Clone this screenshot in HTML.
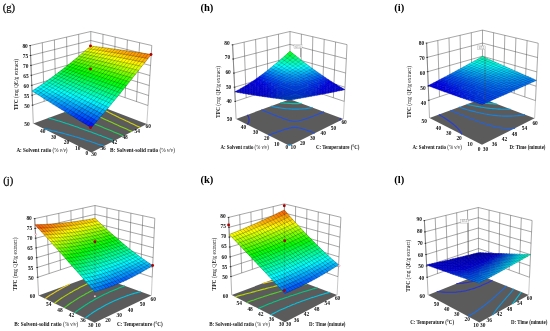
<!DOCTYPE html>
<html><head><meta charset="utf-8"><title>Response surface plots</title>
<style>html,body{margin:0;padding:0;background:#fff}svg{display:block;font-family:"Liberation Serif",serif;filter:blur(.35px)}</style>
</head><body>
<svg width="550" height="331" viewBox="0 0 550 331">
<rect width="550" height="331" fill="#fff"/>
<g><path d="M33.3 123.6 L91.4 152.4 L146.8 124 L90.7 102.5 Z" fill="#5b5b5b"/>
<path d="M103.7 146.1 L101.5 145.3 L100.4 144.9 L98.2 144.2 L96 143.4 L94.3 142.8 L92.6 142.3 L90.4 141.5 L88.1 140.8 L87 140.4 L84.7 139.7 L82.3 138.9 L81.2 138.6 L78.8 137.8 L77.1 137.3 L75.3 136.8 L72.9 136 L71.7 135.7 L69.2 135 L67.9 134.6 L65.5 134 L63.8 133.5 L61.7 132.9 L60 132.5 L57.8 132 L56.4 131.6 L53.8 131 L52.4 130.7 L49.9 130.1 L48.2 129.8 L46.8 129.5 L44.1 129 L44.1 129" fill="none" stroke="#0f98e1" stroke-width="1.1"/>
<path d="M114.1 140.8 L112 140 L110 139.2 L107.9 138.4 L106.4 137.8 L104.8 137.2 L102.8 136.4 L100.7 135.6 L98.6 134.9 L96.5 134.1 L94.9 133.5 L93.4 132.9 L91.3 132.1 L89.2 131.4 L87 130.6 L85.2 129.9 L83.8 129.4 L81.7 128.7 L79.5 127.9 L77.4 127.1 L76.3 126.7 L74.1 126 L71.9 125.2 L69.7 124.5 L68.5 124.1 L66.3 123.4 L64 122.6 L62.9 122.3 L60.6 121.5 L58.2 120.8 L57.1 120.4 L54.7 119.7 L53 119.2 L51.1 118.7 L48.6 118 L48.6 118" fill="none" stroke="#00c6b4" stroke-width="1.1"/>
<path d="M123.5 136 L121.6 135.2 L119.6 134.3 L117.7 133.5 L115.8 132.7 L113.8 131.9 L111.9 131.1 L110 130.3 L108 129.5 L106.1 128.7 L104.1 127.9 L102.2 127.1 L100.3 126.3 L98.3 125.5 L96.4 124.7 L94.5 123.9 L92.5 123.1 L90.6 122.3 L88.6 121.5 L87.7 121.1 L85.7 120.3 L83.8 119.5 L81.8 118.7 L79.9 117.9 L77.9 117.1 L76 116.3 L74 115.5 L72.1 114.7 L70.1 113.9 L68.1 113.1 L66.2 112.3 L65.2 111.9" fill="none" stroke="#28cd58" stroke-width="1.1"/>
<path d="M132.1 131.5 L130.3 130.7 L128.4 129.9 L126.6 129.1 L124.8 128.3 L123 127.5 L121.1 126.7 L119.3 125.9 L117.5 125.1 L115.7 124.2 L113.9 123.4 L112.1 122.6 L110.3 121.8 L109.1 121.3 L107.6 120.6 L105.8 119.8 L104 118.9 L102.2 118.1 L100.4 117.3 L98.7 116.5 L96.9 115.6 L95.1 114.8 L94 114.3 L92.5 113.6 L90.8 112.7 L89 111.9 L87.3 111.1 L85.6 110.2 L83.9 109.4 L83.1 109 L81.4 108.1 L79.7 107.3 L78.9 106.9" fill="none" stroke="#84d414" stroke-width="1.1"/>
<path d="M140.2 127.4 L138.4 126.6 L137.5 126.2 L135.8 125.4 L134 124.6 L132.3 123.8 L130.5 123 L128.8 122.1 L127.1 121.3 L125.9 120.8 L124.5 120.1 L122.8 119.3 L121.1 118.5 L119.4 117.7 L117.7 116.8 L116.9 116.4 L115.2 115.6 L113.5 114.8 L111.9 113.9 L110.2 113.1 L109.4 112.7 L107.8 111.8 L106.2 111 L104.6 110.2 L103.8 109.7 L102.2 108.9 L100.6 108.1 L99 107.2 L98.3 106.8 L96.7 105.9 L95.2 105.1 L94.4 104.6 L93 103.8 L91.5 102.9 L90.9 102.6" fill="none" stroke="#d2d20f" stroke-width="1.1"/>
<path d="M32.6 105.2 L30.2 45.5 M44.2 101.3 L42.3 42.7 M102.2 89.7 L103 34.3 M55.8 97.4 L54.4 39.9 M113.6 93.7 L115.2 37.1 M67.5 93.5 L66.6 37.1 M125.1 97.6 L127.4 39.9 M79.1 89.7 L78.7 34.3 M136.5 101.6 L139.6 42.7 M90.7 85.8 L90.8 31.5 M148 105.5 L151.8 45.5 M30.2 45.5 L90.8 31.5 L151.8 45.5 M30.6 55.5 L90.8 40.5 L151.2 55.5 M31 65.4 L90.8 49.6 L150.5 65.5 M31.4 75.3 L90.8 58.6 L149.9 75.5 M31.8 85.3 L90.7 67.7 L149.3 85.5 M32.2 95.2 L90.7 76.7 L148.6 95.5 M32.6 105.2 L90.7 85.8 L148 105.5" fill="none" stroke="#505050" stroke-width=".5"/>
<path d="M33.3 123.6 L30.2 45.5" stroke="#666" stroke-width=".5"/>
<path d="M146.8 124 L148 105.5" stroke="#777" stroke-width=".4"/>
<path d="M29.3 45.5 h1.6 M29.7 55.5 h1.6 M30.1 65.4 h1.6 M30.5 75.3 h1.6 M30.9 85.3 h1.6 M31.3 95.2 h1.6 M31.7 105.2 h1.6" stroke="#111" stroke-width=".8"/>
<g stroke-width=".35" stroke-linejoin="round">
<path d="M87.8 48.6l3 .5l3-2.7l-3-.4zM90.8 49.1l3 .4l3-2.7l-3-.4zM102.8 54.4l3 .5l3-3l-3-.5zM105.8 54.9l3 .6l3-3.2l-3-.4zM129.7 63.7l3 .7l3.1-3.7l-3-.6zM132.7 64.4l3 .7l3.1-3.8l-3-.6zM135.7 65.1l3 .6l3.2-3.8l-3.1-.6zM138.7 65.7l3 .7l3.2-3.9l-3-.6z" fill="#ffef00" stroke="#ffef00"/>
<path d="M84.8 51.2l3 .5l3-2.6l-3-.5zM87.8 51.7l3 .5l3-2.7l-3-.4zM102.7 58l3 .6l3.1-3.1l-3-.6zM105.7 58.6l3 .6l3.1-3.1l-3-.6zM108.7 59.2l3 .7l3.1-3.3l-3-.5z" fill="#ebff00" stroke="#ebff00"/>
<path d="M81.8 53.7l3 .6l3-2.6l-3-.5zM84.8 54.3l3 .6l3-2.7l-3-.5zM102.7 61.7l3 .7l3-3.2l-3-.6zM105.7 62.4l3 .7l3-3.2l-3-.7zM108.7 63.1l3 .7l3-3.3l-3-.6zM111.7 63.8l3 .7l3-3.4l-3-.6z" fill="#c5ff00" stroke="#c5ff00"/>
<path d="M93.8 49.5l3 .5l3-2.8l-3-.4zM108.8 55.5l3 .6l3-3.3l-3-.5zM111.8 56.1l3 .5l3-3.3l-3-.5zM114.8 56.6l3 .6l3-3.4l-3-.5z" fill="#ffe300" stroke="#ffe300"/>
<path d="M78.8 56.2l3 .7l3-2.6l-3-.6zM81.8 56.9l3 .7l3-2.7l-3-.6zM105.7 66.3l3 .8l3-3.3l-3-.7zM108.7 67.1l2.9 .7l3.1-3.3l-3-.7zM111.6 67.8l3 .8l3.1-3.4l-3-.7zM114.6 68.6l3 .8l3.1-3.5l-3-.7zM117.6 69.4l3 .8l3-3.5l-2.9-.8z" fill="#9fff00" stroke="#9fff00"/>
<path d="M90.8 52.2l3 .6l3-2.8l-3-.5zM93.8 52.8l3 .5l3-2.9l-3-.4zM111.7 59.9l3 .6l3.1-3.3l-3-.6zM114.7 60.5l3 .6l3.1-3.4l-3-.5zM117.7 61.1l3 .7l3.1-3.5l-3-.6z" fill="#f7ff00" stroke="#f7ff00"/>
<path d="M96.8 50l3 .4l3-2.9l-3-.3zM99.8 50.4l3 .5l3-3l-3-.4zM117.8 57.2l3 .5l3.1-3.4l-3.1-.5zM120.8 57.7l3 .6l3.1-3.5l-3-.5z" fill="#ffd800" stroke="#ffd800"/>
<path d="M75.9 58.7l3 .8l2.9-2.6l-3-.7zM78.9 59.5l2.9 .7l3-2.6l-3-.7zM111.6 72l3 .8l3-3.4l-3-.8zM114.6 72.8l3 .9l3-3.5l-3-.8zM117.6 73.7l2.9 .9l3.1-3.6l-3-.8zM120.5 74.6l3 .8l3.1-3.6l-3-.8zM123.5 75.4l3 .9l3-3.7l-2.9-.8zM126.5 76.3l3 .8l3-3.7l-3-.8zM129.5 77.1l2.9 .9l3.1-3.8l-3-.8z" fill="#79ff00" stroke="#79ff00"/>
<path d="M87.8 54.9l3 .6l3-2.7l-3-.6zM90.8 55.5l3 .6l3-2.8l-3-.5zM93.8 56.1l3 .7l3-2.9l-3-.6zM114.7 64.5l3 .7l3-3.4l-3-.7zM117.7 65.2l3 .7l3-3.5l-3-.6zM120.7 65.9l2.9 .8l3.1-3.6l-3-.7zM123.6 66.7l3 .7l3.1-3.7l-3-.6z" fill="#d1ff00" stroke="#d1ff00"/>
<path d="M72.9 61.1l3 .9l3-2.5l-3-.8z" fill="#52ff00" stroke="#52ff00"/>
<path d="M84.8 57.6l3 .7l3-2.8l-3-.6zM87.8 58.3l3 .6l3-2.8l-3-.6zM90.8 58.9l3 .7l3-2.8l-3-.7zM120.6 70.2l3 .8l3-3.6l-3-.7zM123.6 71l3 .8l3-3.7l-3-.7zM126.6 71.8l2.9 .8l3.1-3.8l-3-.7zM129.5 72.6l3 .8l3.1-3.8l-3-.8zM132.5 73.4l3 .8l3.1-3.9l-3-.7z" fill="#abff00" stroke="#abff00"/>
<path d="M96.8 53.3l3 .6l3-3l-3-.5zM99.8 53.9l3 .5l3-3l-3-.5zM120.7 61.8l3 .6l3.1-3.5l-3-.6zM123.7 62.4l3 .7l3.1-3.6l-3-.6zM126.7 63.1l3 .6l3.1-3.6l-3-.6z" fill="#fffa00" stroke="#fffa00"/>
<path d="M102.8 50.9l3 .5l3-3.1l-3-.4zM105.8 51.4l3 .5l3-3.1l-3-.5zM123.8 58.3l3 .6l3.1-3.6l-3-.5zM126.8 58.9l3 .6l3.1-3.7l-3-.5zM129.8 59.5l3 .6l3.1-3.7l-3-.6z" fill="#ffcc00" stroke="#ffcc00"/>
<path d="M70 63.5l2.9 .9l3-2.4l-3-.9zM72.9 64.4l3 .9l3-2.5l-3-.8zM75.9 65.3l3 .9l2.9-2.6l-2.9-.8zM78.9 66.2l2.9 .9l3-2.7l-3-.8zM81.8 67.1l3 .9l3-2.7l-3-.9zM84.8 68l3 .9l3-2.8l-3-.8zM87.8 68.9l3 .9l2.9-2.9l-2.9-.8z" fill="#39ff00" stroke="#39ff00"/>
<path d="M75.9 62l3 .8l2.9-2.6l-2.9-.7zM78.9 62.8l2.9 .8l3-2.6l-3-.8zM81.8 63.6l3 .8l3-2.7l-3-.7zM84.8 64.4l3 .9l3-2.8l-3-.8zM87.8 65.3l3 .8l2.9-2.9l-2.9-.7z" fill="#5fff00" stroke="#5fff00"/>
<path d="M81.8 60.2l3 .8l3-2.7l-3-.7zM84.8 61l3 .7l3-2.8l-3-.6zM87.8 61.7l3 .8l3-2.9l-3-.7zM90.8 62.5l2.9 .7l3-2.9l-2.9-.7z" fill="#85ff00" stroke="#85ff00"/>
<path d="M67 65.9l3 1l2.9-2.5l-2.9-.9zM70 66.9l3 .9l2.9-2.5l-3-.9zM73 67.8l2.9 1l3-2.6l-3-.9zM75.9 68.8l3 1l2.9-2.7l-2.9-.9zM78.9 69.8l3 1l2.9-2.8l-3-.9zM81.9 70.8l2.9 .9l3-2.8l-3-.9zM84.8 71.7l3 1l3-2.9l-3-.9zM87.8 72.7l3 1l2.9-2.9l-2.9-1zM90.8 73.7l2.9 1l3-3l-3-.9zM114.5 81.6l3 1l3-3.6l-3-.9zM117.5 82.6l2.9 1l3-3.7l-2.9-.9zM120.4 83.6l3 1l3-3.7l-3-1zM123.4 84.6l3 1l3-3.8l-3-.9z" fill="#13ff00" stroke="#13ff00"/>
<path d="M96.8 56.8l2.9 .6l3.1-3l-3-.5zM99.7 57.4l3 .6l3.1-3.1l-3-.5zM126.6 67.4l3 .7l3.1-3.7l-3-.7zM129.6 68.1l3 .7l3.1-3.7l-3-.7zM132.6 68.8l3 .8l3.1-3.9l-3-.6zM135.6 69.6l3 .7l3.1-3.9l-3-.7z" fill="#deff00" stroke="#deff00"/>
<path d="M108.8 51.9l3 .4l3.1-3.1l-3.1-.4zM111.8 52.3l3 .5l3.1-3.2l-3-.4zM132.8 60.1l3 .6l3.2-3.8l-3.1-.5zM135.8 60.7l3 .6l3.2-3.9l-3-.5zM138.8 61.3l3.1 .6l3.1-3.9l-3-.6z" fill="#ffc100" stroke="#ffc100"/>
<path d="M64.1 68.2l2.9 1.1l3-2.4l-3-1zM67 69.3l3 1l3-2.5l-3-.9zM70 70.3l3 1.1l2.9-2.6l-2.9-1zM73 71.4l2.9 1l3-2.6l-3-1zM75.9 72.4l3 1.1l3-2.7l-3-1zM78.9 73.5l3 1l2.9-2.8l-2.9-.9zM81.9 74.5l2.9 1.1l3-2.9l-3-1zM84.8 75.6l3 1l3-2.9l-3-1z" fill="#00ff07" stroke="#00ff07"/>
<path d="M93.8 59.6l2.9 .7l3-2.9l-2.9-.6zM96.7 60.3l3 .7l3-3l-3-.6zM99.7 61l3 .7l3-3.1l-3-.6z" fill="#b8ff00" stroke="#b8ff00"/>
<path d="M61.1 70.5l3 1.1l2.9-2.3l-2.9-1.1z" fill="#00ff21" stroke="#00ff21"/>
<path d="M114.8 52.8l3 .5l3.1-3.3l-3-.4zM117.8 53.3l3 .5l3.1-3.4l-3-.4zM141.9 61.9l3 .6l3.1-4l-3-.5z" fill="#ffb500" stroke="#ffb500"/>
<path d="M58.2 72.7l3 1.2l2.9-2.3l-3-1.1zM61.2 73.9l2.9 1.2l3-2.4l-3-1.1zM64.1 75.1l3 1.2l2.9-2.4l-2.9-1.2zM67.1 76.3l3 1.2l2.9-2.5l-3-1.1zM108.5 88.5l3 1.1l3-3.5l-3-1zM111.5 89.6l2.9 1.1l3-3.5l-2.9-1.1zM114.4 90.7l3 1.2l3-3.7l-3-1zM117.4 91.9l3 1.1l2.9-3.7l-2.9-1.1z" fill="#00ff48" stroke="#00ff48"/>
<path d="M64.1 71.6l3 1.1l2.9-2.4l-3-1zM67.1 72.7l2.9 1.2l3-2.5l-3-1.1zM70 73.9l3 1.1l2.9-2.6l-2.9-1zM73 75l3 1.1l2.9-2.6l-3-1.1zM76 76.1l2.9 1.1l3-2.7l-3-1zM78.9 77.2l3 1.1l2.9-2.7l-2.9-1.1zM81.9 78.3l3 1.2l2.9-2.9l-3-1zM84.9 79.5l2.9 1.1l3-2.9l-3-1.1z" fill="#00ff2e" stroke="#00ff2e"/>
<path d="M93.7 63.2l3 .8l3-3l-3-.7zM96.7 64l3 .8l3-3.1l-3-.7zM99.7 64.8l3 .7l3-3.1l-3-.7zM102.7 65.5l3 .8l3-3.2l-3-.7z" fill="#92ff00" stroke="#92ff00"/>
<path d="M55.3 74.9l3 1.3l2.9-2.3l-3-1.2zM58.3 76.2l2.9 1.3l2.9-2.4l-2.9-1.2zM61.2 77.5l3 1.2l2.9-2.4l-3-1.2zM84.9 83.5l2.9 1.2l3-3l-3-1.1zM87.8 84.7l3 1.2l2.9-3.1l-2.9-1.1zM90.8 85.9l2.9 1.2l3-3.1l-3-1.2zM93.7 87.1l3 1.2l3-3.2l-3-1.1zM96.7 88.3l3 1.2l2.9-3.3l-2.9-1.1zM99.7 89.5l2.9 1.2l3-3.3l-3-1.2z" fill="#00ff62" stroke="#00ff62"/>
<path d="M90.8 66.1l2.9 .8l3-2.9l-3-.8zM93.7 66.9l3 .9l3-3l-3-.8zM96.7 67.8l3 .8l3-3.1l-3-.7zM99.7 68.6l3 .9l3-3.2l-3-.8zM102.7 69.5l2.9 .8l3.1-3.2l-3-.8zM105.6 70.3l3 .8l3-3.3l-2.9-.7zM108.6 71.1l3 .9l3-3.4l-3-.8z" fill="#6cff00" stroke="#6cff00"/>
<path d="M120.8 53.8l3.1 .5l3.1-3.4l-3.1-.5zM123.9 54.3l3 .5l3.1-3.5l-3-.4z" fill="#ffaa00" stroke="#ffaa00"/>
<path d="M52.4 77.1l2.9 1.3l3-2.2l-3-1.3zM55.3 78.4l3 1.4l2.9-2.3l-2.9-1.3zM73.1 82.6l2.9 1.2l3-2.7l-3-1.2zM76 83.8l3 1.3l2.9-2.8l-2.9-1.2zM79 85.1l2.9 1.3l3-2.9l-3-1.2zM81.9 86.4l3 1.2l2.9-2.9l-2.9-1.2z" fill="#00ff7c" stroke="#00ff7c"/>
<path d="M49.4 79.2l3 1.4l2.9-2.2l-2.9-1.3zM52.4 80.6l3 1.5l2.9-2.3l-3-1.4zM67.2 83.8l2.9 1.4l3-2.6l-3-1.3zM70.1 85.2l3 1.3l2.9-2.7l-2.9-1.2zM73.1 86.5l3 1.3l2.9-2.7l-3-1.3zM96.7 92.7l3 1.3l2.9-3.3l-2.9-1.2zM99.7 94l2.9 1.2l3-3.3l-3-1.2zM102.6 95.2l3 1.3l2.9-3.4l-2.9-1.2zM105.6 96.5l2.9 1.2l3-3.4l-3-1.2z" fill="#00ff96" stroke="#00ff96"/>
<path d="M90.8 69.8l2.9 1l3-3l-3-.9zM93.7 70.8l3 .9l3-3.1l-3-.8zM96.7 71.7l3 .9l3-3.1l-3-.9zM99.7 72.6l2.9 .9l3-3.2l-2.9-.8zM102.6 73.5l3 .9l3-3.3l-3-.8zM105.6 74.4l3 .9l3-3.3l-3-.9zM108.6 75.3l3 .9l3-3.4l-3-.8zM111.6 76.2l2.9 1l3.1-3.5l-3-.9zM114.5 77.2l3 .9l3-3.5l-2.9-.9zM117.5 78.1l3 .9l3-3.6l-3-.8zM120.5 79l2.9 .9l3.1-3.6l-3-.9zM123.4 79.9l3 1l3.1-3.8l-3-.8zM126.4 80.9l3 .9l3-3.8l-2.9-.9z" fill="#46ff00" stroke="#46ff00"/>
<path d="M126.9 54.8l3 .5l3.1-3.6l-3-.4zM129.9 55.3l3 .5l3.1-3.6l-3-.5zM132.9 55.8l3 .6l3.2-3.8l-3.1-.4z" fill="#ff9f00" stroke="#ff9f00"/>
<path d="M46.5 81.3l3 1.5l2.9-2.2l-3-1.4zM49.5 82.8l3 1.5l2.9-2.2l-3-1.5zM61.3 84.9l3 1.4l2.9-2.5l-3-1.3zM64.3 86.3l2.9 1.4l2.9-2.5l-2.9-1.4zM84.9 91.8l3 1.4l2.9-3l-2.9-1.3zM87.9 93.2l2.9 1.3l3-3.1l-3-1.2zM90.8 94.5l3 1.4l2.9-3.2l-2.9-1.3z" fill="#00ffb1" stroke="#00ffb1"/>
<path d="M58.3 79.8l3 1.3l2.9-2.4l-3-1.2zM61.3 81.1l2.9 1.4l2.9-2.5l-2.9-1.3zM64.2 82.5l3 1.3l2.9-2.5l-3-1.3zM84.9 87.6l3 1.3l2.9-3l-3-1.2zM87.9 88.9l2.9 1.3l2.9-3.1l-2.9-1.2zM90.8 90.2l3 1.2l2.9-3.1l-3-1.2zM93.8 91.4l2.9 1.3l3-3.2l-3-1.2z" fill="#00ff89" stroke="#00ff89"/>
<path d="M64.2 78.7l2.9 1.3l3-2.5l-3-1.2zM67.1 80l3 1.3l2.9-2.6l-2.9-1.2zM70.1 81.3l3 1.3l2.9-2.7l-3-1.2zM102.6 90.7l3 1.2l2.9-3.4l-2.9-1.1zM105.6 91.9l2.9 1.2l3-3.5l-3-1.1zM108.5 93.1l3 1.2l2.9-3.6l-2.9-1.1zM111.5 94.3l2.9 1.2l3-3.6l-3-1.2zM114.4 95.5l3 1.2l3-3.7l-3-1.1z" fill="#00ff6f" stroke="#00ff6f"/>
<path d="M70.1 77.5l2.9 1.2l3-2.6l-3-1.1zM73 78.7l3 1.2l2.9-2.7l-2.9-1.1zM76 79.9l3 1.2l2.9-2.8l-3-1.1zM79 81.1l2.9 1.2l3-2.8l-3-1.2zM81.9 82.3l3 1.2l2.9-2.9l-2.9-1.1z" fill="#00ff55" stroke="#00ff55"/>
<path d="M43.6 83.3l3 1.6l2.9-2.1l-3-1.5zM46.6 84.9l3 1.6l2.9-2.2l-3-1.5zM58.4 87.3l3 1.4l2.9-2.4l-3-1.4zM61.4 88.7l2.9 1.5l2.9-2.5l-2.9-1.4zM76.1 91.9l3 1.5l2.9-2.9l-3-1.3zM79.1 93.4l2.9 1.4l2.9-3l-2.9-1.3zM102.6 99.9l3 1.3l2.9-3.5l-2.9-1.2zM105.6 101.2l2.9 1.3l3-3.5l-3-1.3zM108.5 102.5l3 1.3l2.9-3.5l-2.9-1.3z" fill="#00ffcb" stroke="#00ffcb"/>
<path d="M55.4 82.1l2.9 1.4l3-2.4l-3-1.3zM58.3 83.5l3 1.4l2.9-2.4l-2.9-1.4zM76.1 87.8l2.9 1.4l2.9-2.8l-2.9-1.3zM79 89.2l3 1.3l2.9-2.9l-3-1.2zM82 90.5l2.9 1.3l3-2.9l-3-1.3zM108.5 97.7l3 1.3l2.9-3.5l-2.9-1.2zM111.5 99l2.9 1.3l3-3.6l-3-1.2z" fill="#00ffa3" stroke="#00ffa3"/>
<path d="M40.7 85.3l3 1.7l2.9-2.1l-3-1.6zM43.7 87l3 1.6l2.9-2.1l-3-1.6zM52.5 88l3 1.6l2.9-2.3l-3-1.5zM55.5 89.6l3 1.5l2.9-2.4l-3-1.4zM70.2 93.2l3 1.5l2.9-2.8l-3-1.4zM73.2 94.7l3 1.5l2.9-2.8l-3-1.5zM90.9 99l2.9 1.4l2.9-3.2l-2.9-1.3zM93.8 100.4l3 1.4l2.9-3.3l-3-1.3zM96.8 101.8l2.9 1.4l2.9-3.3l-2.9-1.4z" fill="#00ffe5" stroke="#00ffe5"/>
<path d="M52.5 84.3l2.9 1.5l2.9-2.3l-2.9-1.4zM55.4 85.8l3 1.5l2.9-2.4l-3-1.4zM67.2 87.7l3 1.4l2.9-2.6l-3-1.3zM70.2 89.1l2.9 1.4l3-2.7l-3-1.3zM73.1 90.5l3 1.4l2.9-2.7l-2.9-1.4zM93.8 95.9l2.9 1.3l3-3.2l-3-1.3zM96.7 97.2l3 1.3l2.9-3.3l-2.9-1.2zM99.7 98.5l2.9 1.4l3-3.4l-3-1.3z" fill="#00ffbe" stroke="#00ffbe"/>
<path d="M87.8 76.6l3 1.1l2.9-3l-2.9-1zM90.8 77.7l2.9 1l3-3l-3-1zM93.7 78.7l3 1.1l3-3.2l-3-.9zM96.7 79.8l3 1l2.9-3.2l-2.9-1zM99.7 80.8l2.9 1.1l3-3.3l-3-1zM102.6 81.9l3 1l3-3.3l-3-1zM105.6 82.9l2.9 1.1l3-3.4l-2.9-1zM108.5 84l3 1.1l3-3.5l-3-1zM111.5 85.1l3 1l3-3.5l-3-1zM114.5 86.1l2.9 1.1l3-3.6l-2.9-1zM117.4 87.2l3 1l3-3.6l-3-1zM120.4 88.2l2.9 1.1l3.1-3.7l-3-1z" fill="#00ff14" stroke="#00ff14"/>
<path d="M93.7 74.7l3 1l3-3.1l-3-.9zM96.7 75.7l3 .9l2.9-3.1l-2.9-.9zM99.7 76.6l2.9 1l3-3.2l-3-.9zM102.6 77.6l3 1l3-3.3l-3-.9zM105.6 78.6l3 1l3-3.4l-3-.9zM108.6 79.6l2.9 1l3-3.4l-2.9-1zM111.5 80.6l3 1l3-3.5l-3-.9z" fill="#20ff00" stroke="#20ff00"/>
<path d="M135.9 56.4l3.1 .5l3.1-3.8l-3-.5zM139 56.9l3 .5l3.2-3.8l-3.1-.5z" fill="#ff9300" stroke="#ff9300"/>
<path d="M37.8 87.3l3 1.7l2.9-2l-3-1.7zM46.7 88.6l2.9 1.6l2.9-2.2l-2.9-1.5zM58.5 91.1l2.9 1.6l2.9-2.5l-2.9-1.5zM61.4 92.7l3 1.6l2.9-2.6l-3-1.5zM76.2 96.2l2.9 1.4l2.9-2.8l-2.9-1.4zM79.1 97.6l3 1.5l2.9-2.9l-3-1.4zM99.7 103.2l3 1.4l2.9-3.4l-3-1.3zM102.7 104.6l2.9 1.4l2.9-3.5l-2.9-1.3zM105.6 106l2.9 1.4l3-3.6l-3-1.3z" fill="#00fff2" stroke="#00fff2"/>
<path d="M49.6 86.5l2.9 1.5l2.9-2.2l-2.9-1.5zM64.3 90.2l3 1.5l2.9-2.6l-3-1.4zM67.3 91.7l2.9 1.5l2.9-2.7l-2.9-1.4zM82 94.8l3 1.4l2.9-3l-3-1.4zM85 96.2l2.9 1.4l2.9-3.1l-2.9-1.3zM87.9 97.6l3 1.4l2.9-3.1l-3-1.4z" fill="#00ffd8" stroke="#00ffd8"/>
<path d="M34.9 89.2l3 1.7l2.9-1.9l-3-1.7zM43.8 90.7l2.9 1.7l2.9-2.2l-2.9-1.6zM46.7 92.4l3 1.7l2.9-2.2l-3-1.7zM55.6 93.5l2.9 1.6l2.9-2.4l-2.9-1.6zM58.5 95.1l3 1.7l2.9-2.5l-3-1.6zM70.3 97.4l3 1.5l2.9-2.7l-3-1.5zM73.3 98.9l2.9 1.6l2.9-2.9l-2.9-1.4zM88 102.1l2.9 1.4l2.9-3.1l-2.9-1.4zM90.9 103.5l3 1.5l2.9-3.2l-3-1.4zM93.9 105l2.9 1.5l2.9-3.3l-2.9-1.4z" fill="#00f1ff" stroke="#00f1ff"/>
<path d="M40.8 89l3 1.7l2.9-2.1l-3-1.6zM49.6 90.2l3 1.7l2.9-2.3l-3-1.6zM52.6 91.9l3 1.6l2.9-2.4l-3-1.5zM64.4 94.3l2.9 1.5l2.9-2.6l-2.9-1.5zM67.3 95.8l3 1.6l2.9-2.7l-3-1.5zM82.1 99.1l2.9 1.5l2.9-3l-2.9-1.4zM85 100.6l3 1.5l2.9-3.1l-3-1.4z" fill="#00ffff" stroke="#00ffff"/>
<path d="M87.8 80.6l3 1.1l2.9-3l-2.9-1zM90.8 81.7l2.9 1.1l3-3l-3-1.1zM93.7 82.8l3 1.2l3-3.2l-3-1zM96.7 84l3 1.1l2.9-3.2l-2.9-1.1zM99.7 85.1l2.9 1.1l3-3.3l-3-1zM102.6 86.2l3 1.2l2.9-3.4l-2.9-1.1zM105.6 87.4l2.9 1.1l3-3.4l-3-1.1z" fill="#00ff3b" stroke="#00ff3b"/>
<path d="M142 57.4l3 .6l3.2-4l-3-.4zM145 58l3 .5l3.2-4l-3-.5z" fill="#ff8800" stroke="#ff8800"/>
<path d="M32 91l3 1.9l2.9-2l-3-1.7zM37.9 90.9l3 1.8l2.9-2l-3-1.7zM40.9 92.7l2.9 1.8l2.9-2.1l-2.9-1.7zM49.7 94.1l3 1.7l2.9-2.3l-3-1.6zM61.5 96.8l3 1.6l2.8-2.6l-2.9-1.5zM76.2 100.5l3 1.5l2.9-2.9l-3-1.5zM79.2 102l2.9 1.6l2.9-3l-2.9-1.5zM96.8 106.5l2.9 1.4l3-3.3l-3-1.4zM99.7 107.9l3 1.5l2.9-3.4l-2.9-1.4z" fill="#00e4ff" stroke="#00e4ff"/>
<path d="M35 92.9l3 1.8l2.9-2l-3-1.8zM43.8 94.5l3 1.8l2.9-2.2l-3-1.7zM52.7 95.8l2.9 1.7l2.9-2.4l-2.9-1.6zM64.5 98.4l2.9 1.6l2.9-2.6l-3-1.6zM67.4 100l3 1.6l2.9-2.7l-3-1.5zM82.1 103.6l3 1.5l2.9-3l-3-1.5zM85.1 105.1l2.9 1.5l2.9-3.1l-2.9-1.4zM102.7 109.4l2.9 1.5l2.9-3.5l-2.9-1.4z" fill="#00d6ff" stroke="#00d6ff"/>
<path d="M38 94.7l3 1.9l2.8-2.1l-2.9-1.8zM46.8 96.3l3 1.8l2.9-2.3l-3-1.7zM55.6 97.5l3 1.7l2.9-2.4l-3-1.7zM58.6 99.2l3 1.7l2.9-2.5l-3-1.6zM70.4 101.6l2.9 1.7l2.9-2.8l-2.9-1.6zM73.3 103.3l3 1.6l2.9-2.9l-3-1.5zM88 106.6l3 1.6l2.9-3.2l-3-1.5zM91 108.2l2.9 1.5l2.9-3.2l-2.9-1.5z" fill="#00c8ff" stroke="#00c8ff"/>
<path d="M41 96.6l2.9 1.8l2.9-2.1l-3-1.8zM49.8 98.1l3 1.7l2.8-2.3l-2.9-1.7zM61.6 100.9l2.9 1.7l2.9-2.6l-2.9-1.6zM76.3 104.9l2.9 1.6l2.9-2.9l-2.9-1.6zM79.2 106.5l3 1.6l2.9-3l-3-1.5zM93.9 109.7l3 1.5l2.8-3.3l-2.9-1.4zM96.9 111.2l2.9 1.6l2.9-3.4l-3-1.5z" fill="#00baff" stroke="#00baff"/>
<path d="M43.9 98.4l3 1.9l2.9-2.2l-3-1.8zM52.8 99.8l2.9 1.8l2.9-2.4l-3-1.7zM55.7 101.6l3 1.8l2.9-2.5l-3-1.7zM64.5 102.6l3 1.7l2.9-2.7l-3-1.6zM67.5 104.3l2.9 1.7l2.9-2.7l-2.9-1.7zM82.2 108.1l2.9 1.6l2.9-3.1l-2.9-1.5zM99.8 112.8l2.9 1.5l2.9-3.4l-2.9-1.5z" fill="#00adff" stroke="#00adff"/>
<path d="M46.9 100.3l3 1.8l2.9-2.3l-3-1.7zM49.9 102.1l2.9 1.9l2.9-2.4l-2.9-1.8zM58.7 103.4l3 1.8l2.8-2.6l-2.9-1.7zM70.4 106l3 1.7l2.9-2.8l-3-1.6zM73.4 107.7l3 1.7l2.8-2.9l-2.9-1.6zM85.1 109.7l3 1.6l2.9-3.1l-3-1.6zM88.1 111.3l2.9 1.6l2.9-3.2l-2.9-1.5z" fill="#009fff" stroke="#009fff"/>
<path d="M52.8 104l3 1.8l2.9-2.4l-3-1.8zM61.7 105.2l2.9 1.7l2.9-2.6l-3-1.7zM64.6 106.9l3 1.8l2.8-2.7l-2.9-1.7zM76.4 109.4l2.9 1.6l2.9-2.9l-3-1.6zM91 112.9l3 1.6l2.9-3.3l-3-1.5zM94 114.5l2.9 1.6l2.9-3.3l-2.9-1.6z" fill="#0091ff" stroke="#0091ff"/>
<path d="M55.8 105.8l3 1.9l2.9-2.5l-3-1.8zM67.6 108.7l2.9 1.7l2.9-2.7l-3-1.7zM79.3 111l3 1.7l2.8-3l-2.9-1.6zM82.3 112.7l2.9 1.7l2.9-3.1l-3-1.6zM96.9 116.1l3 1.6l2.8-3.4l-2.9-1.5z" fill="#0084ff" stroke="#0084ff"/>
<path d="M58.8 107.7l2.9 1.8l2.9-2.6l-2.9-1.7zM70.5 110.4l3 1.8l2.9-2.8l-3-1.7zM73.5 112.2l2.9 1.7l2.9-2.9l-2.9-1.6zM85.2 114.4l3 1.7l2.8-3.2l-2.9-1.6zM88.2 116.1l2.9 1.6l2.9-3.2l-3-1.6z" fill="#0076ff" stroke="#0076ff"/>
<path d="M61.7 109.5l3 1.8l2.9-2.6l-3-1.8zM64.7 111.3l3 1.9l2.8-2.8l-2.9-1.7zM76.4 113.9l3 1.8l2.9-3l-3-1.7zM91.1 117.7l2.9 1.7l2.9-3.3l-2.9-1.6zM94 119.4l3 1.6l2.9-3.3l-3-1.6z" fill="#0068ff" stroke="#0068ff"/>
<path d="M67.7 113.2l2.9 1.8l2.9-2.8l-3-1.8zM79.4 115.7l2.9 1.7l2.9-3l-2.9-1.7zM82.3 117.4l3 1.8l2.9-3.1l-3-1.7z" fill="#005aff" stroke="#005aff"/>
<path d="M70.6 115l3 1.8l2.8-2.9l-2.9-1.7zM85.3 119.2l2.9 1.7l2.9-3.2l-2.9-1.6z" fill="#004dff" stroke="#004dff"/>
<path d="M73.6 116.8l2.9 1.8l2.9-2.9l-3-1.8zM76.5 118.6l3 1.8l2.8-3l-2.9-1.7zM88.2 120.9l3 1.7l2.8-3.2l-2.9-1.7zM91.2 122.6l2.9 1.7l2.9-3.3l-3-1.6z" fill="#003fff" stroke="#003fff"/>
<path d="M79.5 120.4l2.9 1.8l2.9-3l-3-1.8z" fill="#0031ff" stroke="#0031ff"/>
<path d="M82.4 122.2l3 1.8l2.8-3.1l-2.9-1.7zM85.4 124l2.9 1.8l2.9-3.2l-3-1.7z" fill="#0024ff" stroke="#0024ff"/>
<path d="M88.3 125.8l3 1.8l2.8-3.3l-2.9-1.7z" fill="#0016ff" stroke="#0016ff"/>
</g>
<path d="M32 91 L34.9 89.2 L37.8 87.3 L40.7 85.3 L43.6 83.3 L46.5 81.3 L49.4 79.2 L52.4 77.1 L55.3 74.9 L58.2 72.7 L61.1 70.5 L64.1 68.2 L67 65.9 L70 63.5 L72.9 61.1 L75.9 58.7 L78.8 56.2 L81.8 53.7 L84.8 51.2 L87.8 48.6 L90.8 46 M32 91 L35 92.9 L38 94.7 L41 96.6 L43.9 98.4 L46.9 100.3 L49.9 102.1 L52.8 104 L55.8 105.8 L58.8 107.7 L61.7 109.5 L64.7 111.3 L67.7 113.2 L70.6 115 L73.6 116.8 L76.5 118.6 L79.5 120.4 L82.4 122.2 L85.4 124 L88.3 125.8 L91.3 127.6 M35 92.9 L37.9 90.9 L40.8 89 L43.7 87 L46.6 84.9 L49.5 82.8 L52.4 80.6 L55.3 78.4 L58.3 76.2 L61.2 73.9 L64.1 71.6 L67 69.3 L70 66.9 L72.9 64.4 L75.9 62 L78.9 59.5 L81.8 56.9 L84.8 54.3 L87.8 51.7 L90.8 49.1 L93.8 46.4 M34.9 89.2 L37.9 90.9 L40.9 92.7 L43.8 94.5 L46.8 96.3 L49.8 98.1 L52.8 99.8 L55.7 101.6 L58.7 103.4 L61.7 105.2 L64.6 106.9 L67.6 108.7 L70.5 110.4 L73.5 112.2 L76.4 113.9 L79.4 115.7 L82.3 117.4 L85.3 119.2 L88.2 120.9 L91.2 122.6 L94.1 124.3 M38 94.7 L40.9 92.7 L43.8 90.7 L46.7 88.6 L49.6 86.5 L52.5 84.3 L55.4 82.1 L58.3 79.8 L61.2 77.5 L64.1 75.1 L67.1 72.7 L70 70.3 L73 67.8 L75.9 65.3 L78.9 62.8 L81.8 60.2 L84.8 57.6 L87.8 54.9 L90.8 52.2 L93.8 49.5 L96.8 46.8 M37.8 87.3 L40.8 89 L43.8 90.7 L46.7 92.4 L49.7 94.1 L52.7 95.8 L55.6 97.5 L58.6 99.2 L61.6 100.9 L64.5 102.6 L67.5 104.3 L70.4 106 L73.4 107.7 L76.4 109.4 L79.3 111 L82.3 112.7 L85.2 114.4 L88.2 116.1 L91.1 117.7 L94 119.4 L97 121 M41 96.6 L43.8 94.5 L46.7 92.4 L49.6 90.2 L52.5 88 L55.4 85.8 L58.3 83.5 L61.3 81.1 L64.2 78.7 L67.1 76.3 L70 73.9 L73 71.4 L75.9 68.8 L78.9 66.2 L81.8 63.6 L84.8 61 L87.8 58.3 L90.8 55.5 L93.8 52.8 L96.8 50 L99.8 47.2 M40.7 85.3 L43.7 87 L46.7 88.6 L49.6 90.2 L52.6 91.9 L55.6 93.5 L58.5 95.1 L61.5 96.8 L64.5 98.4 L67.4 100 L70.4 101.6 L73.3 103.3 L76.3 104.9 L79.2 106.5 L82.2 108.1 L85.1 109.7 L88.1 111.3 L91 112.9 L94 114.5 L96.9 116.1 L99.9 117.7 M43.9 98.4 L46.8 96.3 L49.7 94.1 L52.6 91.9 L55.5 89.6 L58.4 87.3 L61.3 84.9 L64.2 82.5 L67.1 80 L70.1 77.5 L73 75 L75.9 72.4 L78.9 69.8 L81.8 67.1 L84.8 64.4 L87.8 61.7 L90.8 58.9 L93.8 56.1 L96.8 53.3 L99.8 50.4 L102.8 47.5 M43.6 83.3 L46.6 84.9 L49.6 86.5 L52.5 88 L55.5 89.6 L58.5 91.1 L61.4 92.7 L64.4 94.3 L67.3 95.8 L70.3 97.4 L73.3 98.9 L76.2 100.5 L79.2 102 L82.1 103.6 L85.1 105.1 L88 106.6 L91 108.2 L93.9 109.7 L96.9 111.2 L99.8 112.8 L102.7 114.3 M46.9 100.3 L49.8 98.1 L52.7 95.8 L55.6 93.5 L58.5 91.1 L61.4 88.7 L64.3 86.3 L67.2 83.8 L70.1 81.3 L73 78.7 L76 76.1 L78.9 73.5 L81.9 70.8 L84.8 68 L87.8 65.3 L90.8 62.5 L93.8 59.6 L96.8 56.8 L99.8 53.9 L102.8 50.9 L105.8 47.9 M46.5 81.3 L49.5 82.8 L52.5 84.3 L55.4 85.8 L58.4 87.3 L61.4 88.7 L64.3 90.2 L67.3 91.7 L70.2 93.2 L73.2 94.7 L76.2 96.2 L79.1 97.6 L82.1 99.1 L85 100.6 L88 102.1 L90.9 103.5 L93.9 105 L96.8 106.5 L99.7 107.9 L102.7 109.4 L105.6 110.9 M49.9 102.1 L52.8 99.8 L55.6 97.5 L58.5 95.1 L61.4 92.7 L64.3 90.2 L67.2 87.7 L70.1 85.2 L73.1 82.6 L76 79.9 L78.9 77.2 L81.9 74.5 L84.8 71.7 L87.8 68.9 L90.8 66.1 L93.7 63.2 L96.7 60.3 L99.7 57.4 L102.8 54.4 L105.8 51.4 L108.8 48.3 M49.4 79.2 L52.4 80.6 L55.4 82.1 L58.3 83.5 L61.3 84.9 L64.3 86.3 L67.2 87.7 L70.2 89.1 L73.1 90.5 L76.1 91.9 L79.1 93.4 L82 94.8 L85 96.2 L87.9 97.6 L90.9 99 L93.8 100.4 L96.8 101.8 L99.7 103.2 L102.7 104.6 L105.6 106 L108.5 107.4 M52.8 104 L55.7 101.6 L58.6 99.2 L61.5 96.8 L64.4 94.3 L67.3 91.7 L70.2 89.1 L73.1 86.5 L76 83.8 L79 81.1 L81.9 78.3 L84.8 75.6 L87.8 72.7 L90.8 69.8 L93.7 66.9 L96.7 64 L99.7 61 L102.7 58 L105.8 54.9 L108.8 51.9 L111.8 48.8 M52.4 77.1 L55.3 78.4 L58.3 79.8 L61.3 81.1 L64.2 82.5 L67.2 83.8 L70.1 85.2 L73.1 86.5 L76.1 87.8 L79 89.2 L82 90.5 L84.9 91.8 L87.9 93.2 L90.8 94.5 L93.8 95.9 L96.7 97.2 L99.7 98.5 L102.6 99.9 L105.6 101.2 L108.5 102.5 L111.5 103.8 M55.8 105.8 L58.7 103.4 L61.6 100.9 L64.5 98.4 L67.3 95.8 L70.2 93.2 L73.1 90.5 L76.1 87.8 L79 85.1 L81.9 82.3 L84.9 79.5 L87.8 76.6 L90.8 73.7 L93.7 70.8 L96.7 67.8 L99.7 64.8 L102.7 61.7 L105.7 58.6 L108.8 55.5 L111.8 52.3 L114.9 49.2 M55.3 74.9 L58.3 76.2 L61.2 77.5 L64.2 78.7 L67.1 80 L70.1 81.3 L73.1 82.6 L76 83.8 L79 85.1 L81.9 86.4 L84.9 87.6 L87.9 88.9 L90.8 90.2 L93.8 91.4 L96.7 92.7 L99.7 94 L102.6 95.2 L105.6 96.5 L108.5 97.7 L111.5 99 L114.4 100.3 M58.8 107.7 L61.7 105.2 L64.5 102.6 L67.4 100 L70.3 97.4 L73.2 94.7 L76.1 91.9 L79 89.2 L81.9 86.4 L84.9 83.5 L87.8 80.6 L90.8 77.7 L93.7 74.7 L96.7 71.7 L99.7 68.6 L102.7 65.5 L105.7 62.4 L108.7 59.2 L111.8 56.1 L114.8 52.8 L117.9 49.6 M58.2 72.7 L61.2 73.9 L64.1 75.1 L67.1 76.3 L70.1 77.5 L73 78.7 L76 79.9 L79 81.1 L81.9 82.3 L84.9 83.5 L87.8 84.7 L90.8 85.9 L93.7 87.1 L96.7 88.3 L99.7 89.5 L102.6 90.7 L105.6 91.9 L108.5 93.1 L111.5 94.3 L114.4 95.5 L117.4 96.7 M61.7 109.5 L64.6 106.9 L67.5 104.3 L70.4 101.6 L73.3 98.9 L76.2 96.2 L79.1 93.4 L82 90.5 L84.9 87.6 L87.8 84.7 L90.8 81.7 L93.7 78.7 L96.7 75.7 L99.7 72.6 L102.7 69.5 L105.7 66.3 L108.7 63.1 L111.7 59.9 L114.8 56.6 L117.8 53.3 L120.9 50 M61.1 70.5 L64.1 71.6 L67.1 72.7 L70 73.9 L73 75 L76 76.1 L78.9 77.2 L81.9 78.3 L84.9 79.5 L87.8 80.6 L90.8 81.7 L93.7 82.8 L96.7 84 L99.7 85.1 L102.6 86.2 L105.6 87.4 L108.5 88.5 L111.5 89.6 L114.4 90.7 L117.4 91.9 L120.4 93 M64.7 111.3 L67.6 108.7 L70.4 106 L73.3 103.3 L76.2 100.5 L79.1 97.6 L82 94.8 L84.9 91.8 L87.9 88.9 L90.8 85.9 L93.7 82.8 L96.7 79.8 L99.7 76.6 L102.6 73.5 L105.6 70.3 L108.7 67.1 L111.7 63.8 L114.7 60.5 L117.8 57.2 L120.8 53.8 L123.9 50.4 M64.1 68.2 L67 69.3 L70 70.3 L73 71.4 L75.9 72.4 L78.9 73.5 L81.9 74.5 L84.8 75.6 L87.8 76.6 L90.8 77.7 L93.7 78.7 L96.7 79.8 L99.7 80.8 L102.6 81.9 L105.6 82.9 L108.5 84 L111.5 85.1 L114.5 86.1 L117.4 87.2 L120.4 88.2 L123.3 89.3 M67.7 113.2 L70.5 110.4 L73.4 107.7 L76.3 104.9 L79.2 102 L82.1 99.1 L85 96.2 L87.9 93.2 L90.8 90.2 L93.7 87.1 L96.7 84 L99.7 80.8 L102.6 77.6 L105.6 74.4 L108.6 71.1 L111.6 67.8 L114.7 64.5 L117.7 61.1 L120.8 57.7 L123.9 54.3 L127 50.9 M67 65.9 L70 66.9 L73 67.8 L75.9 68.8 L78.9 69.8 L81.9 70.8 L84.8 71.7 L87.8 72.7 L90.8 73.7 L93.7 74.7 L96.7 75.7 L99.7 76.6 L102.6 77.6 L105.6 78.6 L108.6 79.6 L111.5 80.6 L114.5 81.6 L117.5 82.6 L120.4 83.6 L123.4 84.6 L126.4 85.6 M70.6 115 L73.5 112.2 L76.4 109.4 L79.2 106.5 L82.1 103.6 L85 100.6 L87.9 97.6 L90.8 94.5 L93.8 91.4 L96.7 88.3 L99.7 85.1 L102.6 81.9 L105.6 78.6 L108.6 75.3 L111.6 72 L114.6 68.6 L117.7 65.2 L120.7 61.8 L123.8 58.3 L126.9 54.8 L130 51.3 M70 63.5 L72.9 64.4 L75.9 65.3 L78.9 66.2 L81.8 67.1 L84.8 68 L87.8 68.9 L90.8 69.8 L93.7 70.8 L96.7 71.7 L99.7 72.6 L102.6 73.5 L105.6 74.4 L108.6 75.3 L111.6 76.2 L114.5 77.2 L117.5 78.1 L120.5 79 L123.4 79.9 L126.4 80.9 L129.4 81.8 M73.6 116.8 L76.4 113.9 L79.3 111 L82.2 108.1 L85.1 105.1 L88 102.1 L90.9 99 L93.8 95.9 L96.7 92.7 L99.7 89.5 L102.6 86.2 L105.6 82.9 L108.6 79.6 L111.6 76.2 L114.6 72.8 L117.6 69.4 L120.7 65.9 L123.7 62.4 L126.8 58.9 L129.9 55.3 L133 51.7 M72.9 61.1 L75.9 62 L78.9 62.8 L81.8 63.6 L84.8 64.4 L87.8 65.3 L90.8 66.1 L93.7 66.9 L96.7 67.8 L99.7 68.6 L102.7 69.5 L105.6 70.3 L108.6 71.1 L111.6 72 L114.6 72.8 L117.6 73.7 L120.5 74.6 L123.5 75.4 L126.5 76.3 L129.5 77.1 L132.4 78 M76.5 118.6 L79.4 115.7 L82.3 112.7 L85.1 109.7 L88 106.6 L90.9 103.5 L93.8 100.4 L96.7 97.2 L99.7 94 L102.6 90.7 L105.6 87.4 L108.5 84 L111.5 80.6 L114.5 77.2 L117.6 73.7 L120.6 70.2 L123.6 66.7 L126.7 63.1 L129.8 59.5 L132.9 55.8 L136 52.2 M75.9 58.7 L78.9 59.5 L81.8 60.2 L84.8 61 L87.8 61.7 L90.8 62.5 L93.7 63.2 L96.7 64 L99.7 64.8 L102.7 65.5 L105.7 66.3 L108.7 67.1 L111.6 67.8 L114.6 68.6 L117.6 69.4 L120.6 70.2 L123.6 71 L126.6 71.8 L129.5 72.6 L132.5 73.4 L135.5 74.2 M79.5 120.4 L82.3 117.4 L85.2 114.4 L88.1 111.3 L91 108.2 L93.9 105 L96.8 101.8 L99.7 98.5 L102.6 95.2 L105.6 91.9 L108.5 88.5 L111.5 85.1 L114.5 81.6 L117.5 78.1 L120.5 74.6 L123.6 71 L126.6 67.4 L129.7 63.7 L132.8 60.1 L135.9 56.4 L139.1 52.6 M78.8 56.2 L81.8 56.9 L84.8 57.6 L87.8 58.3 L90.8 58.9 L93.8 59.6 L96.7 60.3 L99.7 61 L102.7 61.7 L105.7 62.4 L108.7 63.1 L111.7 63.8 L114.7 64.5 L117.7 65.2 L120.7 65.9 L123.6 66.7 L126.6 67.4 L129.6 68.1 L132.6 68.8 L135.6 69.6 L138.6 70.3 M82.4 122.2 L85.3 119.2 L88.2 116.1 L91 112.9 L93.9 109.7 L96.8 106.5 L99.7 103.2 L102.6 99.9 L105.6 96.5 L108.5 93.1 L111.5 89.6 L114.5 86.1 L117.5 82.6 L120.5 79 L123.5 75.4 L126.6 71.8 L129.6 68.1 L132.7 64.4 L135.8 60.7 L139 56.9 L142.1 53.1 M81.8 53.7 L84.8 54.3 L87.8 54.9 L90.8 55.5 L93.8 56.1 L96.8 56.8 L99.7 57.4 L102.7 58 L105.7 58.6 L108.7 59.2 L111.7 59.9 L114.7 60.5 L117.7 61.1 L120.7 61.8 L123.7 62.4 L126.7 63.1 L129.7 63.7 L132.7 64.4 L135.7 65.1 L138.7 65.7 L141.7 66.4 M85.4 124 L88.2 120.9 L91.1 117.7 L94 114.5 L96.9 111.2 L99.7 107.9 L102.7 104.6 L105.6 101.2 L108.5 97.7 L111.5 94.3 L114.4 90.7 L117.4 87.2 L120.4 83.6 L123.4 79.9 L126.5 76.3 L129.5 72.6 L132.6 68.8 L135.7 65.1 L138.8 61.3 L142 57.4 L145.2 53.6 M84.8 51.2 L87.8 51.7 L90.8 52.2 L93.8 52.8 L96.8 53.3 L99.8 53.9 L102.8 54.4 L105.8 54.9 L108.8 55.5 L111.8 56.1 L114.8 56.6 L117.8 57.2 L120.8 57.7 L123.8 58.3 L126.8 58.9 L129.8 59.5 L132.8 60.1 L135.8 60.7 L138.8 61.3 L141.9 61.9 L144.9 62.5 M88.3 125.8 L91.2 122.6 L94 119.4 L96.9 116.1 L99.8 112.8 L102.7 109.4 L105.6 106 L108.5 102.5 L111.5 99 L114.4 95.5 L117.4 91.9 L120.4 88.2 L123.4 84.6 L126.4 80.9 L129.5 77.1 L132.5 73.4 L135.6 69.6 L138.7 65.7 L141.9 61.9 L145 58 L148.2 54 M87.8 48.6 L90.8 49.1 L93.8 49.5 L96.8 50 L99.8 50.4 L102.8 50.9 L105.8 51.4 L108.8 51.9 L111.8 52.3 L114.8 52.8 L117.8 53.3 L120.8 53.8 L123.9 54.3 L126.9 54.8 L129.9 55.3 L132.9 55.8 L135.9 56.4 L139 56.9 L142 57.4 L145 58 L148 58.5 M91.3 127.6 L94.1 124.3 L97 121 L99.9 117.7 L102.7 114.3 L105.6 110.9 L108.5 107.4 L111.5 103.8 L114.4 100.3 L117.4 96.7 L120.4 93 L123.3 89.3 L126.4 85.6 L129.4 81.8 L132.4 78 L135.5 74.2 L138.6 70.3 L141.7 66.4 L144.9 62.5 L148 58.5 L151.2 54.5 M90.8 46 L93.8 46.4 L96.8 46.8 L99.8 47.2 L102.8 47.5 L105.8 47.9 L108.8 48.3 L111.8 48.8 L114.9 49.2 L117.9 49.6 L120.9 50 L123.9 50.4 L127 50.9 L130 51.3 L133 51.7 L136 52.2 L139.1 52.6 L142.1 53.1 L145.2 53.6 L148.2 54 L151.2 54.5" fill="none" stroke="#000" stroke-opacity="0.62" stroke-width=".4"/>
<circle cx="90.5" cy="46" r="1.45" fill="#b00000"/>
<circle cx="151" cy="54.5" r="1.45" fill="#b00000"/>
<circle cx="90.5" cy="69" r="1.45" fill="#b00000"/>
<circle cx="90.5" cy="127.6" r="1.45" fill="#b00000"/>
<g font-size="5.4" font-weight="bold" fill="#111"><text x="27.8" y="47.7" text-anchor="end">80</text><text x="28.1" y="57.7" text-anchor="end">75</text><text x="28.4" y="67.6" text-anchor="end">70</text><text x="28.7" y="77.6" text-anchor="end">65</text><text x="29" y="87.6" text-anchor="end">60</text><text x="29.3" y="97.5" text-anchor="end">55</text><text x="29.6" y="107.5" text-anchor="end">50</text><text x="27" y="125.7" text-anchor="middle">50</text><text x="42.7" y="133.4" text-anchor="middle">40</text><text x="53.6" y="139.1" text-anchor="middle">30</text><text x="66.4" y="144.3" text-anchor="middle">20</text><text x="77.8" y="150" text-anchor="middle">10</text><text x="86.9" y="155.4" text-anchor="middle">0</text><text x="94" y="155.8" text-anchor="middle">30</text><text x="103.1" y="150" text-anchor="middle">36</text><text x="114.5" y="144.3" text-anchor="middle">42</text><text x="125.1" y="139.1" text-anchor="middle">48</text><text x="137.3" y="133.4" text-anchor="middle">54</text><text x="148.3" y="127.7" text-anchor="middle">60</text></g>
<text x="42" y="152.1" font-size="5.6" font-weight="bold" fill="#111" text-anchor="middle" textLength="51.2" lengthAdjust="spacingAndGlyphs">A: Solvent ratio <tspan font-weight="normal">(% <tspan font-style="italic">v</tspan>/<tspan font-style="italic">v</tspan>)</tspan></text>
<text x="142.5" y="152.1" font-size="5.6" font-weight="bold" fill="#111" text-anchor="middle" textLength="65" lengthAdjust="spacingAndGlyphs">B: Solvent-solid ratio <tspan font-weight="normal">(% <tspan font-style="italic">v</tspan>/<tspan font-style="italic">v</tspan>)</tspan></text>
<text x="18.4" y="84.5" font-size="5.6" font-weight="bold" fill="#111" text-anchor="middle" textLength="51" lengthAdjust="spacingAndGlyphs" transform="rotate(-90 18.4 84.5)">TFC <tspan font-weight="normal">(mg QE/g extract)</tspan></text>
<text x="2.7" y="10.9" font-size="10.6" stroke="#000" stroke-width=".22" fill="#000">(g)</text></g>
<g><path d="M236.1 118.9 L289.5 145.8 L343.4 118.9 L290 99.2 Z" fill="#5b5b5b"/>
<path d="M247.3 124.5 L247.8 123.9 L248.3 122.9 L248.7 122 L248.9 121.3 L249 120.6 L249.1 119.9 L249 119.1 L248.9 118.2 L248.6 117.3 L248.4 116.7 L248.1 116 L247.7 115.3 L247.3 114.8" fill="none" stroke="#2b31ce" stroke-width="1.1"/>
<path d="M340.6 117.9 L340.3 118.5 L340.1 119.3 L340 120 L340 120.6" fill="none" stroke="#2b31ce" stroke-width="1.1"/>
<path d="M324.1 111.8 L322.2 112.5 L320.3 113.3 L319.3 113.7 L317.4 114.5 L315.5 115.2 L313.6 116 L311.6 116.7 L309.7 117.5 L307.7 118.2 L306.7 118.6 L304.6 119.3 L302.5 119.9 L301.3 120.3 L299 120.8 L297.7 121 L295.7 121.2 L293.9 121.2 L292.3 121 L290 120.6 L288.7 120.3 L286.8 119.7 L284.7 119 L282.8 118.3 L281 117.6 L279.9 117.2 L278 116.5 L276.1 115.7 L274.2 115 L272.4 114.2 L270.5 113.5 L268.7 112.7 L266.9 112 L265 111.2 L263.2 110.4 L261.4 109.7 L261.4 109.7" fill="none" stroke="#224fe3" stroke-width="1.1"/>
<path d="M268.5 135.2 L270.5 134.5 L272.5 133.8 L274.4 133.1 L275.4 132.7 L277.4 132 L279.4 131.3 L281.4 130.6 L283.3 129.9 L284.4 129.5 L286.6 128.9 L288.8 128.3 L290 128 L292 127.6 L294.1 127.4 L295.9 127.4 L297.3 127.6 L298.6 127.8 L300.9 128.3 L303.1 129 L304.1 129.3 L306.1 130 L308 130.7 L310 131.4 L311.9 132.1 L313.7 132.8 L314.7 133.2 L314.7 133.2" fill="none" stroke="#224fe3" stroke-width="1.1"/>
<path d="M312.7 107.6 L311.2 107.8 L308.7 108.2 L307.3 108.4 L305.8 108.6 L304 108.7 L301.9 108.9 L299.9 109 L298 109.1 L296.1 109.1 L294.4 109.1 L292.7 109.1 L291.1 109 L289.5 108.9 L288 108.8 L286 108.7 L283.6 108.4 L282.3 108.2 L280.9 108 L278.3 107.6 L277 107.4 L275.2 107.1 L273.3 106.7 L271.8 106.4 L270.9 106.2" fill="none" stroke="#0f98e1" stroke-width="1.1"/>
<path d="M287.7 144.9 L289.3 144.8 L290.9 144.7 L291.7 144.7" fill="none" stroke="#0f98e1" stroke-width="1.1"/>
<path d="M301.5 103.4 L299.7 103.5 L297.9 103.6 L296.1 103.6 L294.3 103.6 L292.6 103.6 L290.7 103.5 L288.7 103.4 L286.6 103.3 L284.7 103.1 L283.2 103 L281.8 102.9 L280.3 102.7" fill="none" stroke="#00c6b4" stroke-width="1.1"/>
<path d="M291.7 99.8 L289.8 99.8 L288.5 99.7" fill="none" stroke="#28cd58" stroke-width="1.1"/>
<path d="M235.3 101.4 L232.6 44.8 M246.2 97.8 L244.1 42.1 M300.9 86.8 L301.4 34.1 M257.2 94.1 L255.6 39.5 M311.7 90.5 L312.8 36.7 M268.1 90.5 L267 36.8 M322.6 94.1 L324.2 39.4 M279.1 86.8 L278.5 34.2 M333.4 97.7 L335.6 42 M290 83.2 L290 31.5 M344.3 101.4 L347 44.6 M232.6 44.8 L290 31.5 L347 44.6 M233.3 59 L290 44.4 L346.3 58.8 M233.9 73.1 L290 57.4 L345.6 73 M234.6 87.2 L290 70.3 L344.9 87.2 M235.3 101.4 L290 83.2 L344.3 101.4" fill="none" stroke="#505050" stroke-width=".5"/>
<path d="M236.1 118.9 L232.6 44.8" stroke="#666" stroke-width=".5"/>
<path d="M343.4 118.9 L344.3 101.4" stroke="#777" stroke-width=".4"/>
<path d="M231.7 44.8 h1.6 M232.4 59 h1.6 M233 73.1 h1.6 M233.7 87.2 h1.6 M234.4 101.4 h1.6" stroke="#111" stroke-width=".8"/>
<g stroke-width=".35" stroke-linejoin="round">
<path d="M287.2 53.8l2.8 2.1l2.8-2.4l-2.8-2.3z" fill="#00ff21" stroke="#00ff21"/>
<path d="M284.4 56.3l2.8 2l2.8-2.4l-2.8-2.1z" fill="#00ff55" stroke="#00ff55"/>
<path d="M290 55.9l2.8 2.1l2.8-2.3l-2.8-2.2z" fill="#00ff48" stroke="#00ff48"/>
<path d="M281.6 58.8l2.8 1.8l2.8-2.3l-2.8-2z" fill="#00ff7c" stroke="#00ff7c"/>
<path d="M287.2 58.3l2.8 1.9l2.8-2.2l-2.8-2.1zM292.8 58l2.7 2l2.9-2.1l-2.8-2.2z" fill="#00ff6f" stroke="#00ff6f"/>
<path d="M278.8 61.2l2.8 1.7l2.8-2.3l-2.8-1.8zM287.2 62.4l2.7 1.8l2.8-2l-2.7-2zM292.7 62.2l2.8 1.9l2.8-2l-2.8-2.1zM298.3 62.1l2.8 2l2.8-1.9l-2.8-2.1z" fill="#00ffb1" stroke="#00ffb1"/>
<path d="M284.4 60.6l2.8 1.8l2.8-2.2l-2.8-1.9zM290 60.2l2.7 2l2.8-2.2l-2.7-2zM295.5 60l2.8 2.1l2.8-2l-2.7-2.2z" fill="#00ff96" stroke="#00ff96"/>
<path d="M276 63.5l2.8 1.6l2.8-2.2l-2.8-1.7zM284.4 64.6l2.7 1.7l2.8-2.1l-2.7-1.8zM301.1 64.1l2.7 1.9l2.9-1.7l-2.8-2.1z" fill="#00ffd8" stroke="#00ffd8"/>
<path d="M281.6 62.9l2.8 1.7l2.8-2.2l-2.8-1.8z" fill="#00ffbe" stroke="#00ffbe"/>
<path d="M273.2 65.8l2.8 1.5l2.8-2.2l-2.8-1.6zM281.6 66.7l2.8 1.6l2.7-2l-2.7-1.7zM303.8 66l2.8 2l2.8-1.7l-2.7-2zM289.9 67.9l2.8 1.7l2.8-1.8l-2.8-1.8zM295.5 67.8l2.7 1.7l2.8-1.7l-2.7-1.9z" fill="#00ffff" stroke="#00ffff"/>
<path d="M278.8 65.1l2.8 1.6l2.8-2.1l-2.8-1.7zM292.7 66l2.8 1.8l2.8-1.9l-2.8-1.8z" fill="#00ffe5" stroke="#00ffe5"/>
<path d="M289.9 64.2l2.8 1.8l2.8-1.9l-2.8-1.9zM295.5 64.1l2.8 1.8l2.8-1.8l-2.8-2z" fill="#00ffcb" stroke="#00ffcb"/>
<path d="M270.5 68.1l2.7 1.4l2.8-2.2l-2.8-1.5zM281.6 70.2l2.7 1.5l2.8-1.9l-2.7-1.5zM303.8 69.6l2.8 1.8l2.8-1.5l-2.8-1.9z" fill="#00d6ff" stroke="#00d6ff"/>
<path d="M276 67.3l2.8 1.5l2.8-2.1l-2.8-1.6zM284.4 68.3l2.7 1.5l2.8-1.9l-2.8-1.6zM301 67.8l2.8 1.8l2.8-1.6l-2.8-2z" fill="#00f1ff" stroke="#00f1ff"/>
<path d="M287.1 66.3l2.8 1.6l2.8-1.9l-2.8-1.8zM298.3 65.9l2.7 1.9l2.8-1.8l-2.7-1.9z" fill="#00fff2" stroke="#00fff2"/>
<path d="M267.7 70.3l2.8 1.2l2.7-2l-2.7-1.4zM281.6 73.5l2.7 1.3l2.8-1.7l-2.8-1.4zM303.8 72.9l2.7 1.7l2.8-1.4l-2.7-1.8zM289.9 74.5l2.7 1.4l2.8-1.5l-2.7-1.5zM295.4 74.4l2.8 1.5l2.8-1.5l-2.8-1.6z" fill="#00adff" stroke="#00adff"/>
<path d="M273.2 69.5l2.8 1.3l2.8-2l-2.8-1.5zM284.3 71.7l2.8 1.4l2.8-1.7l-2.8-1.6zM289.9 71.4l2.8 1.5l2.8-1.7l-2.8-1.6zM295.5 71.2l2.7 1.6l2.8-1.6l-2.8-1.7zM301 71.2l2.8 1.7l2.8-1.5l-2.8-1.8z" fill="#00c8ff" stroke="#00c8ff"/>
<path d="M278.8 68.8l2.8 1.4l2.8-1.9l-2.8-1.6zM306.6 68l2.8 1.9l2.8-1.5l-2.8-2.1zM287.1 69.8l2.8 1.6l2.8-1.8l-2.8-1.7zM292.7 69.6l2.8 1.6l2.7-1.7l-2.7-1.7zM298.2 69.5l2.8 1.7l2.8-1.6l-2.8-1.8z" fill="#00e4ff" stroke="#00e4ff"/>
<path d="M264.9 72.4l2.8 1.2l2.8-2.1l-2.8-1.2zM267.7 73.6l2.8 1.1l2.7-1.9l-2.7-1.3zM270.5 74.7l2.7 1.2l2.8-1.9l-2.8-1.2zM314.8 73.6l2.8 1.8l2.8-1.2l-2.8-1.9zM273.2 75.9l2.8 1.1l2.8-1.7l-2.8-1.3zM312.1 74.9l2.7 1.8l2.8-1.3l-2.8-1.8zM284.3 77.7l2.8 1.3l2.8-1.5l-2.8-1.4zM300.9 77.4l2.8 1.4l2.8-1.3l-2.8-1.5zM287.1 79l2.7 1.2l2.8-1.4l-2.7-1.3zM292.6 78.8l2.8 1.2l2.8-1.3l-2.8-1.4zM298.2 78.7l2.7 1.4l2.8-1.3l-2.8-1.4z" fill="#0084ff" stroke="#0084ff"/>
<path d="M270.5 71.5l2.7 1.3l2.8-2l-2.8-1.3zM273.2 72.8l2.8 1.2l2.8-1.8l-2.8-1.4zM312.1 71.8l2.7 1.8l2.8-1.3l-2.7-2zM276 74l2.8 1.3l2.8-1.8l-2.8-1.3zM309.3 73.2l2.8 1.7l2.7-1.3l-2.7-1.8zM284.3 74.8l2.8 1.3l2.8-1.6l-2.8-1.4zM301 74.4l2.7 1.6l2.8-1.4l-2.7-1.7zM292.6 75.9l2.8 1.4l2.8-1.4l-2.8-1.5z" fill="#009fff" stroke="#009fff"/>
<path d="M276 70.8l2.8 1.4l2.8-2l-2.8-1.4zM309.4 69.9l2.7 1.9l2.8-1.5l-2.7-1.9zM278.8 72.2l2.8 1.3l2.7-1.8l-2.7-1.5zM306.6 71.4l2.7 1.8l2.8-1.4l-2.7-1.9zM287.1 73.1l2.8 1.4l2.8-1.6l-2.8-1.5zM292.7 72.9l2.7 1.5l2.8-1.6l-2.7-1.6zM298.2 72.8l2.8 1.6l2.8-1.5l-2.8-1.7z" fill="#00baff" stroke="#00baff"/>
<path d="M262.2 74.5l2.8 1.1l2.7-2l-2.8-1.2zM306.4 80.3l2.8 1.4l2.8-1.1l-2.8-1.5zM303.7 81.4l2.7 1.4l2.8-1.1l-2.8-1.4zM284.3 82.9l2.7 1.1l2.8-1.3l-2.7-1.1zM300.9 82.6l2.7 1.3l2.8-1.1l-2.7-1.4zM287 84l2.8 1l2.8-1.2l-2.8-1.1zM292.6 83.8l2.7 1.1l2.8-1.1l-2.7-1.2zM298.1 83.8l2.8 1.1l2.7-1l-2.7-1.3zM289.8 85l2.8 1l2.7-1.1l-2.7-1.1zM295.3 84.9l2.8 1.1l2.8-1.1l-2.8-1.1zM286.9 98.7l2.8 .4l2.8-.5l-2.8-.5zM292.5 98.6l2.7 .5l2.8-.5l-2.8-.6zM284.1 99.3l2.8 .4l2.8-.6l-2.8-.4zM289.7 99.1l2.7 .4l2.8-.4l-2.7-.5zM286.9 99.7l2.8 .3l2.7-.5l-2.7-.4z" fill="#005aff" stroke="#005aff"/>
<path d="M259.4 76.5l2.8 1l2.8-1.9l-2.8-1.1zM262.2 77.5l2.8 1l2.7-1.9l-2.7-1zM320.3 77.2l2.7 1.8l2.8-1.1l-2.7-1.8zM267.7 82.1l2.8 .8l2.7-1.5l-2.7-1zM270.5 82.9l2.7 .9l2.8-1.4l-2.8-1zM314.7 82.1l2.8 1.4l2.7-.9l-2.7-1.6zM273.2 83.8l2.8 .9l2.7-1.4l-2.7-.9zM311.9 83.1l2.8 1.4l2.8-1l-2.8-1.4zM276 84.7l2.7 .9l2.8-1.3l-2.8-1zM309.2 84.1l2.7 1.3l2.8-.9l-2.8-1.4zM306.4 85.1l2.7 1.2l2.8-.9l-2.7-1.3zM276 86.9l2.7 .8l2.8-1.2l-2.8-.9zM278.7 87.7l2.8 .8l2.7-1.1l-2.7-.9zM306.4 87.3l2.7 1.1l2.8-.8l-2.8-1.3zM281.5 88.5l2.7 .9l2.8-1.1l-2.8-.9zM303.6 88.2l2.8 1.1l2.7-.9l-2.7-1.1zM278.7 89.7l2.8 .7l2.7-1l-2.7-.9zM284.2 89.4l2.8 .8l2.8-1.1l-2.8-.8zM300.8 89.1l2.8 1l2.8-.8l-2.8-1.1zM281.5 90.4l2.7 .8l2.8-1l-2.8-.8zM287 90.2l2.7 .8l2.8-1l-2.7-.9zM298.1 90l2.7 .9l2.8-.8l-2.8-1zM303.6 90.1l2.7 1l2.8-.8l-2.7-1zM284.2 91.2l2.8 .7l2.7-.9l-2.7-.8zM289.7 91l2.8 .8l2.8-.9l-2.8-.9zM295.3 90.9l2.7 .9l2.8-.9l-2.7-.9zM300.8 90.9l2.8 1l2.7-.8l-2.7-1zM281.4 92.2l2.8 .7l2.8-1l-2.8-.7zM287 91.9l2.7 .8l2.8-.9l-2.8-.8zM292.5 91.8l2.8 .8l2.7-.8l-2.7-.9zM298 91.8l2.8 .8l2.8-.7l-2.8-1zM284.2 92.9l2.8 .7l2.7-.9l-2.7-.8zM289.7 92.7l2.8 .7l2.8-.8l-2.8-.8zM295.3 92.6l2.7 .8l2.8-.8l-2.8-.8zM300.8 92.6l2.8 .9l2.7-.7l-2.7-.9zM281.4 93.8l2.8 .6l2.8-.8l-2.8-.7zM287 93.6l2.7 .6l2.8-.8l-2.8-.7zM292.5 93.4l2.8 .8l2.7-.8l-2.7-.8zM298 93.4l2.8 .8l2.8-.7l-2.8-.9zM284.2 94.4l2.7 .7l2.8-.9l-2.7-.6zM289.7 94.2l2.8 .7l2.8-.7l-2.8-.8zM295.3 94.2l2.7 .7l2.8-.7l-2.8-.8zM300.8 94.2l2.8 .8l2.7-.6l-2.7-.9zM281.4 95.3l2.8 .6l2.7-.8l-2.7-.7zM286.9 95.1l2.8 .6l2.8-.8l-2.8-.7zM298 94.9l2.8 .7l2.8-.6l-2.8-.8zM303.6 95l2.7 .8l2.8-.5l-2.8-.9zM278.6 96.2l2.8 .5l2.8-.8l-2.8-.6zM284.2 95.9l2.7 .5l2.8-.7l-2.8-.6zM300.8 95.6l2.8 .8l2.7-.6l-2.7-.8zM281.4 96.7l2.7 .5l2.8-.8l-2.7-.5zM303.6 96.4l2.7 .7l2.8-.5l-2.8-.8zM278.6 97.5l2.8 .4l2.7-.7l-2.7-.5zM300.8 96.9l2.7 .7l2.8-.5l-2.7-.7zM275.8 98.2l2.8 .4l2.8-.7l-2.8-.4zM278.6 98.6l2.7 .4l2.8-.7l-2.7-.4z" fill="#003fff" stroke="#003fff"/>
<path d="M265 75.6l2.7 1l2.8-1.9l-2.8-1.1zM267.7 76.6l2.8 1.1l2.7-1.8l-2.7-1.2zM317.6 75.4l2.7 1.8l2.8-1.1l-2.7-1.9zM270.5 77.7l2.7 1l2.8-1.7l-2.8-1.1zM314.8 76.7l2.7 1.6l2.8-1.1l-2.7-1.8zM273.2 78.7l2.8 1.1l2.8-1.6l-2.8-1.2zM312 77.9l2.8 1.6l2.7-1.2l-2.7-1.6zM276 79.8l2.8 1l2.7-1.5l-2.7-1.1zM309.2 79.1l2.8 1.5l2.8-1.1l-2.8-1.6zM278.8 80.8l2.7 1.1l2.8-1.5l-2.8-1.1zM300.9 80.1l2.8 1.3l2.7-1.1l-2.7-1.5zM281.5 81.9l2.8 1l2.8-1.3l-2.8-1.2zM287.1 81.6l2.7 1.1l2.8-1.3l-2.8-1.2zM292.6 81.4l2.8 1.2l2.7-1.3l-2.7-1.3zM298.1 81.3l2.8 1.3l2.8-1.2l-2.8-1.3zM289.8 82.7l2.8 1.1l2.8-1.2l-2.8-1.2zM295.4 82.6l2.7 1.2l2.8-1.2l-2.8-1.3z" fill="#0068ff" stroke="#0068ff"/>
<path d="M256.7 78.5l2.8 .9l2.7-1.9l-2.8-1zM259.5 82l2.7 .8l2.8-1.6l-2.8-.9zM262.2 82.8l2.8 .9l2.7-1.6l-2.7-.9zM323 81.6l2.7 1.6l2.8-.8l-2.7-1.7zM264.9 86l2.8 .7l2.8-1.4l-2.8-.8zM320.2 85l2.7 1.4l2.8-.8l-2.7-1.5zM317.4 85.8l2.8 1.4l2.7-.8l-2.7-1.4zM264.9 88.1l2.8 .7l2.7-1.3l-2.7-.8zM267.7 88.8l2.7 .7l2.8-1.3l-2.8-.7zM317.4 88l2.8 1.3l2.7-.8l-2.7-1.3zM314.6 88.8l2.8 1.2l2.8-.7l-2.8-1.3zM267.7 90.7l2.7 .6l2.8-1.1l-2.8-.7zM314.6 90.7l2.8 1.1l2.7-.6l-2.7-1.2zM267.6 92.5l2.8 .6l2.8-1.1l-2.8-.7zM270.4 93.1l2.7 .5l2.8-1l-2.7-.6zM314.6 92.5l2.8 1l2.7-.6l-2.7-1.1zM267.6 94.2l2.8 .5l2.7-1.1l-2.7-.5zM314.6 94.1l2.8 1l2.7-.5l-2.7-1.1zM267.6 95.7l2.7 .4l2.8-.9l-2.7-.5zM267.6 97.1l2.7 .4l2.8-.9l-2.8-.5z" fill="#0016ff" stroke="#0016ff"/>
<path d="M278.8 75.3l2.7 1.2l2.8-1.7l-2.7-1.3zM306.5 74.6l2.8 1.6l2.8-1.3l-2.8-1.7zM281.5 76.5l2.8 1.2l2.8-1.6l-2.8-1.3zM287.1 76.1l2.8 1.4l2.7-1.6l-2.7-1.4zM298.2 75.9l2.7 1.5l2.8-1.4l-2.7-1.6zM303.7 76l2.8 1.5l2.8-1.3l-2.8-1.6zM289.9 77.5l2.7 1.3l2.8-1.5l-2.8-1.4zM295.4 77.3l2.8 1.4l2.7-1.3l-2.7-1.5z" fill="#0091ff" stroke="#0091ff"/>
<path d="M254 80.4l2.7 .8l2.8-1.8l-2.8-.9zM256.7 83.7l2.8 .8l2.7-1.7l-2.7-.8zM325.7 83.2l2.8 1.6l2.7-.8l-2.7-1.6zM259.4 86.7l2.8 .7l2.7-1.4l-2.7-.8zM322.9 86.4l2.8 1.4l2.7-.7l-2.7-1.5zM262.2 89.5l2.7 .6l2.8-1.3l-2.8-.7zM322.9 88.5l2.8 1.4l2.7-.7l-2.7-1.4zM262.1 91.4l2.8 .5l2.8-1.2l-2.8-.6zM320.1 91.2l2.8 1.1l2.7-.5l-2.7-1.3zM262.1 93.1l2.8 .6l2.7-1.2l-2.7-.6zM320.1 92.9l2.8 1.1l2.7-.5l-2.7-1.2zM262.1 94.8l2.7 .4l2.8-1l-2.7-.5zM262.1 96.3l2.7 .4l2.8-1l-2.8-.5z" fill="#0000fe" stroke="#0000fe"/>
<path d="M259.5 79.4l2.7 .9l2.8-1.8l-2.8-1zM323 79l2.8 1.7l2.7-1l-2.7-1.8zM265 83.7l2.7 .8l2.8-1.6l-2.8-.8zM320.2 82.6l2.8 1.5l2.7-.9l-2.7-1.6zM267.7 84.5l2.8 .8l2.7-1.5l-2.7-.9zM317.5 83.5l2.7 1.5l2.8-.9l-2.8-1.5zM267.7 86.7l2.7 .8l2.8-1.4l-2.7-.8zM270.4 87.5l2.8 .7l2.8-1.3l-2.8-.8zM314.7 86.7l2.7 1.3l2.8-.8l-2.8-1.4zM311.9 87.6l2.7 1.2l2.8-.8l-2.7-1.3zM270.4 89.5l2.8 .7l2.7-1.2l-2.7-.8zM273.2 90.2l2.7 .6l2.8-1.1l-2.8-.7zM311.9 89.6l2.7 1.1l2.8-.7l-2.8-1.2zM270.4 91.3l2.8 .7l2.7-1.2l-2.7-.6zM273.2 92l2.7 .6l2.8-1.1l-2.8-.7zM311.9 91.4l2.7 1.1l2.8-.7l-2.8-1.1zM309.1 92.1l2.8 1l2.7-.6l-2.7-1.1zM273.1 93.6l2.8 .6l2.8-1l-2.8-.6zM311.9 93.1l2.7 1l2.8-.6l-2.8-1zM270.4 94.7l2.7 .5l2.8-1l-2.8-.6zM309.1 93.8l2.8 .9l2.7-.6l-2.7-1zM273.1 95.2l2.8 .5l2.7-.9l-2.7-.6zM311.9 94.7l2.7 .9l2.8-.5l-2.8-1zM270.3 96.1l2.8 .5l2.8-.9l-2.8-.5zM273.1 96.6l2.7 .4l2.8-.8l-2.7-.5zM270.3 97.5l2.8 .4l2.7-.9l-2.7-.4z" fill="#0024ff" stroke="#0024ff"/>
<path d="M265 78.5l2.7 .9l2.8-1.7l-2.8-1.1zM267.7 79.4l2.8 1l2.7-1.7l-2.7-1zM317.5 78.3l2.8 1.7l2.7-1l-2.7-1.8zM270.5 80.4l2.7 1l2.8-1.6l-2.8-1.1zM314.8 79.5l2.7 1.5l2.8-1l-2.8-1.7zM273.2 81.4l2.8 1l2.8-1.6l-2.8-1zM312 80.6l2.7 1.5l2.8-1.1l-2.7-1.5zM276 82.4l2.7 .9l2.8-1.4l-2.7-1.1zM309.2 81.7l2.7 1.4l2.8-1l-2.7-1.5zM278.7 83.3l2.8 1l2.8-1.4l-2.8-1zM306.4 82.8l2.8 1.3l2.7-1l-2.7-1.4zM281.5 84.3l2.8 .9l2.7-1.2l-2.7-1.1zM303.6 83.9l2.8 1.2l2.8-1l-2.8-1.3zM278.7 85.6l2.8 .9l2.8-1.3l-2.8-.9zM284.3 85.2l2.7 1l2.8-1.2l-2.8-1zM300.9 84.9l2.7 1.2l2.8-1l-2.8-1.2zM281.5 86.5l2.7 .9l2.8-1.2l-2.7-1zM287 86.2l2.8 1l2.8-1.2l-2.8-1zM292.6 86l2.7 1.1l2.8-1.1l-2.8-1.1zM298.1 86l2.7 1.1l2.8-1l-2.7-1.2zM303.6 86.1l2.8 1.2l2.7-1l-2.7-1.2zM284.2 87.4l2.8 .9l2.8-1.1l-2.8-1zM289.8 87.2l2.7 .9l2.8-1l-2.7-1.1zM295.3 87.1l2.8 1l2.7-1l-2.7-1.1zM300.8 87.1l2.8 1.1l2.8-.9l-2.8-1.2zM287 88.3l2.8 .8l2.7-1l-2.7-.9zM292.5 88.1l2.8 1l2.8-1l-2.8-1zM298.1 88.1l2.7 1l2.8-.9l-2.8-1.1zM289.8 89.1l2.7 .9l2.8-.9l-2.8-1zM295.3 89.1l2.8 .9l2.7-.9l-2.7-1zM292.5 90l2.8 .9l2.8-.9l-2.8-.9zM292.5 94.9l2.7 .7l2.8-.7l-2.7-.7zM289.7 95.7l2.8 .6l2.7-.7l-2.7-.7zM295.2 95.6l2.8 .7l2.8-.7l-2.8-.7zM286.9 96.4l2.8 .6l2.8-.7l-2.8-.6zM292.5 96.3l2.7 .6l2.8-.6l-2.8-.7zM298 96.3l2.8 .6l2.8-.5l-2.8-.8zM284.1 97.2l2.8 .4l2.8-.6l-2.8-.6zM289.7 97l2.8 .5l2.7-.6l-2.7-.6zM295.2 96.9l2.8 .6l2.8-.6l-2.8-.6zM281.4 97.9l2.7 .4l2.8-.7l-2.8-.4zM286.9 97.6l2.8 .5l2.8-.6l-2.8-.5zM292.5 97.5l2.7 .5l2.8-.5l-2.8-.6zM298 97.5l2.8 .6l2.7-.5l-2.7-.7zM284.1 98.3l2.8 .4l2.8-.6l-2.8-.5zM289.7 98.1l2.8 .5l2.7-.6l-2.7-.5zM295.2 98l2.8 .6l2.8-.5l-2.8-.6zM281.3 99l2.8 .3l2.8-.6l-2.8-.4z" fill="#004dff" stroke="#004dff"/>
<path d="M276 77l2.8 1.2l2.7-1.7l-2.7-1.2zM309.3 76.2l2.7 1.7l2.8-1.2l-2.7-1.8zM278.8 78.2l2.7 1.1l2.8-1.6l-2.8-1.2zM306.5 77.5l2.7 1.6l2.8-1.2l-2.7-1.7zM281.5 79.3l2.8 1.1l2.8-1.4l-2.8-1.3zM303.7 78.8l2.7 1.5l2.8-1.2l-2.7-1.6zM284.3 80.4l2.8 1.2l2.7-1.4l-2.7-1.2zM289.8 80.2l2.8 1.2l2.8-1.4l-2.8-1.2zM295.4 80l2.7 1.3l2.8-1.2l-2.7-1.4z" fill="#0076ff" stroke="#0076ff"/>
<path d="M251.2 82.2l2.8 .7l2.7-1.7l-2.7-.8zM254 85.3l2.7 .7l2.8-1.5l-2.8-.8zM328.5 84.8l2.7 1.5l2.7-.7l-2.7-1.6zM328.4 87.1l2.8 1.4l2.7-.7l-2.7-1.5zM256.7 90.2l2.7 .6l2.8-1.3l-2.8-.7zM325.7 89.9l2.7 1.2l2.7-.6l-2.7-1.3zM256.6 92.1l2.8 .5l2.7-1.2l-2.7-.6zM325.6 91.8l2.8 1.2l2.7-.6l-2.7-1.3zM256.6 93.8l2.8 .5l2.7-1.2l-2.7-.5zM256.6 95.5l2.7 .4l2.8-1.1l-2.7-.5z" fill="#0000fa" stroke="#0000fa"/>
<path d="M256.7 81.2l2.8 .8l2.7-1.7l-2.7-.9zM325.8 80.7l2.7 1.7l2.8-.9l-2.8-1.8zM259.5 84.5l2.7 .7l2.8-1.5l-2.8-.9zM262.2 85.2l2.7 .8l2.8-1.5l-2.7-.8zM323 84.1l2.7 1.5l2.8-.8l-2.8-1.6zM262.2 87.4l2.7 .7l2.8-1.4l-2.8-.7zM320.2 87.2l2.7 1.3l2.8-.7l-2.8-1.4zM264.9 90.1l2.8 .6l2.7-1.2l-2.7-.7zM320.2 89.3l2.7 1.2l2.8-.6l-2.8-1.4zM317.4 90l2.7 1.2l2.8-.7l-2.7-1.2zM264.9 91.9l2.7 .6l2.8-1.2l-2.7-.6zM317.4 91.8l2.7 1.1l2.8-.6l-2.8-1.1zM264.9 93.7l2.7 .5l2.8-1.1l-2.8-.6zM317.4 93.5l2.7 1.1l2.8-.6l-2.8-1.1zM264.8 95.2l2.8 .5l2.8-1l-2.8-.5zM264.8 96.7l2.8 .4l2.7-1l-2.7-.4z" fill="#0008ff" stroke="#0008ff"/>
<path d="M262.2 80.3l2.8 .9l2.7-1.8l-2.7-.9zM265 81.2l2.7 .9l2.8-1.7l-2.8-1zM320.3 80l2.7 1.6l2.8-.9l-2.8-1.7zM317.5 81l2.7 1.6l2.8-1l-2.7-1.6zM270.5 85.3l2.7 .8l2.8-1.4l-2.8-.9zM314.7 84.5l2.7 1.3l2.8-.8l-2.7-1.5zM273.2 86.1l2.8 .8l2.7-1.3l-2.7-.9zM311.9 85.4l2.8 1.3l2.7-.9l-2.7-1.3zM309.1 86.3l2.8 1.3l2.8-.9l-2.8-1.3zM273.2 88.2l2.7 .8l2.8-1.3l-2.7-.8zM275.9 89l2.8 .7l2.8-1.2l-2.8-.8zM309.1 88.4l2.8 1.2l2.7-.8l-2.7-1.2zM306.4 89.3l2.7 1l2.8-.7l-2.8-1.2zM275.9 90.8l2.8 .7l2.8-1.1l-2.8-.7zM309.1 90.3l2.8 1.1l2.7-.7l-2.7-1.1zM278.7 91.5l2.7 .7l2.8-1l-2.7-.8zM306.3 91.1l2.8 1l2.8-.7l-2.8-1.1zM275.9 92.6l2.8 .6l2.7-1l-2.7-.7zM303.6 91.9l2.7 .9l2.8-.7l-2.8-1zM278.7 93.2l2.7 .6l2.8-.9l-2.8-.7zM306.3 92.8l2.8 1l2.8-.7l-2.8-1zM275.9 94.2l2.7 .6l2.8-1l-2.7-.6zM303.6 93.5l2.7 .9l2.8-.6l-2.8-1zM278.6 94.8l2.8 .5l2.8-.9l-2.8-.6zM306.3 94.4l2.8 .9l2.8-.6l-2.8-.9zM275.9 95.7l2.7 .5l2.8-.9l-2.8-.5zM309.1 95.3l2.7 .8l2.8-.5l-2.7-.9zM306.3 95.8l2.8 .8l2.7-.5l-2.7-.8zM275.8 97l2.8 .5l2.8-.8l-2.8-.5zM273.1 97.9l2.7 .3l2.8-.7l-2.8-.5z" fill="#0031ff" stroke="#0031ff"/>
<path d="M248.5 84l2.7 .7l2.8-1.8l-2.8-.7zM251.2 86.9l2.7 .7l2.8-1.6l-2.7-.7zM333.9 85.6l2.8 1.6l2.7-.7l-2.7-1.7zM251.2 89.1l2.7 .5l2.8-1.4l-2.8-.6zM331.2 88.5l2.7 1.4l2.7-.6l-2.7-1.5zM251.2 91l2.7 .6l2.8-1.4l-2.8-.6zM331.1 90.5l2.8 1.4l2.7-.6l-2.7-1.4zM251.2 92.9l2.7 .5l2.7-1.3l-2.7-.5zM251.1 94.6l2.8 .4l2.7-1.2l-2.7-.4z" fill="#0000f6" stroke="#0000f6"/>
<path d="M254 82.9l2.7 .8l2.8-1.7l-2.8-.8zM328.5 82.4l2.7 1.6l2.8-.8l-2.7-1.7zM256.7 86l2.7 .7l2.8-1.5l-2.7-.7zM325.7 85.6l2.7 1.5l2.8-.8l-2.7-1.5zM256.7 88.2l2.7 .6l2.8-1.4l-2.8-.7zM259.4 88.8l2.8 .7l2.7-1.4l-2.7-.7zM325.7 87.8l2.7 1.4l2.8-.7l-2.8-1.4zM259.4 90.8l2.7 .6l2.8-1.3l-2.7-.6zM322.9 90.5l2.7 1.3l2.8-.7l-2.7-1.2zM259.4 92.6l2.7 .5l2.8-1.2l-2.8-.5zM322.9 92.3l2.7 1.2l2.8-.5l-2.8-1.2zM259.4 94.3l2.7 .5l2.8-1.1l-2.8-.6zM259.3 95.9l2.8 .4l2.7-1.1l-2.7-.4z" fill="#0000fc" stroke="#0000fc"/>
<path d="M245.8 85.7l2.7 .6l2.7-1.6l-2.7-.7zM245.7 87.9l2.8 .6l2.7-1.6l-2.7-.6zM336.7 87.2l2.7 1.5l2.7-.6l-2.7-1.6zM336.6 89.3l2.8 1.4l2.7-.5l-2.7-1.5zM248.4 92.4l2.8 .5l2.7-1.3l-2.7-.6zM248.4 94.2l2.7 .4l2.8-1.2l-2.7-.5z" fill="#0000f2" stroke="#0000f2"/>
<path d="M251.2 84.7l2.8 .6l2.7-1.6l-2.7-.8zM331.2 84l2.7 1.6l2.8-.8l-2.7-1.6zM253.9 87.6l2.8 .6l2.7-1.5l-2.7-.7zM331.2 86.3l2.7 1.5l2.8-.6l-2.8-1.6zM253.9 89.6l2.8 .6l2.7-1.4l-2.7-.6zM328.4 89.2l2.7 1.3l2.8-.6l-2.7-1.4zM253.9 91.6l2.7 .5l2.8-1.3l-2.7-.6zM328.4 91.1l2.7 1.3l2.8-.5l-2.8-1.4zM253.9 93.4l2.7 .4l2.8-1.2l-2.8-.5zM253.9 95l2.7 .5l2.8-1.2l-2.8-.5z" fill="#0000f8" stroke="#0000f8"/>
<path d="M243 87.3l2.7 .6l2.8-1.6l-2.7-.6zM243 89.4l2.7 .6l2.8-1.5l-2.8-.6zM339.4 88.7l2.7 1.5l2.7-.6l-2.7-1.5zM243 91.4l2.7 .5l2.8-1.4l-2.8-.5zM243 93.2l2.7 .5l2.7-1.3l-2.7-.5z" fill="#0000ef" stroke="#0000ef"/>
<path d="M248.5 86.3l2.7 .6l2.8-1.6l-2.8-.6zM248.5 88.5l2.7 .6l2.7-1.5l-2.7-.7zM333.9 87.8l2.7 1.5l2.8-.6l-2.7-1.5zM248.5 90.5l2.7 .5l2.7-1.4l-2.7-.5zM333.9 89.9l2.7 1.4l2.8-.6l-2.8-1.4z" fill="#0000f4" stroke="#0000f4"/>
<path d="M240.3 88.9l2.7 .5l2.7-1.5l-2.7-.6zM240.3 90.9l2.7 .5l2.7-1.4l-2.7-.6zM240.2 92.8l2.8 .4l2.7-1.3l-2.7-.5z" fill="#0000ed" stroke="#0000ed"/>
<path d="M237.6 90.4l2.7 .5l2.7-1.5l-2.7-.5zM237.5 92.3l2.7 .5l2.8-1.4l-2.7-.5z" fill="#0000e9" stroke="#0000e9"/>
<path d="M234.8 91.8l2.7 .5l2.8-1.4l-2.7-.5z" fill="#0000e7" stroke="#0000e7"/>
<path d="M245.7 90l2.8 .5l2.7-1.4l-2.7-.6zM245.7 91.9l2.7 .5l2.8-1.4l-2.7-.5zM245.7 93.7l2.7 .5l2.8-1.3l-2.8-.5z" fill="#0000f0" stroke="#0000f0"/>
</g>
<path d="M234.8 91.8 L237.6 90.4 L240.3 88.9 L243 87.3 L245.8 85.7 L248.5 84 L251.2 82.2 L254 80.4 L256.7 78.5 L259.4 76.5 L262.2 74.5 L264.9 72.4 L267.7 70.3 L270.5 68.1 L273.2 65.8 L276 63.5 L278.8 61.2 L281.6 58.8 L284.4 56.3 L287.2 53.8 L290 51.2 M234.8 91.8 L237.5 92.3 L240.2 92.8 L243 93.2 L245.7 93.7 L248.4 94.2 L251.1 94.6 L253.9 95 L256.6 95.5 L259.3 95.9 L262.1 96.3 L264.8 96.7 L267.6 97.1 L270.3 97.5 L273.1 97.9 L275.8 98.2 L278.6 98.6 L281.3 99 L284.1 99.3 L286.9 99.7 L289.7 100 M237.5 92.3 L240.3 90.9 L243 89.4 L245.7 87.9 L248.5 86.3 L251.2 84.7 L254 82.9 L256.7 81.2 L259.5 79.4 L262.2 77.5 L265 75.6 L267.7 73.6 L270.5 71.5 L273.2 69.5 L276 67.3 L278.8 65.1 L281.6 62.9 L284.4 60.6 L287.2 58.3 L290 55.9 L292.8 53.5 M237.6 90.4 L240.3 90.9 L243 91.4 L245.7 91.9 L248.4 92.4 L251.2 92.9 L253.9 93.4 L256.6 93.8 L259.4 94.3 L262.1 94.8 L264.8 95.2 L267.6 95.7 L270.3 96.1 L273.1 96.6 L275.8 97 L278.6 97.5 L281.4 97.9 L284.1 98.3 L286.9 98.7 L289.7 99.1 L292.4 99.5 M240.2 92.8 L243 91.4 L245.7 90 L248.5 88.5 L251.2 86.9 L254 85.3 L256.7 83.7 L259.5 82 L262.2 80.3 L265 78.5 L267.7 76.6 L270.5 74.7 L273.2 72.8 L276 70.8 L278.8 68.8 L281.6 66.7 L284.4 64.6 L287.2 62.4 L290 60.2 L292.8 58 L295.6 55.7 M240.3 88.9 L243 89.4 L245.7 90 L248.5 90.5 L251.2 91 L253.9 91.6 L256.6 92.1 L259.4 92.6 L262.1 93.1 L264.9 93.7 L267.6 94.2 L270.4 94.7 L273.1 95.2 L275.9 95.7 L278.6 96.2 L281.4 96.7 L284.1 97.2 L286.9 97.6 L289.7 98.1 L292.5 98.6 L295.2 99.1 M243 93.2 L245.7 91.9 L248.5 90.5 L251.2 89.1 L253.9 87.6 L256.7 86 L259.5 84.5 L262.2 82.8 L265 81.2 L267.7 79.4 L270.5 77.7 L273.2 75.9 L276 74 L278.8 72.2 L281.6 70.2 L284.4 68.3 L287.1 66.3 L289.9 64.2 L292.7 62.2 L295.5 60 L298.4 57.9 M243 87.3 L245.7 87.9 L248.5 88.5 L251.2 89.1 L253.9 89.6 L256.7 90.2 L259.4 90.8 L262.1 91.4 L264.9 91.9 L267.6 92.5 L270.4 93.1 L273.1 93.6 L275.9 94.2 L278.6 94.8 L281.4 95.3 L284.2 95.9 L286.9 96.4 L289.7 97 L292.5 97.5 L295.2 98 L298 98.6 M245.7 93.7 L248.4 92.4 L251.2 91 L253.9 89.6 L256.7 88.2 L259.4 86.7 L262.2 85.2 L265 83.7 L267.7 82.1 L270.5 80.4 L273.2 78.7 L276 77 L278.8 75.3 L281.6 73.5 L284.3 71.7 L287.1 69.8 L289.9 67.9 L292.7 66 L295.5 64.1 L298.3 62.1 L301.1 60.1 M245.8 85.7 L248.5 86.3 L251.2 86.9 L253.9 87.6 L256.7 88.2 L259.4 88.8 L262.2 89.5 L264.9 90.1 L267.7 90.7 L270.4 91.3 L273.2 92 L275.9 92.6 L278.7 93.2 L281.4 93.8 L284.2 94.4 L286.9 95.1 L289.7 95.7 L292.5 96.3 L295.2 96.9 L298 97.5 L300.8 98.1 M248.4 94.2 L251.2 92.9 L253.9 91.6 L256.7 90.2 L259.4 88.8 L262.2 87.4 L264.9 86 L267.7 84.5 L270.5 82.9 L273.2 81.4 L276 79.8 L278.8 78.2 L281.5 76.5 L284.3 74.8 L287.1 73.1 L289.9 71.4 L292.7 69.6 L295.5 67.8 L298.3 65.9 L301.1 64.1 L303.9 62.2 M248.5 84 L251.2 84.7 L254 85.3 L256.7 86 L259.4 86.7 L262.2 87.4 L264.9 88.1 L267.7 88.8 L270.4 89.5 L273.2 90.2 L275.9 90.8 L278.7 91.5 L281.4 92.2 L284.2 92.9 L287 93.6 L289.7 94.2 L292.5 94.9 L295.2 95.6 L298 96.3 L300.8 96.9 L303.5 97.6 M251.1 94.6 L253.9 93.4 L256.6 92.1 L259.4 90.8 L262.2 89.5 L264.9 88.1 L267.7 86.7 L270.5 85.3 L273.2 83.8 L276 82.4 L278.8 80.8 L281.5 79.3 L284.3 77.7 L287.1 76.1 L289.9 74.5 L292.7 72.9 L295.5 71.2 L298.2 69.5 L301 67.8 L303.8 66 L306.7 64.3 M251.2 82.2 L254 82.9 L256.7 83.7 L259.5 84.5 L262.2 85.2 L264.9 86 L267.7 86.7 L270.4 87.5 L273.2 88.2 L275.9 89 L278.7 89.7 L281.5 90.4 L284.2 91.2 L287 91.9 L289.7 92.7 L292.5 93.4 L295.3 94.2 L298 94.9 L300.8 95.6 L303.6 96.4 L306.3 97.1 M253.9 95 L256.6 93.8 L259.4 92.6 L262.1 91.4 L264.9 90.1 L267.7 88.8 L270.4 87.5 L273.2 86.1 L276 84.7 L278.7 83.3 L281.5 81.9 L284.3 80.4 L287.1 79 L289.9 77.5 L292.6 75.9 L295.4 74.4 L298.2 72.8 L301 71.2 L303.8 69.6 L306.6 68 L309.4 66.3 M254 80.4 L256.7 81.2 L259.5 82 L262.2 82.8 L265 83.7 L267.7 84.5 L270.5 85.3 L273.2 86.1 L276 86.9 L278.7 87.7 L281.5 88.5 L284.2 89.4 L287 90.2 L289.7 91 L292.5 91.8 L295.3 92.6 L298 93.4 L300.8 94.2 L303.6 95 L306.3 95.8 L309.1 96.6 M256.6 95.5 L259.4 94.3 L262.1 93.1 L264.9 91.9 L267.7 90.7 L270.4 89.5 L273.2 88.2 L276 86.9 L278.7 85.6 L281.5 84.3 L284.3 82.9 L287.1 81.6 L289.8 80.2 L292.6 78.8 L295.4 77.3 L298.2 75.9 L301 74.4 L303.8 72.9 L306.6 71.4 L309.4 69.9 L312.2 68.4 M256.7 78.5 L259.5 79.4 L262.2 80.3 L265 81.2 L267.7 82.1 L270.5 82.9 L273.2 83.8 L276 84.7 L278.7 85.6 L281.5 86.5 L284.2 87.4 L287 88.3 L289.8 89.1 L292.5 90 L295.3 90.9 L298 91.8 L300.8 92.6 L303.6 93.5 L306.3 94.4 L309.1 95.3 L311.8 96.1 M259.3 95.9 L262.1 94.8 L264.9 93.7 L267.6 92.5 L270.4 91.3 L273.2 90.2 L275.9 89 L278.7 87.7 L281.5 86.5 L284.3 85.2 L287 84 L289.8 82.7 L292.6 81.4 L295.4 80 L298.2 78.7 L300.9 77.4 L303.7 76 L306.5 74.6 L309.3 73.2 L312.1 71.8 L314.9 70.3 M259.4 76.5 L262.2 77.5 L265 78.5 L267.7 79.4 L270.5 80.4 L273.2 81.4 L276 82.4 L278.7 83.3 L281.5 84.3 L284.3 85.2 L287 86.2 L289.8 87.2 L292.5 88.1 L295.3 89.1 L298.1 90 L300.8 90.9 L303.6 91.9 L306.3 92.8 L309.1 93.8 L311.9 94.7 L314.6 95.6 M262.1 96.3 L264.8 95.2 L267.6 94.2 L270.4 93.1 L273.2 92 L275.9 90.8 L278.7 89.7 L281.5 88.5 L284.2 87.4 L287 86.2 L289.8 85 L292.6 83.8 L295.4 82.6 L298.1 81.3 L300.9 80.1 L303.7 78.8 L306.5 77.5 L309.3 76.2 L312.1 74.9 L314.8 73.6 L317.6 72.3 M262.2 74.5 L265 75.6 L267.7 76.6 L270.5 77.7 L273.2 78.7 L276 79.8 L278.8 80.8 L281.5 81.9 L284.3 82.9 L287 84 L289.8 85 L292.6 86 L295.3 87.1 L298.1 88.1 L300.8 89.1 L303.6 90.1 L306.3 91.1 L309.1 92.1 L311.9 93.1 L314.6 94.1 L317.4 95.1 M264.8 96.7 L267.6 95.7 L270.4 94.7 L273.1 93.6 L275.9 92.6 L278.7 91.5 L281.5 90.4 L284.2 89.4 L287 88.3 L289.8 87.2 L292.6 86 L295.3 84.9 L298.1 83.8 L300.9 82.6 L303.7 81.4 L306.4 80.3 L309.2 79.1 L312 77.9 L314.8 76.7 L317.6 75.4 L320.4 74.2 M264.9 72.4 L267.7 73.6 L270.5 74.7 L273.2 75.9 L276 77 L278.8 78.2 L281.5 79.3 L284.3 80.4 L287.1 81.6 L289.8 82.7 L292.6 83.8 L295.3 84.9 L298.1 86 L300.8 87.1 L303.6 88.2 L306.4 89.3 L309.1 90.3 L311.9 91.4 L314.6 92.5 L317.4 93.5 L320.1 94.6 M267.6 97.1 L270.3 96.1 L273.1 95.2 L275.9 94.2 L278.7 93.2 L281.4 92.2 L284.2 91.2 L287 90.2 L289.8 89.1 L292.5 88.1 L295.3 87.1 L298.1 86 L300.9 84.9 L303.6 83.9 L306.4 82.8 L309.2 81.7 L312 80.6 L314.8 79.5 L317.5 78.3 L320.3 77.2 L323.1 76.1 M267.7 70.3 L270.5 71.5 L273.2 72.8 L276 74 L278.8 75.3 L281.5 76.5 L284.3 77.7 L287.1 79 L289.8 80.2 L292.6 81.4 L295.4 82.6 L298.1 83.8 L300.9 84.9 L303.6 86.1 L306.4 87.3 L309.1 88.4 L311.9 89.6 L314.6 90.7 L317.4 91.8 L320.1 92.9 L322.9 94 M270.3 97.5 L273.1 96.6 L275.9 95.7 L278.6 94.8 L281.4 93.8 L284.2 92.9 L287 91.9 L289.7 91 L292.5 90 L295.3 89.1 L298.1 88.1 L300.8 87.1 L303.6 86.1 L306.4 85.1 L309.2 84.1 L311.9 83.1 L314.7 82.1 L317.5 81 L320.3 80 L323 79 L325.8 77.9 M270.5 68.1 L273.2 69.5 L276 70.8 L278.8 72.2 L281.6 73.5 L284.3 74.8 L287.1 76.1 L289.9 77.5 L292.6 78.8 L295.4 80 L298.1 81.3 L300.9 82.6 L303.6 83.9 L306.4 85.1 L309.1 86.3 L311.9 87.6 L314.6 88.8 L317.4 90 L320.1 91.2 L322.9 92.3 L325.6 93.5 M273.1 97.9 L275.8 97 L278.6 96.2 L281.4 95.3 L284.2 94.4 L287 93.6 L289.7 92.7 L292.5 91.8 L295.3 90.9 L298.1 90 L300.8 89.1 L303.6 88.2 L306.4 87.3 L309.1 86.3 L311.9 85.4 L314.7 84.5 L317.5 83.5 L320.2 82.6 L323 81.6 L325.8 80.7 L328.5 79.7 M273.2 65.8 L276 67.3 L278.8 68.8 L281.6 70.2 L284.3 71.7 L287.1 73.1 L289.9 74.5 L292.6 75.9 L295.4 77.3 L298.2 78.7 L300.9 80.1 L303.7 81.4 L306.4 82.8 L309.2 84.1 L311.9 85.4 L314.7 86.7 L317.4 88 L320.2 89.3 L322.9 90.5 L325.6 91.8 L328.4 93 M275.8 98.2 L278.6 97.5 L281.4 96.7 L284.2 95.9 L286.9 95.1 L289.7 94.2 L292.5 93.4 L295.3 92.6 L298 91.8 L300.8 90.9 L303.6 90.1 L306.4 89.3 L309.1 88.4 L311.9 87.6 L314.7 86.7 L317.4 85.8 L320.2 85 L323 84.1 L325.7 83.2 L328.5 82.4 L331.3 81.5 M276 63.5 L278.8 65.1 L281.6 66.7 L284.4 68.3 L287.1 69.8 L289.9 71.4 L292.7 72.9 L295.4 74.4 L298.2 75.9 L300.9 77.4 L303.7 78.8 L306.4 80.3 L309.2 81.7 L311.9 83.1 L314.7 84.5 L317.4 85.8 L320.2 87.2 L322.9 88.5 L325.7 89.9 L328.4 91.1 L331.1 92.4 M278.6 98.6 L281.4 97.9 L284.1 97.2 L286.9 96.4 L289.7 95.7 L292.5 94.9 L295.3 94.2 L298 93.4 L300.8 92.6 L303.6 91.9 L306.3 91.1 L309.1 90.3 L311.9 89.6 L314.6 88.8 L317.4 88 L320.2 87.2 L322.9 86.4 L325.7 85.6 L328.5 84.8 L331.2 84 L334 83.2 M278.8 61.2 L281.6 62.9 L284.4 64.6 L287.1 66.3 L289.9 67.9 L292.7 69.6 L295.5 71.2 L298.2 72.8 L301 74.4 L303.7 76 L306.5 77.5 L309.2 79.1 L312 80.6 L314.7 82.1 L317.5 83.5 L320.2 85 L322.9 86.4 L325.7 87.8 L328.4 89.2 L331.1 90.5 L333.9 91.9 M281.3 99 L284.1 98.3 L286.9 97.6 L289.7 97 L292.5 96.3 L295.2 95.6 L298 94.9 L300.8 94.2 L303.6 93.5 L306.3 92.8 L309.1 92.1 L311.9 91.4 L314.6 90.7 L317.4 90 L320.2 89.3 L322.9 88.5 L325.7 87.8 L328.4 87.1 L331.2 86.3 L333.9 85.6 L336.7 84.8 M281.6 58.8 L284.4 60.6 L287.2 62.4 L289.9 64.2 L292.7 66 L295.5 67.8 L298.2 69.5 L301 71.2 L303.8 72.9 L306.5 74.6 L309.3 76.2 L312 77.9 L314.8 79.5 L317.5 81 L320.2 82.6 L323 84.1 L325.7 85.6 L328.4 87.1 L331.2 88.5 L333.9 89.9 L336.6 91.3 M284.1 99.3 L286.9 98.7 L289.7 98.1 L292.5 97.5 L295.2 96.9 L298 96.3 L300.8 95.6 L303.6 95 L306.3 94.4 L309.1 93.8 L311.9 93.1 L314.6 92.5 L317.4 91.8 L320.1 91.2 L322.9 90.5 L325.7 89.9 L328.4 89.2 L331.2 88.5 L333.9 87.8 L336.7 87.2 L339.4 86.5 M284.4 56.3 L287.2 58.3 L290 60.2 L292.7 62.2 L295.5 64.1 L298.3 65.9 L301 67.8 L303.8 69.6 L306.6 71.4 L309.3 73.2 L312.1 74.9 L314.8 76.7 L317.5 78.3 L320.3 80 L323 81.6 L325.7 83.2 L328.5 84.8 L331.2 86.3 L333.9 87.8 L336.6 89.3 L339.4 90.7 M286.9 99.7 L289.7 99.1 L292.5 98.6 L295.2 98 L298 97.5 L300.8 96.9 L303.6 96.4 L306.3 95.8 L309.1 95.3 L311.9 94.7 L314.6 94.1 L317.4 93.5 L320.1 92.9 L322.9 92.3 L325.6 91.8 L328.4 91.1 L331.1 90.5 L333.9 89.9 L336.6 89.3 L339.4 88.7 L342.1 88.1 M287.2 53.8 L290 55.9 L292.8 58 L295.5 60 L298.3 62.1 L301.1 64.1 L303.8 66 L306.6 68 L309.4 69.9 L312.1 71.8 L314.8 73.6 L317.6 75.4 L320.3 77.2 L323 79 L325.8 80.7 L328.5 82.4 L331.2 84 L333.9 85.6 L336.7 87.2 L339.4 88.7 L342.1 90.2 M289.7 100 L292.4 99.5 L295.2 99.1 L298 98.6 L300.8 98.1 L303.5 97.6 L306.3 97.1 L309.1 96.6 L311.8 96.1 L314.6 95.6 L317.4 95.1 L320.1 94.6 L322.9 94 L325.6 93.5 L328.4 93 L331.1 92.4 L333.9 91.9 L336.6 91.3 L339.4 90.7 L342.1 90.2 L344.8 89.6 M290 51.2 L292.8 53.5 L295.6 55.7 L298.4 57.9 L301.1 60.1 L303.9 62.2 L306.7 64.3 L309.4 66.3 L312.2 68.4 L314.9 70.3 L317.6 72.3 L320.4 74.2 L323.1 76.1 L325.8 77.9 L328.5 79.7 L331.3 81.5 L334 83.2 L336.7 84.8 L339.4 86.5 L342.1 88.1 L344.8 89.6" fill="none" stroke="#000" stroke-opacity="0.5" stroke-width=".4"/>
<rect x="294.0" y="44.7" width="8" height="3.6" fill="#f4f4f4" stroke="#999" stroke-width=".3"/><text x="298.0" y="47.5" font-size="3" fill="#888" text-anchor="middle">67.5</text><path d="M300.5 48.3 V57.0" stroke="#444" stroke-width=".4"/>
<g font-size="5.4" font-weight="bold" fill="#111"><text x="229.7" y="44.7" text-anchor="end">80</text><text x="230.2" y="59.3" text-anchor="end">70</text><text x="230.8" y="73.9" text-anchor="end">60</text><text x="231.3" y="88.5" text-anchor="end">50</text><text x="231.8" y="103.1" text-anchor="end">40</text><text x="229.5" y="120.6" text-anchor="middle">50</text><text x="243.5" y="129.2" text-anchor="middle">40</text><text x="255.5" y="134.2" text-anchor="middle">30</text><text x="266.8" y="139.7" text-anchor="middle">20</text><text x="276.8" y="145.5" text-anchor="middle">10</text><text x="286.8" y="149.3" text-anchor="middle">0</text><text x="293.2" y="149.3" text-anchor="middle">10</text><text x="302.6" y="145" text-anchor="middle">20</text><text x="312.6" y="139.7" text-anchor="middle">30</text><text x="323.2" y="135" text-anchor="middle">40</text><text x="333.5" y="129.7" text-anchor="middle">50</text><text x="344.1" y="124.1" text-anchor="middle">60</text></g>
<text x="244.6" y="148.5" font-size="5.6" font-weight="bold" fill="#111" text-anchor="middle" textLength="48.4" lengthAdjust="spacingAndGlyphs">A: Solvent ratio <tspan font-weight="normal">(% <tspan font-style="italic">v</tspan>/<tspan font-style="italic">v</tspan>)</tspan></text>
<text x="337.7" y="148.5" font-size="5.6" font-weight="bold" fill="#111" text-anchor="middle" textLength="43.6" lengthAdjust="spacingAndGlyphs">C: Temperature (°C)</text>
<text x="219.5" y="92" font-size="5.6" font-weight="bold" fill="#111" text-anchor="middle" textLength="52" lengthAdjust="spacingAndGlyphs" transform="rotate(-90 219.5 92)">TFC <tspan font-weight="normal">(mg QE/g extract)</tspan></text>
<text x="200.4" y="10.6" font-size="10.6" font-weight="bold" fill="#000">(h)</text></g>
<g><path d="M429.5 118 L482 144.8 L534.6 118.3 L482.4 98.4 Z" fill="#5b5b5b"/>
<path d="M461.8 134.5 L461.3 133.4 L460.8 132.5 L460.4 131.8 L459.9 131 L459.1 129.9 L458.6 129.3 L457.5 128.2 L457 127.6 L455.8 126.5 L455.2 125.9 L453.9 124.8 L453.3 124.3 L452 123.3 L451 122.5 L450 121.7 L448.6 120.7 L447.5 120 L446.4 119.3 L444.9 118.3 L443.4 117.3 L442.7 116.9 L441.2 115.9 L439.6 115 L438.9 114.5" fill="none" stroke="#243fe1" stroke-width="1.1"/>
<path d="M515.1 128.1 L512.9 128.4 L511 128.5 L509.3 128.6 L507.6 128.6 L506.1 128.5 L504.7 128.4 L502.7 128.2 L500.7 127.9 L499.4 127.7 L497.1 127.2 L495.9 127 L493.7 126.4 L492.4 126.1 L490.5 125.5 L488.4 124.9 L487 124.4 L485.4 123.9 L483.4 123.2 L481.4 122.5 L479.6 121.9 L478.5 121.5 L476.6 120.7 L474.7 120 L472.8 119.3 L470.9 118.6 L469.2 117.9 L468 117.4 L466.2 116.7 L464.3 115.9 L462.4 115.2 L460.6 114.4 L458.7 113.7 L456.9 112.9 L455 112.2 L454.1 111.8 L452.3 111 L450.5 110.2 L450.5 110.2" fill="none" stroke="#1f63e2" stroke-width="1.1"/>
<path d="M525 114.6 L522.8 115 L520.7 115.3 L519.2 115.4 L517.7 115.6 L516.1 115.7 L514.5 115.9 L512.7 116 L510.9 116.1 L509.1 116.1 L507.5 116.1 L505.7 116.1 L503.8 116.1 L501.7 116 L499.7 115.9 L498.3 115.8 L496.9 115.6 L494.9 115.4 L492.8 115.2 L491.5 115 L489.7 114.7 L487.7 114.4 L486.5 114.2 L484.1 113.8 L482.9 113.5 L480.5 113 L479.4 112.8 L477.1 112.2 L475.9 112 L473.7 111.4 L472.4 111.1 L470.4 110.6 L468.3 110 L467.2 109.7 L465.1 109 L463 108.4 L462 108.1 L459.9 107.4 L458.9 107.1" fill="none" stroke="#1683e1" stroke-width="1.1"/>
<path d="M510.6 109.2 L508.9 109.2 L507.1 109.2 L505.2 109.2 L503.3 109.2 L501.6 109.2 L500.1 109.1 L498.6 109.1 L497.1 109 L494.9 108.8 L492.8 108.6 L491.4 108.5 L490.1 108.4 L487.7 108.1 L486.1 107.9 L484.8 107.7 L482.4 107.3 L481 107.1 L479.4 106.8 L477.3 106.4 L476.1 106.2 L473.7 105.7 L472.5 105.5 L470.2 105 L469 104.7 L466.7 104.2 L466.7 104.2" fill="none" stroke="#0ba3e1" stroke-width="1.1"/>
<path d="M497.2 104 L495.7 104 L494.2 103.9 L492.8 103.8 L490.6 103.6 L488.5 103.4 L487.1 103.3 L485.8 103.1 L483.4 102.8 L481.8 102.6 L480.5 102.4 L478 102.1 L476.7 101.9 L475.2 101.6 L474.2 101.4" fill="none" stroke="#00c3e1" stroke-width="1.1"/>
<path d="M428.8 100.3 L426.6 43.1 M439.5 96.7 L437.8 40.5 M493 85.9 L493.6 32.7 M450.3 93.1 L449 37.9 M503.6 89.6 L504.8 35.3 M461 89.5 L460.1 35.3 M514.2 93.2 L515.9 38 M471.7 85.9 L471.3 32.7 M524.8 96.9 L527.1 40.6 M482.4 82.3 L482.5 30.1 M535.5 100.6 L538.2 43.2 M426.6 43.1 L482.5 30.1 L538.2 43.2 M427.2 57.4 L482.5 43.1 L537.5 57.5 M427.7 71.7 L482.5 56.2 L536.8 71.9 M428.3 86 L482.4 69.2 L536.1 86.2 M428.8 100.3 L482.4 82.3 L535.5 100.6" fill="none" stroke="#505050" stroke-width=".5"/>
<path d="M429.5 118 L426.6 43.1" stroke="#666" stroke-width=".5"/>
<path d="M534.6 118.3 L535.5 100.6" stroke="#777" stroke-width=".4"/>
<path d="M425.7 43.1 h1.6 M426.3 57.4 h1.6 M426.8 71.7 h1.6 M427.4 86 h1.6 M427.9 100.3 h1.6" stroke="#111" stroke-width=".8"/>
<g stroke-width=".35" stroke-linejoin="round">
<path d="M479.7 58l2.7 1.2l2.8-1.5l-2.7-1.2z" fill="#00ffb1" stroke="#00ffb1"/>
<path d="M477 59.6l2.7 1.1l2.7-1.5l-2.7-1.2zM485.2 60.4l2.7 1.2l2.7-1.5l-2.7-1.2z" fill="#00ffcb" stroke="#00ffcb"/>
<path d="M482.4 59.2l2.8 1.2l2.7-1.5l-2.7-1.2z" fill="#00ffbe" stroke="#00ffbe"/>
<path d="M474.3 61.1l2.7 1.1l2.7-1.5l-2.7-1.1zM479.7 60.7l2.7 1.2l2.8-1.5l-2.8-1.2zM482.4 61.9l2.7 1.1l2.8-1.4l-2.7-1.2zM487.9 61.6l2.7 1.2l2.7-1.5l-2.7-1.2z" fill="#00ffd8" stroke="#00ffd8"/>
<path d="M471.5 62.6l2.7 1.1l2.8-1.5l-2.7-1.1zM474.2 63.7l2.8 1.1l2.7-1.4l-2.7-1.2zM479.7 63.4l2.7 1.1l2.7-1.5l-2.7-1.1zM482.4 64.5l2.7 1.2l2.7-1.5l-2.7-1.2zM487.8 64.2l2.7 1.2l2.8-1.5l-2.7-1.1zM490.5 65.4l2.8 1.1l2.7-1.4l-2.7-1.2zM496 65.1l2.7 1.2l2.7-1.4l-2.7-1.2z" fill="#00fff2" stroke="#00fff2"/>
<path d="M477 62.2l2.7 1.2l2.7-1.5l-2.7-1.2zM485.1 63l2.7 1.2l2.8-1.4l-2.7-1.2zM490.6 62.8l2.7 1.1l2.7-1.4l-2.7-1.2zM493.3 63.9l2.7 1.2l2.7-1.4l-2.7-1.2z" fill="#00ffe5" stroke="#00ffe5"/>
<path d="M468.8 64.1l2.7 1.1l2.7-1.5l-2.7-1.1zM477 64.8l2.7 1.2l2.7-1.5l-2.7-1.1zM485.1 65.7l2.7 1.1l2.7-1.4l-2.7-1.2zM493.3 66.5l2.7 1.2l2.7-1.4l-2.7-1.2zM498.7 66.3l2.7 1.2l2.7-1.4l-2.7-1.2z" fill="#00ffff" stroke="#00ffff"/>
<path d="M466.1 65.6l2.7 1.1l2.7-1.5l-2.7-1.1zM468.8 66.7l2.7 1.1l2.7-1.5l-2.7-1.1zM476.9 67.4l2.8 1.1l2.7-1.4l-2.7-1.1zM479.7 68.5l2.7 1.2l2.7-1.5l-2.7-1.1zM485.1 68.2l2.7 1.2l2.7-1.4l-2.7-1.2zM487.8 69.4l2.7 1.1l2.7-1.4l-2.7-1.1zM493.2 69.1l2.7 1.1l2.8-1.3l-2.7-1.2zM498.7 68.9l2.7 1.1l2.7-1.3l-2.7-1.2zM501.4 70l2.7 1.2l2.7-1.4l-2.7-1.1zM506.8 69.8l2.7 1.2l2.7-1.3l-2.7-1.2z" fill="#00e4ff" stroke="#00e4ff"/>
<path d="M471.5 65.2l2.7 1.1l2.8-1.5l-2.8-1.1zM474.2 66.3l2.7 1.1l2.8-1.4l-2.7-1.2zM479.7 66l2.7 1.1l2.7-1.4l-2.7-1.2zM482.4 67.1l2.7 1.1l2.7-1.4l-2.7-1.1zM487.8 66.8l2.7 1.2l2.8-1.5l-2.8-1.1zM490.5 68l2.7 1.1l2.8-1.4l-2.7-1.2zM496 67.7l2.7 1.2l2.7-1.4l-2.7-1.2zM501.4 67.5l2.7 1.2l2.7-1.4l-2.7-1.2zM504.1 68.7l2.7 1.1l2.7-1.3l-2.7-1.2z" fill="#00f1ff" stroke="#00f1ff"/>
<path d="M463.4 67.1l2.7 1.1l2.7-1.5l-2.7-1.1zM471.5 67.8l2.7 1.1l2.7-1.5l-2.7-1.1zM474.2 68.9l2.7 1.1l2.8-1.5l-2.8-1.1zM482.4 69.7l2.7 1.1l2.7-1.4l-2.7-1.2zM485.1 70.8l2.7 1.1l2.7-1.4l-2.7-1.1zM490.5 70.5l2.7 1.1l2.7-1.4l-2.7-1.1zM495.9 70.2l2.7 1.2l2.8-1.4l-2.7-1.1zM493.2 71.6l2.7 1.2l2.7-1.4l-2.7-1.2zM498.6 71.4l2.7 1.1l2.8-1.3l-2.7-1.2zM504.1 71.2l2.7 1.2l2.7-1.4l-2.7-1.2zM509.5 71l2.7 1.2l2.7-1.3l-2.7-1.2z" fill="#00d6ff" stroke="#00d6ff"/>
<path d="M460.7 68.6l2.7 1l2.7-1.4l-2.7-1.1zM463.4 69.6l2.7 1.1l2.7-1.5l-2.7-1zM466.1 70.7l2.7 1.1l2.7-1.5l-2.7-1.1zM474.2 71.4l2.7 1.1l2.7-1.4l-2.7-1.1zM476.9 72.5l2.7 1.1l2.7-1.4l-2.7-1.1zM479.6 73.6l2.7 1.1l2.7-1.4l-2.7-1.1zM485 73.3l2.8 1.1l2.7-1.4l-2.7-1.1zM487.8 74.4l2.7 1.1l2.7-1.4l-2.7-1.1zM493.2 74.1l2.7 1.1l2.7-1.3l-2.7-1.1zM498.6 73.9l2.7 1.1l2.7-1.3l-2.7-1.2zM514.9 73.4l2.7 1.2l2.7-1.3l-2.7-1.2zM495.9 75.2l2.7 1.2l2.7-1.4l-2.7-1.1zM501.3 75l2.7 1.2l2.7-1.4l-2.7-1.1zM506.7 74.8l2.7 1.2l2.8-1.3l-2.7-1.2zM512.2 74.7l2.6 1.2l2.8-1.3l-2.7-1.2zM517.6 74.6l2.7 1.1l2.7-1.2l-2.7-1.2z" fill="#00baff" stroke="#00baff"/>
<path d="M466.1 68.2l2.7 1l2.7-1.4l-2.7-1.1zM468.8 69.2l2.7 1.1l2.7-1.4l-2.7-1.1zM471.5 70.3l2.7 1.1l2.7-1.4l-2.7-1.1zM476.9 70l2.7 1.1l2.8-1.4l-2.7-1.2zM479.6 71.1l2.7 1.1l2.8-1.4l-2.7-1.1zM482.3 72.2l2.7 1.1l2.8-1.4l-2.7-1.1zM487.8 71.9l2.7 1.1l2.7-1.4l-2.7-1.1zM490.5 73l2.7 1.1l2.7-1.3l-2.7-1.2zM495.9 72.8l2.7 1.1l2.7-1.4l-2.7-1.1zM501.3 72.5l2.7 1.2l2.8-1.3l-2.7-1.2zM506.8 72.4l2.7 1.1l2.7-1.3l-2.7-1.2zM512.2 72.2l2.7 1.2l2.7-1.3l-2.7-1.2zM504 73.7l2.7 1.1l2.8-1.3l-2.7-1.1zM509.5 73.5l2.7 1.2l2.7-1.3l-2.7-1.2z" fill="#00c8ff" stroke="#00c8ff"/>
<path d="M457.9 70l2.8 1.1l2.7-1.5l-2.7-1zM460.7 71.1l2.7 1.1l2.7-1.5l-2.7-1.1zM468.8 71.8l2.7 1l2.7-1.4l-2.7-1.1zM471.5 72.8l2.7 1.1l2.7-1.4l-2.7-1.1zM474.2 73.9l2.7 1.1l2.7-1.4l-2.7-1.1zM482.3 74.7l2.7 1.1l2.8-1.4l-2.8-1.1zM485 75.8l2.7 1.1l2.8-1.4l-2.7-1.1zM490.5 75.5l2.7 1.1l2.7-1.4l-2.7-1.1zM493.2 76.6l2.7 1.1l2.7-1.3l-2.7-1.2zM498.6 76.4l2.7 1.1l2.7-1.3l-2.7-1.2zM504 76.2l2.7 1.1l2.7-1.3l-2.7-1.2zM509.4 76l2.7 1.1l2.7-1.2l-2.6-1.2zM514.8 75.9l2.7 1.1l2.8-1.3l-2.7-1.1zM520.3 75.7l2.7 1.2l2.7-1.2l-2.7-1.2zM501.3 77.5l2.7 1.1l2.7-1.3l-2.7-1.1zM506.7 77.3l2.7 1.1l2.7-1.3l-2.7-1.1zM512.1 77.1l2.7 1.2l2.7-1.3l-2.7-1.1z" fill="#00adff" stroke="#00adff"/>
<path d="M455.2 71.5l2.7 1l2.8-1.4l-2.8-1.1zM457.9 72.5l2.7 1.1l2.8-1.4l-2.7-1.1zM460.6 73.6l2.7 1l2.8-1.4l-2.7-1zM463.3 74.6l2.8 1.1l2.7-1.4l-2.7-1.1zM466.1 75.7l2.7 1l2.7-1.4l-2.7-1zM468.8 76.7l2.7 1.1l2.7-1.4l-2.7-1.1zM474.2 76.4l2.7 1.1l2.7-1.4l-2.7-1.1zM476.9 77.5l2.7 1l2.7-1.4l-2.7-1zM479.6 78.5l2.7 1.1l2.7-1.4l-2.7-1.1zM482.3 79.6l2.7 1l2.7-1.3l-2.7-1.1zM487.7 79.3l2.7 1.1l2.7-1.4l-2.7-1.1zM525.6 78.1l2.7 1.2l2.8-1.3l-2.7-1.2zM490.4 80.4l2.7 1.1l2.7-1.4l-2.7-1.1zM495.8 80.1l2.7 1.1l2.8-1.3l-2.7-1.1zM501.3 79.9l2.7 1.1l2.7-1.3l-2.7-1.1zM506.7 79.7l2.7 1.2l2.7-1.3l-2.7-1.2zM512.1 79.6l2.7 1.1l2.7-1.3l-2.7-1.1zM517.5 79.4l2.7 1.2l2.7-1.3l-2.7-1.1zM522.9 79.3l2.7 1.2l2.7-1.2l-2.7-1.2zM528.3 79.3l2.7 1.1l2.7-1.2l-2.6-1.2zM493.1 81.5l2.7 1l2.7-1.3l-2.7-1.1zM498.5 81.2l2.7 1.1l2.8-1.3l-2.7-1.1zM504 81l2.7 1.1l2.7-1.2l-2.7-1.2zM509.4 80.9l2.7 1.1l2.7-1.3l-2.7-1.1zM514.8 80.7l2.7 1.1l2.7-1.2l-2.7-1.2zM520.2 80.6l2.7 1.1l2.7-1.2l-2.7-1.2z" fill="#0091ff" stroke="#0091ff"/>
<path d="M452.5 73l2.7 1l2.7-1.5l-2.7-1zM455.2 74l2.7 1l2.7-1.4l-2.7-1.1zM457.9 75l2.7 1.1l2.7-1.5l-2.7-1zM460.6 76.1l2.7 1l2.8-1.4l-2.8-1.1zM463.3 77.1l2.7 1.1l2.8-1.5l-2.7-1zM471.5 77.8l2.7 1l2.7-1.3l-2.7-1.1zM474.2 78.8l2.7 1.1l2.7-1.4l-2.7-1zM476.9 79.9l2.7 1l2.7-1.3l-2.7-1.1zM479.6 80.9l2.7 1.1l2.7-1.4l-2.7-1zM485 80.6l2.7 1.1l2.7-1.3l-2.7-1.1zM482.3 82l2.7 1.1l2.7-1.4l-2.7-1.1zM487.7 81.7l2.7 1.1l2.7-1.3l-2.7-1.1zM525.6 80.5l2.7 1.2l2.7-1.3l-2.7-1.1zM531 80.4l2.7 1.2l2.7-1.2l-2.7-1.2zM490.4 82.8l2.7 1l2.7-1.3l-2.7-1zM495.8 82.5l2.7 1.1l2.7-1.3l-2.7-1.1zM501.2 82.3l2.7 1.1l2.8-1.3l-2.7-1.1zM506.7 82.1l2.7 1.1l2.7-1.2l-2.7-1.1zM512.1 82l2.7 1.1l2.7-1.3l-2.7-1.1zM517.5 81.8l2.7 1.2l2.7-1.3l-2.7-1.1zM522.9 81.7l2.7 1.2l2.7-1.2l-2.7-1.2zM528.3 81.7l2.7 1.1l2.7-1.2l-2.7-1.2zM493.1 83.8l2.7 1.1l2.7-1.3l-2.7-1.1zM498.5 83.6l2.7 1.1l2.7-1.3l-2.7-1.1zM503.9 83.4l2.7 1.1l2.8-1.3l-2.7-1.1zM509.4 83.2l2.6 1.1l2.8-1.2l-2.7-1.1zM514.8 83.1l2.7 1.1l2.7-1.2l-2.7-1.2zM520.2 83l2.7 1.1l2.7-1.2l-2.7-1.2zM501.2 84.7l2.7 1.1l2.7-1.3l-2.7-1.1zM506.6 84.5l2.7 1.1l2.7-1.3l-2.6-1.1zM512 84.3l2.7 1.2l2.8-1.3l-2.7-1.1z" fill="#0084ff" stroke="#0084ff"/>
<path d="M463.4 72.2l2.7 1l2.7-1.4l-2.7-1.1zM466.1 73.2l2.7 1.1l2.7-1.5l-2.7-1zM468.8 74.3l2.7 1l2.7-1.4l-2.7-1.1zM471.5 75.3l2.7 1.1l2.7-1.4l-2.7-1.1zM476.9 75l2.7 1.1l2.7-1.4l-2.7-1.1zM479.6 76.1l2.7 1l2.7-1.3l-2.7-1.1zM482.3 77.1l2.7 1.1l2.7-1.3l-2.7-1.1zM487.7 76.9l2.7 1l2.8-1.3l-2.7-1.1zM485 78.2l2.7 1.1l2.7-1.4l-2.7-1zM490.4 77.9l2.7 1.1l2.8-1.3l-2.7-1.1zM495.9 77.7l2.7 1.1l2.7-1.3l-2.7-1.1zM517.5 77l2.7 1.2l2.8-1.3l-2.7-1.2zM523 76.9l2.6 1.2l2.8-1.3l-2.7-1.1zM493.1 79l2.7 1.1l2.8-1.3l-2.7-1.1zM498.6 78.8l2.7 1.1l2.7-1.3l-2.7-1.1zM504 78.6l2.7 1.1l2.7-1.3l-2.7-1.1zM509.4 78.4l2.7 1.2l2.7-1.3l-2.7-1.2zM514.8 78.3l2.7 1.1l2.7-1.2l-2.7-1.2zM520.2 78.2l2.7 1.1l2.7-1.2l-2.6-1.2z" fill="#009fff" stroke="#009fff"/>
<path d="M449.8 74.4l2.7 1l2.7-1.4l-2.7-1zM452.5 75.4l2.7 1.1l2.7-1.5l-2.7-1zM455.2 76.5l2.7 1l2.7-1.4l-2.7-1.1zM466 78.2l2.7 1l2.8-1.4l-2.7-1.1zM468.7 79.2l2.8 1l2.7-1.4l-2.7-1zM471.5 80.2l2.7 1.1l2.7-1.4l-2.7-1.1zM474.2 81.3l2.7 1l2.7-1.4l-2.7-1zM476.9 82.3l2.7 1.1l2.7-1.4l-2.7-1.1zM479.6 83.4l2.7 1l2.7-1.3l-2.7-1.1zM485 83.1l2.7 1l2.7-1.3l-2.7-1.1zM482.3 84.4l2.7 1l2.7-1.3l-2.7-1zM487.7 84.1l2.7 1.1l2.7-1.4l-2.7-1zM525.6 82.9l2.7 1.1l2.7-1.2l-2.7-1.1zM485 85.4l2.7 1.1l2.7-1.3l-2.7-1.1zM490.4 85.2l2.7 1l2.7-1.3l-2.7-1.1zM495.8 84.9l2.7 1.1l2.7-1.3l-2.7-1.1zM517.5 84.2l2.7 1.1l2.7-1.2l-2.7-1.1zM522.9 84.1l2.7 1.2l2.7-1.3l-2.7-1.1zM493.1 86.2l2.7 1.1l2.7-1.3l-2.7-1.1zM498.5 86l2.7 1l2.7-1.2l-2.7-1.1zM503.9 85.8l2.7 1.1l2.7-1.3l-2.7-1.1zM509.3 85.6l2.7 1.1l2.7-1.2l-2.7-1.2zM514.7 85.5l2.7 1.1l2.8-1.3l-2.7-1.1zM520.2 85.3l2.6 1.2l2.8-1.2l-2.7-1.2zM495.8 87.3l2.7 1l2.7-1.3l-2.7-1zM501.2 87l2.7 1.1l2.7-1.2l-2.7-1.1zM506.6 86.9l2.7 1l2.7-1.2l-2.7-1.1zM512 86.7l2.7 1.1l2.7-1.2l-2.7-1.1zM517.4 86.6l2.7 1.1l2.7-1.2l-2.6-1.2z" fill="#0076ff" stroke="#0076ff"/>
<path d="M447.1 75.9l2.7 1l2.7-1.5l-2.7-1zM449.8 76.9l2.7 1l2.7-1.4l-2.7-1.1zM452.5 77.9l2.7 1l2.7-1.4l-2.7-1zM455.2 78.9l2.7 1.1l2.7-1.5l-2.7-1zM457.9 80l2.7 1l2.7-1.4l-2.7-1.1zM460.6 81l2.7 1l2.7-1.4l-2.7-1zM463.3 82l2.7 1l2.7-1.4l-2.7-1zM466 83l2.7 1l2.7-1.3l-2.7-1.1zM468.7 84l2.7 1l2.7-1.3l-2.7-1zM471.4 85l2.7 1.1l2.7-1.4l-2.7-1zM474.1 86.1l2.7 1l2.7-1.4l-2.7-1zM476.8 87.1l2.7 1l2.7-1.4l-2.7-1zM474.1 88.4l2.7 1l2.7-1.3l-2.7-1zM479.5 88.1l2.7 1l2.8-1.3l-2.8-1.1zM476.8 89.4l2.7 1l2.7-1.3l-2.7-1zM482.2 89.1l2.7 1l2.8-1.3l-2.7-1zM479.5 90.4l2.7 1l2.7-1.3l-2.7-1zM484.9 90.1l2.7 1l2.8-1.3l-2.7-1zM482.2 91.4l2.7 1l2.7-1.3l-2.7-1zM487.6 91.1l2.7 1l2.8-1.3l-2.7-1zM493.1 90.8l2.7 1.1l2.7-1.3l-2.7-1zM484.9 92.4l2.7 1l2.7-1.3l-2.7-1zM490.3 92.1l2.7 1l2.8-1.2l-2.7-1.1zM495.8 91.9l2.7 1l2.7-1.3l-2.7-1zM487.6 93.4l2.7 .9l2.7-1.2l-2.7-1zM493 93.1l2.7 1l2.8-1.2l-2.7-1zM498.5 92.9l2.7 1l2.7-1.2l-2.7-1.1zM503.9 92.7l2.7 1l2.7-1.2l-2.7-1zM490.3 94.3l2.7 1l2.7-1.2l-2.7-1zM495.7 94.1l2.7 1l2.8-1.2l-2.7-1zM501.2 93.9l2.7 1l2.7-1.2l-2.7-1zM493 95.3l2.7 1l2.7-1.2l-2.7-1zM498.4 95.1l2.8 1l2.7-1.2l-2.7-1zM495.7 96.3l2.7 1l2.8-1.2l-2.8-1z" fill="#005aff" stroke="#005aff"/>
<path d="M444.4 77.3l2.7 1l2.7-1.4l-2.7-1zM447.1 78.3l2.7 1l2.7-1.4l-2.7-1zM449.8 79.3l2.7 1l2.7-1.4l-2.7-1zM452.5 80.3l2.7 1.1l2.7-1.4l-2.7-1.1zM455.2 81.4l2.7 1l2.7-1.4l-2.7-1zM457.9 82.4l2.7 1l2.7-1.4l-2.7-1zM460.6 83.4l2.7 1l2.7-1.4l-2.7-1zM463.3 84.4l2.7 1l2.7-1.4l-2.7-1zM466 85.4l2.7 1l2.7-1.4l-2.7-1zM463.3 86.8l2.7 1l2.7-1.4l-2.7-1zM468.7 86.4l2.7 1l2.7-1.3l-2.7-1.1zM466 87.8l2.7 1l2.7-1.4l-2.7-1zM471.4 87.4l2.7 1l2.7-1.3l-2.7-1zM468.7 88.8l2.7 .9l2.7-1.3l-2.7-1zM471.4 89.7l2.7 1l2.7-1.3l-2.7-1zM474.1 90.7l2.7 1l2.7-1.3l-2.7-1zM476.8 91.7l2.7 1l2.7-1.3l-2.7-1zM479.5 92.7l2.7 1l2.7-1.3l-2.7-1zM476.8 94l2.7 .9l2.7-1.2l-2.7-1zM482.2 93.7l2.7 .9l2.7-1.2l-2.7-1zM479.5 94.9l2.7 1l2.7-1.3l-2.7-.9zM484.9 94.6l2.7 1l2.7-1.3l-2.7-.9zM482.2 95.9l2.7 .9l2.7-1.2l-2.7-1zM487.6 95.6l2.7 1l2.7-1.3l-2.7-1zM484.9 96.8l2.7 1l2.7-1.2l-2.7-1zM490.3 96.6l2.7 .9l2.7-1.2l-2.7-1zM482.2 98.1l2.7 .9l2.7-1.2l-2.7-1zM487.6 97.8l2.7 .9l2.7-1.2l-2.7-.9zM493 97.5l2.7 1l2.7-1.2l-2.7-1zM484.9 99l2.7 .9l2.7-1.2l-2.7-.9zM490.3 98.7l2.7 1l2.7-1.2l-2.7-1zM487.6 99.9l2.7 1l2.7-1.2l-2.7-1zM484.9 101.1l2.7 .9l2.7-1.1l-2.7-1z" fill="#004dff" stroke="#004dff"/>
<path d="M441.7 78.7l2.7 1l2.7-1.4l-2.7-1zM447.1 83.2l2.7 1l2.7-1.4l-2.7-1zM449.8 84.2l2.7 1l2.7-1.4l-2.7-1zM452.5 85.2l2.7 1l2.7-1.4l-2.7-1zM455.2 86.2l2.7 1l2.7-1.4l-2.7-1zM457.9 87.2l2.7 .9l2.7-1.3l-2.7-1zM457.9 89.5l2.7 1l2.7-1.4l-2.7-1zM460.6 90.5l2.7 1l2.7-1.4l-2.7-1zM463.3 91.5l2.7 .9l2.7-1.3l-2.7-1zM466 92.4l2.7 1l2.7-1.3l-2.7-1zM463.3 93.8l2.7 .9l2.7-1.3l-2.7-1zM466 94.7l2.7 .9l2.7-1.3l-2.7-.9zM468.7 95.6l2.7 1l2.7-1.3l-2.7-1zM466 97l2.7 .9l2.7-1.3l-2.7-1zM471.4 96.6l2.7 .9l2.7-1.3l-2.7-.9zM468.7 97.9l2.7 .9l2.7-1.3l-2.7-.9zM471.4 98.8l2.7 .9l2.7-1.3l-2.7-.9zM468.7 100.1l2.7 .9l2.7-1.3l-2.7-.9zM471.4 101l2.7 .8l2.7-1.2l-2.7-.9z" fill="#0031ff" stroke="#0031ff"/>
<path d="M457.9 77.5l2.7 1l2.7-1.4l-2.7-1zM460.6 78.5l2.7 1.1l2.7-1.4l-2.7-1.1zM463.3 79.6l2.7 1l2.7-1.4l-2.7-1zM466 80.6l2.7 1l2.8-1.4l-2.8-1zM468.7 81.6l2.7 1.1l2.8-1.4l-2.7-1.1zM471.4 82.7l2.7 1l2.8-1.4l-2.7-1zM474.1 83.7l2.7 1l2.8-1.3l-2.7-1.1zM476.8 84.7l2.7 1l2.8-1.3l-2.7-1zM479.5 85.7l2.7 1l2.8-1.3l-2.7-1zM482.2 86.7l2.8 1.1l2.7-1.3l-2.7-1.1zM487.7 86.5l2.7 1l2.7-1.3l-2.7-1zM485 87.8l2.7 1l2.7-1.3l-2.7-1zM490.4 87.5l2.7 1l2.7-1.2l-2.7-1.1zM487.7 88.8l2.7 1l2.7-1.3l-2.7-1zM493.1 88.5l2.7 1.1l2.7-1.3l-2.7-1zM498.5 88.3l2.7 1.1l2.7-1.3l-2.7-1.1zM503.9 88.1l2.7 1.1l2.7-1.3l-2.7-1zM509.3 87.9l2.7 1.1l2.7-1.2l-2.7-1.1zM514.7 87.8l2.7 1.1l2.7-1.2l-2.7-1.1zM490.4 89.8l2.7 1l2.7-1.2l-2.7-1.1zM495.8 89.6l2.7 1l2.7-1.2l-2.7-1.1zM501.2 89.4l2.7 1l2.7-1.2l-2.7-1.1zM506.6 89.2l2.7 1l2.7-1.2l-2.7-1.1zM512 89l2.7 1.1l2.7-1.2l-2.7-1.1zM498.5 90.6l2.7 1l2.7-1.2l-2.7-1zM503.9 90.4l2.7 1.1l2.7-1.3l-2.7-1zM509.3 90.2l2.7 1.1l2.7-1.2l-2.7-1.1zM501.2 91.6l2.7 1.1l2.7-1.2l-2.7-1.1zM506.6 91.5l2.7 1l2.7-1.2l-2.7-1.1z" fill="#0068ff" stroke="#0068ff"/>
<path d="M439 80.1l2.7 1l2.7-1.4l-2.7-1zM441.7 81.1l2.7 1.1l2.7-1.5l-2.7-1zM444.4 82.2l2.7 1l2.7-1.4l-2.7-1.1zM447.1 85.6l2.7 1l2.7-1.4l-2.7-1zM449.8 86.6l2.7 .9l2.7-1.3l-2.7-1zM452.5 87.5l2.7 1l2.7-1.3l-2.7-1zM455.2 88.5l2.7 1l2.7-1.4l-2.7-.9zM452.5 89.9l2.7 1l2.7-1.4l-2.7-1zM455.2 90.9l2.7 .9l2.7-1.3l-2.7-1zM457.9 91.8l2.7 1l2.7-1.3l-2.7-1zM460.6 92.8l2.7 1l2.7-1.4l-2.7-.9zM457.9 94.2l2.7 .9l2.7-1.3l-2.7-1zM460.6 95.1l2.7 .9l2.7-1.3l-2.7-.9zM463.3 96l2.7 1l2.7-1.4l-2.7-.9zM460.6 97.4l2.7 .9l2.7-1.3l-2.7-1zM463.3 98.3l2.7 .9l2.7-1.3l-2.7-.9zM466 99.2l2.7 .9l2.7-1.3l-2.7-.9z" fill="#0024ff" stroke="#0024ff"/>
<path d="M444.4 79.7l2.7 1l2.7-1.4l-2.7-1zM447.1 80.7l2.7 1.1l2.7-1.5l-2.7-1zM449.8 81.8l2.7 1l2.7-1.4l-2.7-1.1zM452.5 82.8l2.7 1l2.7-1.4l-2.7-1zM455.2 83.8l2.7 1l2.7-1.4l-2.7-1zM457.9 84.8l2.7 1l2.7-1.4l-2.7-1zM460.6 85.8l2.7 1l2.7-1.4l-2.7-1zM460.6 88.1l2.7 1l2.7-1.3l-2.7-1zM463.3 89.1l2.7 1l2.7-1.3l-2.7-1zM466 90.1l2.7 1l2.7-1.4l-2.7-.9zM468.7 91.1l2.7 1l2.7-1.4l-2.7-1zM471.4 92.1l2.7 .9l2.7-1.3l-2.7-1zM468.7 93.4l2.7 .9l2.7-1.3l-2.7-.9zM474.1 93l2.7 1l2.7-1.3l-2.7-1zM471.4 94.3l2.7 1l2.7-1.3l-2.7-1zM474.1 95.3l2.7 .9l2.7-1.3l-2.7-.9zM476.8 96.2l2.7 1l2.7-1.3l-2.7-1zM474.1 97.5l2.7 .9l2.7-1.2l-2.7-1zM479.5 97.2l2.7 .9l2.7-1.3l-2.7-.9zM476.8 98.4l2.7 .9l2.7-1.2l-2.7-.9zM474.1 99.7l2.7 .9l2.7-1.3l-2.7-.9zM479.5 99.3l2.7 .9l2.7-1.2l-2.7-.9zM476.8 100.6l2.7 .9l2.7-1.3l-2.7-.9zM482.2 100.2l2.7 .9l2.7-1.2l-2.7-.9zM474.1 101.8l2.7 .9l2.7-1.2l-2.7-.9zM479.5 101.5l2.7 .9l2.7-1.3l-2.7-.9zM476.8 102.7l2.7 .9l2.7-1.2l-2.7-.9zM482.2 102.4l2.7 .8l2.7-1.2l-2.7-.9zM479.5 103.6l2.7 .8l2.7-1.2l-2.7-.8z" fill="#003fff" stroke="#003fff"/>
<path d="M436.3 81.5l2.7 1l2.7-1.4l-2.7-1zM439 82.5l2.7 1.1l2.7-1.4l-2.7-1.1zM441.7 83.6l2.7 1l2.7-1.4l-2.7-1zM444.4 84.6l2.7 1l2.7-1.4l-2.7-1zM444.4 87l2.7 .9l2.7-1.3l-2.7-1zM447.1 87.9l2.7 1l2.7-1.4l-2.7-.9zM449.8 88.9l2.7 1l2.7-1.4l-2.7-1zM449.8 91.3l2.7 .9l2.7-1.3l-2.7-1zM452.5 92.2l2.7 1l2.7-1.4l-2.7-.9zM455.2 93.2l2.7 1l2.7-1.4l-2.7-1zM455.2 95.5l2.7 .9l2.7-1.3l-2.7-.9zM457.9 96.4l2.7 1l2.7-1.4l-2.7-.9z" fill="#0016ff" stroke="#0016ff"/>
<path d="M433.6 82.9l2.7 1l2.7-1.4l-2.7-1zM436.3 86.3l2.7 1l2.7-1.3l-2.7-1zM439 87.3l2.7 1l2.7-1.3l-2.7-1zM441.7 88.3l2.7 1l2.7-1.4l-2.7-.9zM441.7 90.7l2.7 1l2.7-1.4l-2.7-1zM444.4 91.7l2.7 .9l2.7-1.3l-2.7-1z" fill="#0000fe" stroke="#0000fe"/>
<path d="M430.9 84.3l2.7 1l2.7-1.4l-2.7-1zM433.6 85.3l2.7 1l2.7-1.3l-2.7-1.1zM436.3 88.7l2.7 1l2.7-1.4l-2.7-1zM439 89.7l2.7 1l2.7-1.4l-2.7-1z" fill="#0000fc" stroke="#0000fc"/>
<path d="M436.3 83.9l2.7 1.1l2.7-1.4l-2.7-1.1zM439 85l2.7 1l2.7-1.4l-2.7-1zM441.7 86l2.7 1l2.7-1.4l-2.7-1zM444.4 89.3l2.7 1l2.7-1.4l-2.7-1zM447.1 90.3l2.7 1l2.7-1.4l-2.7-1zM447.1 92.6l2.7 1l2.7-1.4l-2.7-.9zM449.8 93.6l2.7 1l2.7-1.4l-2.7-1zM452.5 94.6l2.7 .9l2.7-1.3l-2.7-1z" fill="#0008ff" stroke="#0008ff"/>
<path d="M428.2 85.7l2.7 1l2.7-1.4l-2.7-1z" fill="#0000f8" stroke="#0000f8"/>
<path d="M430.9 86.7l2.7 1l2.7-1.4l-2.7-1zM433.6 87.7l2.7 1l2.7-1.4l-2.7-1z" fill="#0000fa" stroke="#0000fa"/>
</g>
<path d="M428.2 85.7 L430.9 84.3 L433.6 82.9 L436.3 81.5 L439 80.1 L441.7 78.7 L444.4 77.3 L447.1 75.9 L449.8 74.4 L452.5 73 L455.2 71.5 L457.9 70 L460.7 68.6 L463.4 67.1 L466.1 65.6 L468.8 64.1 L471.5 62.6 L474.3 61.1 L477 59.6 L479.7 58 L482.5 56.5 M428.2 85.7 L430.9 86.7 L433.6 87.7 L436.3 88.7 L439 89.7 L441.7 90.7 L444.4 91.7 L447.1 92.6 L449.8 93.6 L452.5 94.6 L455.2 95.5 L457.9 96.4 L460.6 97.4 L463.3 98.3 L466 99.2 L468.7 100.1 L471.4 101 L474.1 101.8 L476.8 102.7 L479.5 103.6 L482.2 104.4 M430.9 86.7 L433.6 85.3 L436.3 83.9 L439 82.5 L441.7 81.1 L444.4 79.7 L447.1 78.3 L449.8 76.9 L452.5 75.4 L455.2 74 L457.9 72.5 L460.7 71.1 L463.4 69.6 L466.1 68.2 L468.8 66.7 L471.5 65.2 L474.2 63.7 L477 62.2 L479.7 60.7 L482.4 59.2 L485.2 57.7 M430.9 84.3 L433.6 85.3 L436.3 86.3 L439 87.3 L441.7 88.3 L444.4 89.3 L447.1 90.3 L449.8 91.3 L452.5 92.2 L455.2 93.2 L457.9 94.2 L460.6 95.1 L463.3 96 L466 97 L468.7 97.9 L471.4 98.8 L474.1 99.7 L476.8 100.6 L479.5 101.5 L482.2 102.4 L484.9 103.2 M433.6 87.7 L436.3 86.3 L439 85 L441.7 83.6 L444.4 82.2 L447.1 80.7 L449.8 79.3 L452.5 77.9 L455.2 76.5 L457.9 75 L460.6 73.6 L463.4 72.2 L466.1 70.7 L468.8 69.2 L471.5 67.8 L474.2 66.3 L477 64.8 L479.7 63.4 L482.4 61.9 L485.2 60.4 L487.9 58.9 M433.6 82.9 L436.3 83.9 L439 85 L441.7 86 L444.4 87 L447.1 87.9 L449.8 88.9 L452.5 89.9 L455.2 90.9 L457.9 91.8 L460.6 92.8 L463.3 93.8 L466 94.7 L468.7 95.6 L471.4 96.6 L474.1 97.5 L476.8 98.4 L479.5 99.3 L482.2 100.2 L484.9 101.1 L487.6 102 M436.3 88.7 L439 87.3 L441.7 86 L444.4 84.6 L447.1 83.2 L449.8 81.8 L452.5 80.3 L455.2 78.9 L457.9 77.5 L460.6 76.1 L463.3 74.6 L466.1 73.2 L468.8 71.8 L471.5 70.3 L474.2 68.9 L476.9 67.4 L479.7 66 L482.4 64.5 L485.1 63 L487.9 61.6 L490.6 60.1 M436.3 81.5 L439 82.5 L441.7 83.6 L444.4 84.6 L447.1 85.6 L449.8 86.6 L452.5 87.5 L455.2 88.5 L457.9 89.5 L460.6 90.5 L463.3 91.5 L466 92.4 L468.7 93.4 L471.4 94.3 L474.1 95.3 L476.8 96.2 L479.5 97.2 L482.2 98.1 L484.9 99 L487.6 99.9 L490.3 100.9 M439 89.7 L441.7 88.3 L444.4 87 L447.1 85.6 L449.8 84.2 L452.5 82.8 L455.2 81.4 L457.9 80 L460.6 78.5 L463.3 77.1 L466.1 75.7 L468.8 74.3 L471.5 72.8 L474.2 71.4 L476.9 70 L479.7 68.5 L482.4 67.1 L485.1 65.7 L487.8 64.2 L490.6 62.8 L493.3 61.3 M439 80.1 L441.7 81.1 L444.4 82.2 L447.1 83.2 L449.8 84.2 L452.5 85.2 L455.2 86.2 L457.9 87.2 L460.6 88.1 L463.3 89.1 L466 90.1 L468.7 91.1 L471.4 92.1 L474.1 93 L476.8 94 L479.5 94.9 L482.2 95.9 L484.9 96.8 L487.6 97.8 L490.3 98.7 L493 99.7 M441.7 90.7 L444.4 89.3 L447.1 87.9 L449.8 86.6 L452.5 85.2 L455.2 83.8 L457.9 82.4 L460.6 81 L463.3 79.6 L466 78.2 L468.8 76.7 L471.5 75.3 L474.2 73.9 L476.9 72.5 L479.6 71.1 L482.4 69.7 L485.1 68.2 L487.8 66.8 L490.5 65.4 L493.3 63.9 L496 62.5 M441.7 78.7 L444.4 79.7 L447.1 80.7 L449.8 81.8 L452.5 82.8 L455.2 83.8 L457.9 84.8 L460.6 85.8 L463.3 86.8 L466 87.8 L468.7 88.8 L471.4 89.7 L474.1 90.7 L476.8 91.7 L479.5 92.7 L482.2 93.7 L484.9 94.6 L487.6 95.6 L490.3 96.6 L493 97.5 L495.7 98.5 M444.4 91.7 L447.1 90.3 L449.8 88.9 L452.5 87.5 L455.2 86.2 L457.9 84.8 L460.6 83.4 L463.3 82 L466 80.6 L468.7 79.2 L471.5 77.8 L474.2 76.4 L476.9 75 L479.6 73.6 L482.3 72.2 L485.1 70.8 L487.8 69.4 L490.5 68 L493.3 66.5 L496 65.1 L498.7 63.7 M444.4 77.3 L447.1 78.3 L449.8 79.3 L452.5 80.3 L455.2 81.4 L457.9 82.4 L460.6 83.4 L463.3 84.4 L466 85.4 L468.7 86.4 L471.4 87.4 L474.1 88.4 L476.8 89.4 L479.5 90.4 L482.2 91.4 L484.9 92.4 L487.6 93.4 L490.3 94.3 L493 95.3 L495.7 96.3 L498.4 97.3 M447.1 92.6 L449.8 91.3 L452.5 89.9 L455.2 88.5 L457.9 87.2 L460.6 85.8 L463.3 84.4 L466 83 L468.7 81.6 L471.5 80.2 L474.2 78.8 L476.9 77.5 L479.6 76.1 L482.3 74.7 L485 73.3 L487.8 71.9 L490.5 70.5 L493.2 69.1 L496 67.7 L498.7 66.3 L501.4 64.9 M447.1 75.9 L449.8 76.9 L452.5 77.9 L455.2 78.9 L457.9 80 L460.6 81 L463.3 82 L466 83 L468.7 84 L471.4 85 L474.1 86.1 L476.8 87.1 L479.5 88.1 L482.2 89.1 L484.9 90.1 L487.6 91.1 L490.3 92.1 L493 93.1 L495.7 94.1 L498.4 95.1 L501.2 96.1 M449.8 93.6 L452.5 92.2 L455.2 90.9 L457.9 89.5 L460.6 88.1 L463.3 86.8 L466 85.4 L468.7 84 L471.4 82.7 L474.2 81.3 L476.9 79.9 L479.6 78.5 L482.3 77.1 L485 75.8 L487.8 74.4 L490.5 73 L493.2 71.6 L495.9 70.2 L498.7 68.9 L501.4 67.5 L504.1 66.1 M449.8 74.4 L452.5 75.4 L455.2 76.5 L457.9 77.5 L460.6 78.5 L463.3 79.6 L466 80.6 L468.7 81.6 L471.4 82.7 L474.1 83.7 L476.8 84.7 L479.5 85.7 L482.2 86.7 L485 87.8 L487.7 88.8 L490.4 89.8 L493.1 90.8 L495.8 91.9 L498.5 92.9 L501.2 93.9 L503.9 94.9 M452.5 94.6 L455.2 93.2 L457.9 91.8 L460.6 90.5 L463.3 89.1 L466 87.8 L468.7 86.4 L471.4 85 L474.1 83.7 L476.9 82.3 L479.6 80.9 L482.3 79.6 L485 78.2 L487.7 76.9 L490.5 75.5 L493.2 74.1 L495.9 72.8 L498.6 71.4 L501.4 70 L504.1 68.7 L506.8 67.3 M452.5 73 L455.2 74 L457.9 75 L460.6 76.1 L463.3 77.1 L466 78.2 L468.7 79.2 L471.5 80.2 L474.2 81.3 L476.9 82.3 L479.6 83.4 L482.3 84.4 L485 85.4 L487.7 86.5 L490.4 87.5 L493.1 88.5 L495.8 89.6 L498.5 90.6 L501.2 91.6 L503.9 92.7 L506.6 93.7 M455.2 95.5 L457.9 94.2 L460.6 92.8 L463.3 91.5 L466 90.1 L468.7 88.8 L471.4 87.4 L474.1 86.1 L476.8 84.7 L479.6 83.4 L482.3 82 L485 80.6 L487.7 79.3 L490.4 77.9 L493.2 76.6 L495.9 75.2 L498.6 73.9 L501.3 72.5 L504.1 71.2 L506.8 69.8 L509.5 68.5 M455.2 71.5 L457.9 72.5 L460.6 73.6 L463.3 74.6 L466.1 75.7 L468.8 76.7 L471.5 77.8 L474.2 78.8 L476.9 79.9 L479.6 80.9 L482.3 82 L485 83.1 L487.7 84.1 L490.4 85.2 L493.1 86.2 L495.8 87.3 L498.5 88.3 L501.2 89.4 L503.9 90.4 L506.6 91.5 L509.3 92.5 M457.9 96.4 L460.6 95.1 L463.3 93.8 L466 92.4 L468.7 91.1 L471.4 89.7 L474.1 88.4 L476.8 87.1 L479.5 85.7 L482.3 84.4 L485 83.1 L487.7 81.7 L490.4 80.4 L493.1 79 L495.9 77.7 L498.6 76.4 L501.3 75 L504 73.7 L506.8 72.4 L509.5 71 L512.2 69.7 M457.9 70 L460.7 71.1 L463.4 72.2 L466.1 73.2 L468.8 74.3 L471.5 75.3 L474.2 76.4 L476.9 77.5 L479.6 78.5 L482.3 79.6 L485 80.6 L487.7 81.7 L490.4 82.8 L493.1 83.8 L495.8 84.9 L498.5 86 L501.2 87 L503.9 88.1 L506.6 89.2 L509.3 90.2 L512 91.3 M460.6 97.4 L463.3 96 L466 94.7 L468.7 93.4 L471.4 92.1 L474.1 90.7 L476.8 89.4 L479.5 88.1 L482.2 86.7 L485 85.4 L487.7 84.1 L490.4 82.8 L493.1 81.5 L495.8 80.1 L498.6 78.8 L501.3 77.5 L504 76.2 L506.7 74.8 L509.5 73.5 L512.2 72.2 L514.9 70.9 M460.7 68.6 L463.4 69.6 L466.1 70.7 L468.8 71.8 L471.5 72.8 L474.2 73.9 L476.9 75 L479.6 76.1 L482.3 77.1 L485 78.2 L487.7 79.3 L490.4 80.4 L493.1 81.5 L495.8 82.5 L498.5 83.6 L501.2 84.7 L503.9 85.8 L506.6 86.9 L509.3 87.9 L512 89 L514.7 90.1 M463.3 98.3 L466 97 L468.7 95.6 L471.4 94.3 L474.1 93 L476.8 91.7 L479.5 90.4 L482.2 89.1 L485 87.8 L487.7 86.5 L490.4 85.2 L493.1 83.8 L495.8 82.5 L498.5 81.2 L501.3 79.9 L504 78.6 L506.7 77.3 L509.4 76 L512.2 74.7 L514.9 73.4 L517.6 72.1 M463.4 67.1 L466.1 68.2 L468.8 69.2 L471.5 70.3 L474.2 71.4 L476.9 72.5 L479.6 73.6 L482.3 74.7 L485 75.8 L487.7 76.9 L490.4 77.9 L493.1 79 L495.8 80.1 L498.5 81.2 L501.2 82.3 L503.9 83.4 L506.6 84.5 L509.3 85.6 L512 86.7 L514.7 87.8 L517.4 88.9 M466 99.2 L468.7 97.9 L471.4 96.6 L474.1 95.3 L476.8 94 L479.5 92.7 L482.2 91.4 L484.9 90.1 L487.7 88.8 L490.4 87.5 L493.1 86.2 L495.8 84.9 L498.5 83.6 L501.2 82.3 L504 81 L506.7 79.7 L509.4 78.4 L512.1 77.1 L514.8 75.9 L517.6 74.6 L520.3 73.3 M466.1 65.6 L468.8 66.7 L471.5 67.8 L474.2 68.9 L476.9 70 L479.6 71.1 L482.3 72.2 L485 73.3 L487.8 74.4 L490.5 75.5 L493.2 76.6 L495.9 77.7 L498.6 78.8 L501.3 79.9 L504 81 L506.7 82.1 L509.4 83.2 L512 84.3 L514.7 85.5 L517.4 86.6 L520.1 87.7 M468.7 100.1 L471.4 98.8 L474.1 97.5 L476.8 96.2 L479.5 94.9 L482.2 93.7 L484.9 92.4 L487.6 91.1 L490.4 89.8 L493.1 88.5 L495.8 87.3 L498.5 86 L501.2 84.7 L503.9 83.4 L506.7 82.1 L509.4 80.9 L512.1 79.6 L514.8 78.3 L517.5 77 L520.3 75.7 L523 74.5 M468.8 64.1 L471.5 65.2 L474.2 66.3 L476.9 67.4 L479.7 68.5 L482.4 69.7 L485.1 70.8 L487.8 71.9 L490.5 73 L493.2 74.1 L495.9 75.2 L498.6 76.4 L501.3 77.5 L504 78.6 L506.7 79.7 L509.4 80.9 L512.1 82 L514.8 83.1 L517.5 84.2 L520.2 85.3 L522.8 86.5 M471.4 101 L474.1 99.7 L476.8 98.4 L479.5 97.2 L482.2 95.9 L484.9 94.6 L487.6 93.4 L490.3 92.1 L493.1 90.8 L495.8 89.6 L498.5 88.3 L501.2 87 L503.9 85.8 L506.6 84.5 L509.4 83.2 L512.1 82 L514.8 80.7 L517.5 79.4 L520.2 78.2 L523 76.9 L525.7 75.7 M471.5 62.6 L474.2 63.7 L477 64.8 L479.7 66 L482.4 67.1 L485.1 68.2 L487.8 69.4 L490.5 70.5 L493.2 71.6 L495.9 72.8 L498.6 73.9 L501.3 75 L504 76.2 L506.7 77.3 L509.4 78.4 L512.1 79.6 L514.8 80.7 L517.5 81.8 L520.2 83 L522.9 84.1 L525.6 85.3 M474.1 101.8 L476.8 100.6 L479.5 99.3 L482.2 98.1 L484.9 96.8 L487.6 95.6 L490.3 94.3 L493 93.1 L495.8 91.9 L498.5 90.6 L501.2 89.4 L503.9 88.1 L506.6 86.9 L509.3 85.6 L512 84.3 L514.8 83.1 L517.5 81.8 L520.2 80.6 L522.9 79.3 L525.6 78.1 L528.4 76.8 M474.3 61.1 L477 62.2 L479.7 63.4 L482.4 64.5 L485.1 65.7 L487.8 66.8 L490.5 68 L493.2 69.1 L495.9 70.2 L498.6 71.4 L501.3 72.5 L504 73.7 L506.7 74.8 L509.4 76 L512.1 77.1 L514.8 78.3 L517.5 79.4 L520.2 80.6 L522.9 81.7 L525.6 82.9 L528.3 84 M476.8 102.7 L479.5 101.5 L482.2 100.2 L484.9 99 L487.6 97.8 L490.3 96.6 L493 95.3 L495.7 94.1 L498.5 92.9 L501.2 91.6 L503.9 90.4 L506.6 89.2 L509.3 87.9 L512 86.7 L514.7 85.5 L517.5 84.2 L520.2 83 L522.9 81.7 L525.6 80.5 L528.3 79.3 L531.1 78 M477 59.6 L479.7 60.7 L482.4 61.9 L485.1 63 L487.8 64.2 L490.5 65.4 L493.3 66.5 L496 67.7 L498.7 68.9 L501.4 70 L504.1 71.2 L506.8 72.4 L509.5 73.5 L512.2 74.7 L514.8 75.9 L517.5 77 L520.2 78.2 L522.9 79.3 L525.6 80.5 L528.3 81.7 L531 82.8 M479.5 103.6 L482.2 102.4 L484.9 101.1 L487.6 99.9 L490.3 98.7 L493 97.5 L495.7 96.3 L498.4 95.1 L501.2 93.9 L503.9 92.7 L506.6 91.5 L509.3 90.2 L512 89 L514.7 87.8 L517.4 86.6 L520.2 85.3 L522.9 84.1 L525.6 82.9 L528.3 81.7 L531 80.4 L533.7 79.2 M479.7 58 L482.4 59.2 L485.2 60.4 L487.9 61.6 L490.6 62.8 L493.3 63.9 L496 65.1 L498.7 66.3 L501.4 67.5 L504.1 68.7 L506.8 69.8 L509.5 71 L512.2 72.2 L514.9 73.4 L517.6 74.6 L520.3 75.7 L523 76.9 L525.6 78.1 L528.3 79.3 L531 80.4 L533.7 81.6 M482.2 104.4 L484.9 103.2 L487.6 102 L490.3 100.9 L493 99.7 L495.7 98.5 L498.4 97.3 L501.2 96.1 L503.9 94.9 L506.6 93.7 L509.3 92.5 L512 91.3 L514.7 90.1 L517.4 88.9 L520.1 87.7 L522.8 86.5 L525.6 85.3 L528.3 84 L531 82.8 L533.7 81.6 L536.4 80.4 M482.5 56.5 L485.2 57.7 L487.9 58.9 L490.6 60.1 L493.3 61.3 L496 62.5 L498.7 63.7 L501.4 64.9 L504.1 66.1 L506.8 67.3 L509.5 68.5 L512.2 69.7 L514.9 70.9 L517.6 72.1 L520.3 73.3 L523 74.5 L525.7 75.7 L528.4 76.8 L531.1 78 L533.7 79.2 L536.4 80.4" fill="none" stroke="#000" stroke-opacity="0.5" stroke-width=".4"/>
<rect x="477.5" y="45.9" width="8" height="3.6" fill="#f4f4f4" stroke="#999" stroke-width=".3"/><text x="481.5" y="48.7" font-size="3" fill="#888" text-anchor="middle">67.5</text><path d="M485.0 49.5 V100.0" stroke="#444" stroke-width=".4"/>
<g font-size="5.4" font-weight="bold" fill="#111"><text x="424.1" y="45.3" text-anchor="end">80</text><text x="424.6" y="60.2" text-anchor="end">70</text><text x="425.1" y="75" text-anchor="end">60</text><text x="425.7" y="89.9" text-anchor="end">50</text><text x="426.2" y="104.7" text-anchor="end">40</text><text x="424.2" y="122.8" text-anchor="middle">50</text><text x="438.5" y="129.7" text-anchor="middle">40</text><text x="448.7" y="135.2" text-anchor="middle">30</text><text x="459.1" y="140.1" text-anchor="middle">20</text><text x="470" y="145.9" text-anchor="middle">10</text><text x="479.1" y="151" text-anchor="middle">0</text><text x="485.5" y="151" text-anchor="middle">30</text><text x="494.5" y="145.7" text-anchor="middle">36</text><text x="504.5" y="140.6" text-anchor="middle">42</text><text x="514.5" y="135.5" text-anchor="middle">48</text><text x="524.5" y="130.1" text-anchor="middle">54</text><text x="535.1" y="124.6" text-anchor="middle">60</text></g>
<text x="437.1" y="148.5" font-size="5.6" font-weight="bold" fill="#111" text-anchor="middle" textLength="49.4" lengthAdjust="spacingAndGlyphs">A: Solvent ratio <tspan font-weight="normal">(% <tspan font-style="italic">v</tspan>/<tspan font-style="italic">v</tspan>)</tspan></text>
<text x="527.5" y="148.5" font-size="5.6" font-weight="bold" fill="#111" text-anchor="middle" textLength="35.9" lengthAdjust="spacingAndGlyphs">D: Time (minute)</text>
<text x="411" y="92" font-size="5.6" font-weight="bold" fill="#111" text-anchor="middle" textLength="52" lengthAdjust="spacingAndGlyphs" transform="rotate(-90 411 92)">TFC <tspan font-weight="normal">(mg QE/g extract)</tspan></text>
<text x="394.3" y="10.6" font-size="10.6" font-weight="bold" fill="#000">(i)</text></g>
<g><path d="M38.6 295.5 L94.6 322.7 L151.4 295.5 L94.8 274.9 Z" fill="#5b5b5b"/>
<path d="M140.8 291.6 L138.3 292.3 L137 292.6 L134.6 293.3 L133.5 293.6 L131.2 294.3 L129 295.1 L127.3 295.6 L125.7 296.2 L123.6 297 L121.6 297.7 L119.6 298.6 L117.6 299.4 L115.7 300.2 L113.8 301.1 L111.9 301.9 L110.1 302.8 L108.3 303.7 L106.5 304.6 L104.8 305.5 L103.1 306.4 L101.7 307.2 L100.6 307.9 L98.9 308.8 L97.3 309.8 L95.8 310.8 L94.9 311.3 L93.3 312.3 L91.8 313.3 L91 313.9 L89.5 314.9 L88.1 316 L87.3 316.5 L85.9 317.6 L85.2 318.1" fill="none" stroke="#00c3e1" stroke-width="1.1"/>
<path d="M124.9 285.8 L122.8 286.6 L120.8 287.3 L118.8 288.1 L116.9 288.9 L115 289.7 L113.1 290.5 L111.2 291.3 L109.4 292.1 L107.6 292.9 L105.8 293.8 L104 294.6 L102.3 295.5 L101.2 296.1 L99.7 296.8 L98 297.7 L96.3 298.6 L94.7 299.5 L93.8 300 L92.3 300.9 L90.7 301.8 L89.1 302.8 L88.3 303.2 L86.8 304.2 L85.2 305.2 L84.5 305.7 L83 306.7 L81.5 307.7 L80.8 308.2 L79.3 309.2 L78 310.1 L77.2 310.8 L75.8 311.8 L75.1 312.4 L74.4 312.9" fill="none" stroke="#00c887" stroke-width="1.1"/>
<path d="M112.3 281.3 L110.4 282 L108.6 282.8 L106.8 283.6 L105 284.4 L103.2 285.2 L101.4 286 L100.6 286.4 L98.8 287.2 L97.1 288 L95.4 288.8 L93.7 289.7 L92.1 290.5 L91.2 290.9 L89.6 291.8 L88 292.7 L86.3 293.5 L85.5 294 L84 294.9 L82.4 295.8 L81.2 296.5 L80.1 297.1 L78.5 298.1 L77.1 298.9 L76.3 299.5 L74.8 300.4 L73.6 301.2 L72.6 301.9 L71.1 302.8 L70.4 303.3 L69 304.3 L67.7 305.3 L66.9 305.9 L65.5 306.9 L64.8 307.4 L64.2 307.9" fill="none" stroke="#50d228" stroke-width="1.1"/>
<path d="M101.5 277.3 L99.7 278.1 L98 278.9 L96.2 279.6 L94.5 280.4 L92.8 281.2 L91.4 281.8 L90.3 282.3 L88.6 283.1 L86.9 283.9 L85.3 284.8 L84 285.4 L82.8 286 L81.2 286.8 L79.6 287.6 L78.2 288.4 L77.2 288.9 L75.6 289.8 L74.1 290.6 L73.3 291 L71.8 291.9 L70.2 292.8 L69.3 293.4 L68 294.1 L66.5 295.1 L65.6 295.6 L64.3 296.4 L62.8 297.4 L62.1 297.8 L60.6 298.8 L59.4 299.6 L58.5 300.2 L57.1 301.2 L56.4 301.7 L55.1 302.7 L54.4 303.2" fill="none" stroke="#b9d700" stroke-width="1.1"/>
<path d="M69.9 284 L68.8 284.6 L67.2 285.4 L65.6 286.2 L64.9 286.6 L63.3 287.5 L61.8 288.3 L60.7 288.9 L59.5 289.6 L58 290.5 L56.8 291.1 L55.7 291.8 L54.3 292.6 L53.4 293.2 L52.1 294 L50.6 294.9 L49.9 295.3 L48.5 296.3 L47.3 297 L46.4 297.7 L45 298.6 L45 298.6" fill="none" stroke="#ebcd1e" stroke-width="1.1"/>
<path d="M37.7 277.3 L34.7 218.6 M49.1 273.5 L46.8 216 M106.3 262.2 L107 208.1 M60.5 269.8 L58.8 213.4 M117.8 266 L118.9 210.6 M72 266 L70.9 210.7 M129.3 269.7 L130.9 213.2 M83.4 262.2 L82.9 208.1 M140.7 273.5 L142.8 215.7 M94.8 258.5 L95 205.5 M152.2 277.2 L154.8 218.3 M34.7 218.6 L95 205.5 L154.8 218.3 M35.2 228.4 L95 214.3 L154.4 228.1 M35.7 238.2 L94.9 223.2 L153.9 237.9 M36.2 247.9 L94.9 232 L153.5 247.8 M36.7 257.7 L94.9 240.8 L153.1 257.6 M37.2 267.5 L94.9 249.6 L152.6 267.4 M37.7 277.3 L94.8 258.5 L152.2 277.2" fill="none" stroke="#505050" stroke-width=".5"/>
<path d="M38.6 295.5 L34.7 218.6" stroke="#666" stroke-width=".5"/>
<path d="M151.4 295.5 L152.2 277.2" stroke="#777" stroke-width=".4"/>
<path d="M33.8 218.6 h1.6 M34.3 228.4 h1.6 M34.8 238.2 h1.6 M35.3 247.9 h1.6 M35.8 257.7 h1.6 M36.3 267.5 h1.6 M36.8 277.3 h1.6" stroke="#111" stroke-width=".8"/>
<g stroke-width=".35" stroke-linejoin="round">
<path d="M92 218.9l2.9 2.8l3-.6l-2.9-2.8zM89 219.4l3 2.9l2.9-.6l-2.9-2.8zM86 219.9l3 2.9l3-.5l-3-2.9zM68.1 226l3.1 3.1l2.9-.4l-3-3.1zM65.2 226.3l3 3.2l3-.4l-3.1-3.1zM53.2 230.9l3.1 3.3l3-.3l-3.1-3.2zM44.3 234.8l3.1 3.4l2.9-.2l-3-3.3z" fill="#ffd800" stroke="#ffd800"/>
<path d="M94.9 221.7l3 2.8l3-.6l-3-2.8zM92 222.3l2.9 2.8l3-.6l-3-2.8zM74.1 228.7l3 3.1l3-.5l-3-3zM71.2 229.1l3 3.1l2.9-.4l-3-3.1zM59.3 233.9l3 3.3l3-.3l-3.1-3.3zM50.3 238l3.1 3.4l3-.2l-3.1-3.3z" fill="#f7ff00" stroke="#f7ff00"/>
<path d="M97.9 224.5l2.9 2.8l3-.7l-2.9-2.7zM94.9 225.1l3 2.9l2.9-.7l-2.9-2.8zM92 225.7l2.9 2.9l3-.6l-3-2.9zM89 226.3l2.9 2.9l3-.6l-2.9-2.9zM74.2 232.2l2.9 3.1l3-.4l-3-3.1zM71.2 232.6l3 3.2l2.9-.5l-2.9-3.1zM59.3 237.4l3 3.3l3-.3l-3-3.2zM50.4 241.5l3 3.4l3-.2l-3-3.3z" fill="#d1ff00" stroke="#d1ff00"/>
<path d="M83 220.4l3 3l3-.6l-3-2.9zM80.1 220.8l2.9 3.1l3-.5l-3-3zM77.1 221.3l3 3l2.9-.4l-2.9-3.1zM62.2 226.6l3 3.2l3-.3l-3-3.2zM50.2 231.1l3.1 3.3l3-.2l-3.1-3.3z" fill="#ffcc00" stroke="#ffcc00"/>
<path d="M89 222.8l3 2.9l2.9-.6l-2.9-2.8zM86 223.4l3 2.9l3-.6l-3-2.9zM83 223.9l3 2.9l3-.5l-3-2.9zM68.2 229.5l3 3.1l3-.4l-3-3.1zM65.2 229.8l3 3.2l3-.4l-3-3.1zM56.3 234.2l3 3.2l3-.2l-3-3.3zM53.3 234.4l3 3.3l3-.3l-3-3.2zM47.4 238.2l3 3.3l3-.1l-3.1-3.4z" fill="#fffa00" stroke="#fffa00"/>
<path d="M100.8 227.3l3 2.8l2.9-.8l-2.9-2.7zM80.1 234.9l3 3l2.9-.5l-2.9-3zM77.1 235.3l3 3.1l3-.5l-3-3zM65.3 240.4l3 3.2l3-.3l-3-3.2zM56.4 244.7l3 3.3l3-.2l-3-3.3z" fill="#9fff00" stroke="#9fff00"/>
<path d="M97.9 228l2.9 2.8l3-.7l-3-2.8zM94.9 228.6l2.9 2.8l3-.6l-2.9-2.8zM91.9 229.2l3 2.9l2.9-.7l-2.9-2.8zM89 229.8l2.9 2.9l3-.6l-3-2.9zM74.2 235.8l3 3.1l2.9-.5l-3-3.1zM71.2 236.2l3 3.1l3-.4l-3-3.1zM62.3 240.7l3 3.3l3-.4l-3-3.2zM59.4 241l3 3.2l2.9-.2l-3-3.3zM53.4 244.9l3.1 3.3l2.9-.2l-3-3.3z" fill="#abff00" stroke="#abff00"/>
<path d="M103.8 230.1l2.9 2.7l2.9-.8l-2.9-2.7zM100.8 230.8l2.9 2.7l3-.7l-2.9-2.7zM97.8 231.4l3 2.8l2.9-.7l-2.9-2.7zM80.1 238.4l3 3l2.9-.5l-2.9-3zM77.2 238.9l2.9 3.1l3-.6l-3-3zM65.3 244l3 3.2l3-.4l-3-3.2zM56.5 248.2l3 3.4l2.9-.2l-3-3.4z" fill="#79ff00" stroke="#79ff00"/>
<path d="M106.7 232.8l2.9 2.6l2.9-.8l-2.9-2.6zM103.7 233.5l2.9 2.7l3-.8l-2.9-2.6zM100.8 234.2l2.9 2.8l2.9-.8l-2.9-2.7zM80.1 242l3 3l2.9-.5l-2.9-3.1zM77.2 242.4l2.9 3.1l3-.5l-3-3zM68.3 247.2l3 3.2l3-.4l-3-3.2zM65.4 247.5l3 3.3l2.9-.4l-3-3.2zM59.5 251.6l3 3.3l2.9-.2l-3-3.3z" fill="#52ff00" stroke="#52ff00"/>
<path d="M74.1 221.7l3 3.1l3-.5l-3-3zM71.1 222.1l3 3.1l3-.4l-3-3.1zM59.2 226.9l3 3.2l3-.3l-3-3.2zM56.2 227.2l3 3.2l3-.3l-3-3.2zM47.2 231.2l3.1 3.4l3-.2l-3.1-3.3z" fill="#ffc100" stroke="#ffc100"/>
<path d="M80.1 224.3l3 3l2.9-.5l-3-2.9zM77.1 224.8l3 3l3-.5l-3-3zM62.2 230.1l3 3.2l3-.3l-3-3.2zM50.3 234.6l3 3.3l3-.2l-3-3.3z" fill="#ffef00" stroke="#ffef00"/>
<path d="M86 226.8l3 3l2.9-.6l-2.9-2.9zM83.1 227.3l2.9 3l3-.5l-3-3zM68.2 233l3 3.2l3-.4l-3-3.2zM65.2 233.3l3 3.2l3-.3l-3-3.2zM56.3 237.7l3.1 3.3l2.9-.3l-3-3.3z" fill="#deff00" stroke="#deff00"/>
<path d="M109.6 235.4l2.9 2.6l2.9-.9l-2.9-2.5zM106.6 236.2l3 2.7l2.9-.9l-2.9-2.6zM103.7 237l2.9 2.7l3-.8l-3-2.7zM100.8 237.7l2.9 2.8l2.9-.8l-2.9-2.7zM83.1 245l2.9 3.1l3-.6l-3-3zM80.1 245.5l3 3.1l2.9-.5l-2.9-3.1zM68.4 250.8l2.9 3.2l3-.3l-3-3.3z" fill="#2cff00" stroke="#2cff00"/>
<path d="M94.9 232.1l2.9 2.8l3-.7l-3-2.8zM91.9 232.7l3 2.9l2.9-.7l-2.9-2.8zM89 233.3l2.9 2.9l3-.6l-3-2.9zM74.2 239.3l3 3.1l2.9-.4l-2.9-3.1zM71.2 239.7l3 3.2l3-.5l-3-3.1zM62.4 244.2l3 3.3l2.9-.3l-3-3.2z" fill="#85ff00" stroke="#85ff00"/>
<path d="M112.5 238l2.9 2.6l2.9-1l-2.9-2.5zM109.6 238.9l2.9 2.6l2.9-.9l-2.9-2.6zM106.6 239.7l2.9 2.7l3-.9l-2.9-2.6zM103.7 240.5l2.9 2.7l2.9-.8l-2.9-2.7zM83.1 248.6l2.9 3.1l3-.6l-3-3zM80.2 249.1l2.9 3.1l2.9-.5l-2.9-3.1zM71.3 254l3 3.3l2.9-.4l-2.9-3.2z" fill="#06ff00" stroke="#06ff00"/>
<path d="M68.1 222.5l3 3.1l3-.4l-3-3.1zM65.1 222.8l3 3.2l3-.4l-3-3.1zM53.2 227.4l3 3.3l3-.3l-3-3.2zM44.2 231.4l3.1 3.3l3-.1l-3.1-3.4z" fill="#ffb500" stroke="#ffb500"/>
<path d="M74.1 225.2l3 3.1l3-.5l-3-3zM71.1 225.6l3 3.1l3-.4l-3-3.1zM59.2 230.4l3 3.2l3-.3l-3-3.2zM56.2 230.7l3.1 3.2l2.9-.3l-3-3.2zM47.3 234.7l3 3.3l3-.1l-3-3.3z" fill="#ffe300" stroke="#ffe300"/>
<path d="M80.1 227.8l3 3l2.9-.5l-2.9-3zM77.1 228.3l3 3l3-.5l-3-3zM62.2 233.6l3.1 3.3l2.9-.4l-3-3.2zM53.3 237.9l3.1 3.3l3-.2l-3.1-3.3z" fill="#ebff00" stroke="#ebff00"/>
<path d="M86 230.3l3 3l2.9-.6l-2.9-2.9zM83.1 230.8l2.9 3l3-.5l-3-3zM68.2 236.5l3 3.2l3-.4l-3-3.1zM56.4 241.2l3 3.3l3-.3l-3-3.2z" fill="#b8ff00" stroke="#b8ff00"/>
<path d="M97.8 234.9l3 2.8l2.9-.7l-2.9-2.8zM94.9 235.6l2.9 2.8l3-.7l-3-2.8zM91.9 236.2l3 2.9l2.9-.7l-2.9-2.8zM89 236.8l2.9 2.9l3-.6l-3-2.9zM74.2 242.9l3 3.1l2.9-.5l-2.9-3.1zM62.4 247.8l3 3.3l3-.3l-3-3.3z" fill="#5fff00" stroke="#5fff00"/>
<path d="M115.4 240.6l2.9 2.5l2.9-1l-2.9-2.5zM112.5 241.5l2.9 2.6l2.9-1l-2.9-2.5zM109.5 242.4l2.9 2.6l3-.9l-2.9-2.6zM106.6 243.2l2.9 2.7l2.9-.9l-2.9-2.6zM86 251.7l3 3l2.9-.6l-2.9-3zM83.1 252.2l2.9 3.1l3-.6l-3-3zM74.3 257.3l3 3.2l2.9-.4l-3-3.2zM71.4 257.7l2.9 3.3l3-.5l-3-3.2z" fill="#00ff21" stroke="#00ff21"/>
<path d="M118.3 243.1l2.9 2.5l2.9-1.1l-2.9-2.4zM115.4 244.1l2.8 2.5l3-1l-2.9-2.5zM112.4 245l2.9 2.6l2.9-1l-2.8-2.5zM109.5 245.9l2.9 2.6l2.9-.9l-2.9-2.6zM106.6 246.7l2.9 2.7l2.9-.9l-2.9-2.6zM103.6 247.5l2.9 2.8l3-.9l-2.9-2.7zM100.7 248.3l2.9 2.8l2.9-.8l-2.9-2.8zM97.8 249.1l2.9 2.8l2.9-.8l-2.9-2.8zM94.8 249.8l3 2.9l2.9-.8l-2.9-2.8zM83.1 255.9l2.9 3.1l3-.6l-3-3.1zM80.2 256.4l2.9 3.2l2.9-.6l-2.9-3.1zM71.4 261.3l2.9 3.3l3-.4l-3-3.2z" fill="#00ff3b" stroke="#00ff3b"/>
<path d="M62.1 223.1l3.1 3.2l2.9-.3l-3-3.2zM50.2 227.6l3 3.3l3-.2l-3-3.3zM41.2 231.5l3.1 3.3l3-.1l-3.1-3.3z" fill="#ffaa00" stroke="#ffaa00"/>
<path d="M80.1 231.3l3 3.1l2.9-.6l-2.9-3zM77.1 231.8l3 3.1l3-.5l-3-3.1zM65.3 236.9l3 3.2l2.9-.4l-3-3.2zM62.3 237.2l3 3.2l3-.3l-3-3.2zM53.4 241.4l3 3.3l3-.2l-3-3.3z" fill="#c5ff00" stroke="#c5ff00"/>
<path d="M86 233.8l3 3l2.9-.6l-2.9-2.9zM83.1 234.4l2.9 3l3-.6l-3-3zM68.3 240.1l3 3.2l2.9-.4l-3-3.2zM59.4 244.5l3 3.3l3-.3l-3-3.3z" fill="#92ff00" stroke="#92ff00"/>
<path d="M97.8 238.4l2.9 2.8l3-.7l-2.9-2.8zM94.9 239.1l2.9 2.8l2.9-.7l-2.9-2.8zM91.9 239.7l3 2.9l2.9-.7l-2.9-2.8zM77.2 246l3 3.1l2.9-.5l-3-3.1zM74.2 246.4l3 3.2l3-.5l-3-3.1zM65.4 251.1l3 3.3l2.9-.4l-2.9-3.2z" fill="#39ff00" stroke="#39ff00"/>
<path d="M121.2 245.6l2.9 2.4l2.9-1.1l-2.9-2.4zM118.2 246.6l2.9 2.5l3-1.1l-2.9-2.4zM115.3 247.6l2.9 2.5l2.9-1l-2.9-2.5zM112.4 248.5l2.9 2.6l2.9-1l-2.9-2.5zM109.5 249.4l2.9 2.7l2.9-1l-2.9-2.6zM106.5 250.3l2.9 2.7l3-.9l-2.9-2.7zM103.6 251.1l2.9 2.8l2.9-.9l-2.9-2.7zM100.7 251.9l2.9 2.9l2.9-.9l-2.9-2.8zM83.1 259.6l2.9 3.1l3-.6l-3-3.1zM74.3 264.6l3 3.4l2.9-.5l-2.9-3.3zM71.4 265l2.9 3.4l3-.4l-3-3.4z" fill="#00ff62" stroke="#00ff62"/>
<path d="M59.1 223.4l3.1 3.2l3-.3l-3.1-3.2zM56.1 223.7l3.1 3.2l3-.3l-3.1-3.2zM47.2 227.8l3 3.3l3-.2l-3-3.3z" fill="#ff9f00" stroke="#ff9f00"/>
<path d="M100.7 241.2l3 2.8l2.9-.8l-2.9-2.7zM97.8 241.9l2.9 2.9l3-.8l-3-2.8zM94.9 242.6l2.9 2.9l2.9-.7l-2.9-2.9zM91.9 243.3l3 2.9l2.9-.7l-2.9-2.9zM77.2 249.6l3 3.2l2.9-.6l-2.9-3.1zM68.4 254.4l3 3.3l2.9-.4l-3-3.3zM65.4 254.7l3 3.3l3-.3l-3-3.3z" fill="#13ff00" stroke="#13ff00"/>
<path d="M124.1 248l2.8 2.3l3-1.1l-2.9-2.3zM121.1 249.1l2.9 2.4l2.9-1.2l-2.8-2.3zM100.7 255.6l2.9 2.8l2.9-.9l-2.9-2.7zM97.7 256.3l3 2.9l2.9-.8l-2.9-2.8zM94.8 257.1l2.9 2.9l3-.8l-3-2.9zM83.1 263.3l2.9 3.1l3-.6l-3-3.1zM80.2 263.8l2.9 3.2l2.9-.6l-2.9-3.1z" fill="#00ff7c" stroke="#00ff7c"/>
<path d="M86 237.4l3 2.9l2.9-.6l-2.9-2.9zM83.1 237.9l2.9 3l3-.6l-3-2.9zM71.3 243.3l2.9 3.1l3-.4l-3-3.1zM68.3 243.6l3 3.2l2.9-.4l-2.9-3.1zM59.4 248l3 3.4l3-.3l-3-3.3z" fill="#6cff00" stroke="#6cff00"/>
<path d="M103.7 244l2.9 2.7l2.9-.8l-2.9-2.7zM100.7 244.8l2.9 2.7l3-.8l-2.9-2.7zM97.8 245.5l2.9 2.8l2.9-.8l-2.9-2.7zM94.9 246.2l2.9 2.9l2.9-.8l-2.9-2.8zM80.2 252.8l2.9 3.1l2.9-.6l-2.9-3.1zM77.2 253.2l3 3.2l2.9-.5l-2.9-3.1zM68.4 258l3 3.3l2.9-.3l-2.9-3.3z" fill="#00ff14" stroke="#00ff14"/>
<path d="M126.9 250.3l2.9 2.3l2.9-1.2l-2.8-2.2zM124 251.5l2.9 2.4l2.9-1.3l-2.9-2.3zM121.1 252.6l2.9 2.4l2.9-1.1l-2.9-2.4zM118.2 253.7l2.8 2.5l3-1.2l-2.9-2.4zM115.2 254.7l2.9 2.6l2.9-1.1l-2.8-2.5zM112.3 255.7l2.9 2.6l2.9-1l-2.9-2.6zM109.4 256.6l2.9 2.7l2.9-1l-2.9-2.6zM106.5 257.5l2.9 2.8l2.9-1l-2.9-2.7zM103.6 258.4l2.9 2.8l2.9-.9l-2.9-2.8zM100.7 259.2l2.9 2.9l2.9-.9l-2.9-2.8zM97.7 260l2.9 2.9l3-.8l-2.9-2.9zM86 266.4l3 3.2l2.9-.7l-2.9-3.1zM83.1 267l2.9 3.2l3-.6l-3-3.2z" fill="#00ffa3" stroke="#00ffa3"/>
<path d="M53.1 223.9l3.1 3.3l3-.3l-3.1-3.2zM44.2 227.9l3 3.3l3-.1l-3-3.3z" fill="#ff9300" stroke="#ff9300"/>
<path d="M89 240.3l2.9 3l3-.7l-3-2.9zM86 240.9l3 3l2.9-.6l-2.9-3zM83.1 241.4l2.9 3.1l3-.6l-3-3zM71.3 246.8l3 3.2l2.9-.4l-3-3.2zM62.4 251.4l3 3.3l3-.3l-3-3.3z" fill="#46ff00" stroke="#46ff00"/>
<path d="M118.2 250.1l2.9 2.5l2.9-1.1l-2.9-2.4zM115.3 251.1l2.9 2.6l2.9-1.1l-2.9-2.5zM112.4 252.1l2.8 2.6l3-1l-2.9-2.6zM109.4 253l2.9 2.7l2.9-1l-2.8-2.6zM106.5 253.9l2.9 2.7l2.9-.9l-2.9-2.7zM103.6 254.8l2.9 2.7l2.9-.9l-2.9-2.7zM86 262.7l3 3.1l2.9-.6l-2.9-3.1zM77.3 268l2.9 3.3l2.9-.5l-2.9-3.3zM74.3 268.4l3 3.3l2.9-.4l-2.9-3.3z" fill="#00ff89" stroke="#00ff89"/>
<path d="M129.8 252.6l2.9 2.3l2.9-1.3l-2.9-2.2zM126.9 253.9l2.8 2.3l3-1.3l-2.9-2.3zM124 255l2.8 2.4l2.9-1.2l-2.8-2.3zM97.7 263.7l2.9 3l2.9-.9l-2.9-2.9zM94.8 264.5l2.9 3l2.9-.8l-2.9-3zM91.9 265.2l2.9 3l2.9-.7l-2.9-3zM83.1 270.8l2.9 3.2l3-.6l-3-3.2zM80.2 271.3l2.9 3.3l2.9-.6l-2.9-3.2z" fill="#00ffbe" stroke="#00ffbe"/>
<path d="M50.1 224.1l3.1 3.3l3-.2l-3.1-3.3zM41.1 228.1l3.1 3.3l3-.2l-3-3.3zM38.1 228.1l3.1 3.4l3-.1l-3.1-3.3z" fill="#ff8800" stroke="#ff8800"/>
<path d="M132.7 254.9l2.8 2.2l2.9-1.4l-2.8-2.1zM129.7 256.2l2.9 2.3l2.9-1.4l-2.8-2.2zM94.8 268.2l2.9 3.1l2.9-.8l-2.9-3zM91.9 268.9l2.9 3.1l2.9-.7l-2.9-3.1zM80.2 275l2.9 3.4l2.9-.6l-2.9-3.2z" fill="#00ffd8" stroke="#00ffd8"/>
<path d="M47.1 224.3l3.1 3.3l3-.2l-3.1-3.3zM44.1 224.5l3.1 3.3l3-.2l-3.1-3.3z" fill="#ff7c00" stroke="#ff7c00"/>
<path d="M89 243.9l2.9 3l3-.7l-3-2.9zM86 244.5l3 3l2.9-.6l-2.9-3zM74.3 250l2.9 3.2l3-.4l-3-3.2zM71.3 250.4l3 3.3l2.9-.5l-2.9-3.2zM62.5 254.9l3 3.4l2.9-.3l-3-3.3z" fill="#20ff00" stroke="#20ff00"/>
<path d="M135.5 257.1l2.9 2.2l2.9-1.5l-2.9-2.1zM132.6 258.5l2.9 2.2l2.9-1.4l-2.9-2.2zM115.2 262l2.8 2.6l3-1.1l-2.9-2.6zM112.3 263l2.8 2.7l2.9-1.1l-2.8-2.6zM109.3 264l2.9 2.8l2.9-1.1l-2.8-2.7zM91.9 272.8l2.9 3.1l2.9-.8l-2.9-3.1zM89 273.4l2.9 3.2l2.9-.7l-2.9-3.1z" fill="#00fff2" stroke="#00fff2"/>
<path d="M91.9 246.9l2.9 2.9l3-.7l-2.9-2.9zM89 247.5l2.9 3l2.9-.7l-2.9-2.9zM86 248.1l3 3l2.9-.6l-2.9-3zM74.3 253.7l2.9 3.2l3-.5l-3-3.2zM65.5 258.3l2.9 3.4l3-.4l-3-3.3z" fill="#00ff07" stroke="#00ff07"/>
<path d="M121 256.2l2.9 2.4l2.9-1.2l-2.8-2.4zM118.1 257.3l2.9 2.5l2.9-1.2l-2.9-2.4zM115.2 258.3l2.9 2.6l2.9-1.1l-2.9-2.5zM112.3 259.3l2.9 2.7l2.9-1.1l-2.9-2.6zM109.4 260.3l2.9 2.7l2.9-1l-2.9-2.7zM106.5 261.2l2.8 2.8l3-1l-2.9-2.7zM103.6 262.1l2.8 2.8l2.9-.9l-2.8-2.8zM100.6 262.9l2.9 2.9l2.9-.9l-2.8-2.8zM89 269.6l2.9 3.2l2.9-.8l-2.9-3.1zM86 270.2l3 3.2l2.9-.6l-2.9-3.2z" fill="#00ffcb" stroke="#00ffcb"/>
<path d="M126.8 257.4l2.9 2.4l2.9-1.3l-2.9-2.3zM123.9 258.6l2.9 2.4l2.9-1.2l-2.9-2.4zM121 259.8l2.9 2.5l2.9-1.3l-2.9-2.4zM118.1 260.9l2.9 2.6l2.9-1.2l-2.9-2.5zM106.4 264.9l2.9 2.9l2.9-1l-2.9-2.8zM103.5 265.8l2.9 2.9l2.9-.9l-2.9-2.9zM100.6 266.7l2.9 2.9l2.9-.9l-2.9-2.9zM97.7 267.5l2.9 3l2.9-.9l-2.9-2.9zM86 274l2.9 3.2l3-.6l-2.9-3.2zM83.1 274.6l2.9 3.2l2.9-.6l-2.9-3.2z" fill="#00ffe5" stroke="#00ffe5"/>
<path d="M138.4 259.3l2.8 2.1l3-1.6l-2.9-2zM135.5 260.7l2.8 2.2l2.9-1.5l-2.8-2.1zM123.9 262.3l2.8 2.4l2.9-1.3l-2.8-2.4zM121 263.5l2.8 2.5l2.9-1.3l-2.8-2.4zM118 264.6l2.9 2.6l2.9-1.2l-2.8-2.5zM115.1 265.7l2.9 2.6l2.9-1.1l-2.9-2.6zM112.2 266.8l2.9 2.7l2.9-1.2l-2.9-2.6zM109.3 267.8l2.9 2.7l2.9-1l-2.9-2.7zM106.4 268.7l2.9 2.8l2.9-1l-2.9-2.7zM103.5 269.6l2.9 2.9l2.9-1l-2.9-2.8zM100.6 270.5l2.9 2.9l2.9-.9l-2.9-2.9zM88.9 277.2l2.9 3.3l2.9-.7l-2.8-3.2zM86 277.8l2.9 3.3l2.9-.6l-2.9-3.3z" fill="#00f1ff" stroke="#00f1ff"/>
<path d="M41.1 224.6l3.1 3.3l3-.1l-3.1-3.3z" fill="#ff7100" stroke="#ff7100"/>
<path d="M129.7 259.8l2.8 2.3l3-1.4l-2.9-2.2zM126.8 261l2.8 2.4l2.9-1.3l-2.8-2.3zM97.7 271.3l2.9 3l2.9-.9l-2.9-2.9zM94.8 272l2.9 3.1l2.9-.8l-2.9-3zM83.1 278.4l2.9 3.3l2.9-.6l-2.9-3.3z" fill="#00ffff" stroke="#00ffff"/>
<path d="M141.2 261.4l2.9 2l2.9-1.6l-2.8-2zM138.3 262.9l2.9 2.1l2.9-1.6l-2.9-2zM126.7 264.7l2.9 2.4l2.9-1.4l-2.9-2.3zM123.8 266l2.9 2.4l2.9-1.3l-2.9-2.4zM120.9 267.2l2.9 2.5l2.9-1.3l-2.9-2.4zM118 268.3l2.9 2.7l2.9-1.3l-2.9-2.5zM106.4 272.5l2.9 2.9l2.9-1l-2.9-2.9zM103.5 273.4l2.9 3l2.9-1l-2.9-2.9zM100.6 274.3l2.8 3l3-.9l-2.9-3zM97.7 275.1l2.8 3.1l2.9-.9l-2.8-3zM86 281.7l2.9 3.4l2.9-.7l-2.9-3.3z" fill="#00d6ff" stroke="#00d6ff"/>
<path d="M38 224.7l3.1 3.4l3.1-.2l-3.1-3.3z" fill="#ff6500" stroke="#ff6500"/>
<path d="M91.9 250.5l2.9 2.9l3-.7l-3-2.9zM89 251.1l2.9 3l2.9-.7l-2.9-2.9zM77.2 256.9l3 3.2l2.9-.5l-2.9-3.2zM68.4 261.7l3 3.3l2.9-.4l-2.9-3.3z" fill="#00ff2e" stroke="#00ff2e"/>
<path d="M97.8 252.7l2.9 2.9l2.9-.8l-2.9-2.9zM94.8 253.4l2.9 2.9l3-.7l-2.9-2.9zM91.9 254.1l2.9 3l2.9-.8l-2.9-2.9zM80.2 260.1l2.9 3.2l2.9-.6l-2.9-3.1zM77.3 260.5l2.9 3.3l2.9-.5l-2.9-3.2z" fill="#00ff55" stroke="#00ff55"/>
<path d="M132.5 262.1l2.9 2.2l2.9-1.4l-2.8-2.2zM129.6 263.4l2.9 2.3l2.9-1.4l-2.9-2.2zM94.8 275.9l2.8 3.1l2.9-.8l-2.8-3.1zM91.9 276.6l2.8 3.2l2.9-.8l-2.8-3.1z" fill="#00e4ff" stroke="#00e4ff"/>
<path d="M144.1 263.4l2.8 2l3-1.7l-2.9-1.9zM135.4 264.3l2.9 2.2l2.9-1.5l-2.9-2.1zM132.5 265.7l2.8 2.3l3-1.5l-2.9-2.2zM115.1 269.5l2.9 2.6l2.9-1.1l-2.9-2.7zM112.2 270.5l2.9 2.8l2.9-1.2l-2.9-2.6zM109.3 271.5l2.9 2.9l2.9-1.1l-2.9-2.8zM91.8 280.5l2.9 3.2l2.9-.8l-2.9-3.1zM88.9 281.1l2.9 3.3l2.9-.7l-2.9-3.2z" fill="#00c8ff" stroke="#00c8ff"/>
<path d="M35 224.8l3.1 3.3l3 0l-3.1-3.4z" fill="#ff5a00" stroke="#ff5a00"/>
<path d="M141.2 265l2.8 2l2.9-1.6l-2.8-2zM129.6 267.1l2.8 2.4l2.9-1.5l-2.8-2.3zM126.7 268.4l2.8 2.5l2.9-1.4l-2.8-2.4zM100.5 278.2l2.9 3l2.9-.9l-2.9-3zM97.6 279l2.9 3.1l2.9-.9l-2.9-3zM94.7 279.8l2.9 3.1l2.9-.8l-2.9-3.1z" fill="#00baff" stroke="#00baff"/>
<path d="M146.9 265.4l2.9 1.9l2.9-1.8l-2.8-1.8zM138.3 266.5l2.8 2.2l2.9-1.7l-2.8-2zM135.3 268l2.9 2.2l2.9-1.5l-2.8-2.2zM123.8 269.7l2.8 2.5l2.9-1.3l-2.8-2.5zM120.9 271l2.8 2.5l2.9-1.3l-2.8-2.5zM118 272.1l2.8 2.7l2.9-1.3l-2.8-2.5zM115.1 273.3l2.8 2.7l2.9-1.2l-2.8-2.7zM112.2 274.4l2.8 2.7l2.9-1.1l-2.8-2.7zM109.3 275.4l2.8 2.8l2.9-1.1l-2.8-2.7zM106.4 276.4l2.8 2.9l2.9-1.1l-2.8-2.8zM103.4 277.3l2.9 3l2.9-1l-2.8-2.9zM88.9 285.1l2.9 3.3l2.9-.7l-2.9-3.3z" fill="#00adff" stroke="#00adff"/>
<path d="M144 267l2.9 2l2.9-1.7l-2.9-1.9zM141.1 268.7l2.8 2l3-1.7l-2.9-2zM132.4 269.5l2.9 2.3l2.9-1.6l-2.9-2.2zM129.5 270.9l2.9 2.3l2.9-1.4l-2.9-2.3zM97.6 282.9l2.9 3.2l2.9-.9l-2.9-3.1zM94.7 283.7l2.9 3.2l2.9-.8l-2.9-3.2zM91.8 284.4l2.9 3.3l2.9-.8l-2.9-3.2z" fill="#009fff" stroke="#009fff"/>
<path d="M89 254.7l2.9 3.1l2.9-.7l-2.9-3zM86 255.3l3 3.1l2.9-.6l-2.9-3.1zM74.3 261l3 3.2l2.9-.4l-2.9-3.3z" fill="#00ff48" stroke="#00ff48"/>
<path d="M91.9 257.8l2.9 3l2.9-.8l-2.9-2.9zM89 258.4l2.9 3.1l2.9-.7l-2.9-3zM86 259l3 3.1l2.9-.6l-2.9-3.1zM77.3 264.2l2.9 3.3l2.9-.5l-2.9-3.2z" fill="#00ff6f" stroke="#00ff6f"/>
<path d="M138.2 270.2l2.8 2.2l2.9-1.7l-2.8-2zM126.6 272.2l2.9 2.5l2.9-1.5l-2.9-2.3zM123.7 273.5l2.9 2.6l2.9-1.4l-2.9-2.5zM120.8 274.8l2.9 2.6l2.9-1.3l-2.9-2.6zM117.9 276l2.9 2.7l2.9-1.3l-2.9-2.6zM106.3 280.3l2.9 2.9l2.9-1l-2.9-2.9zM103.4 281.2l2.9 3l2.9-1l-2.9-2.9zM100.5 282.1l2.9 3.1l2.9-1l-2.9-3z" fill="#0091ff" stroke="#0091ff"/>
<path d="M94.8 260.8l2.9 2.9l2.9-.8l-2.9-2.9zM91.9 261.5l2.9 3l2.9-.8l-2.9-2.9zM89 262.1l2.9 3.1l2.9-.7l-2.9-3zM80.2 267.5l2.9 3.3l2.9-.6l-2.9-3.2z" fill="#00ff96" stroke="#00ff96"/>
<path d="M135.3 271.8l2.8 2.2l2.9-1.6l-2.8-2.2zM132.4 273.2l2.8 2.4l2.9-1.6l-2.8-2.2zM115 277.1l2.9 2.8l2.9-1.2l-2.9-2.7zM112.1 278.2l2.9 2.9l2.9-1.2l-2.9-2.8zM109.2 279.3l2.9 2.9l2.9-1.1l-2.9-2.9zM94.7 287.7l2.9 3.2l2.9-.8l-2.9-3.2zM91.8 288.4l2.9 3.3l2.9-.8l-2.9-3.2z" fill="#0084ff" stroke="#0084ff"/>
<path d="M129.5 274.7l2.8 2.4l2.9-1.5l-2.8-2.4zM126.6 276.1l2.8 2.4l2.9-1.4l-2.8-2.4zM100.5 286.1l2.9 3.1l2.8-.9l-2.8-3.1zM97.6 286.9l2.9 3.2l2.9-.9l-2.9-3.1z" fill="#0076ff" stroke="#0076ff"/>
<path d="M89 265.8l2.9 3.1l2.9-.7l-2.9-3zM77.3 271.7l2.9 3.3l2.9-.4l-2.9-3.3z" fill="#00ffb1" stroke="#00ffb1"/>
<path d="M123.7 277.4l2.8 2.5l2.9-1.4l-2.8-2.4zM120.8 278.7l2.8 2.6l2.9-1.4l-2.8-2.5zM117.9 279.9l2.8 2.7l2.9-1.3l-2.8-2.6zM115 281.1l2.8 2.7l2.9-1.2l-2.8-2.7zM112.1 282.2l2.8 2.8l2.9-1.2l-2.8-2.7zM109.2 283.2l2.8 3l2.9-1.2l-2.8-2.8zM106.3 284.2l2.8 3l2.9-1l-2.8-3zM103.4 285.2l2.8 3.1l2.9-1.1l-2.8-3z" fill="#0068ff" stroke="#0068ff"/>
</g>
<path d="M35 224.8 L38 224.7 L41.1 224.6 L44.1 224.5 L47.1 224.3 L50.1 224.1 L53.1 223.9 L56.1 223.7 L59.1 223.4 L62.1 223.1 L65.1 222.8 L68.1 222.5 L71.1 222.1 L74.1 221.7 L77.1 221.3 L80.1 220.8 L83 220.4 L86 219.9 L89 219.4 L92 218.9 L95 218.3 M35 224.8 L38.1 228.1 L41.2 231.5 L44.3 234.8 L47.4 238.2 L50.4 241.5 L53.4 244.9 L56.5 248.2 L59.5 251.6 L62.5 254.9 L65.5 258.3 L68.4 261.7 L71.4 265 L74.3 268.4 L77.3 271.7 L80.2 275 L83.1 278.4 L86 281.7 L88.9 285.1 L91.8 288.4 L94.7 291.7 M38.1 228.1 L41.1 228.1 L44.2 227.9 L47.2 227.8 L50.2 227.6 L53.2 227.4 L56.2 227.2 L59.2 226.9 L62.2 226.6 L65.2 226.3 L68.1 226 L71.1 225.6 L74.1 225.2 L77.1 224.8 L80.1 224.3 L83 223.9 L86 223.4 L89 222.8 L92 222.3 L94.9 221.7 L97.9 221.1 M38 224.7 L41.1 228.1 L44.2 231.4 L47.3 234.7 L50.3 238 L53.4 241.4 L56.4 244.7 L59.4 248 L62.4 251.4 L65.4 254.7 L68.4 258 L71.4 261.3 L74.3 264.6 L77.3 268 L80.2 271.3 L83.1 274.6 L86 277.8 L88.9 281.1 L91.8 284.4 L94.7 287.7 L97.6 290.9 M41.2 231.5 L44.2 231.4 L47.2 231.2 L50.2 231.1 L53.2 230.9 L56.2 230.7 L59.2 230.4 L62.2 230.1 L65.2 229.8 L68.2 229.5 L71.2 229.1 L74.1 228.7 L77.1 228.3 L80.1 227.8 L83.1 227.3 L86 226.8 L89 226.3 L92 225.7 L94.9 225.1 L97.9 224.5 L100.9 223.9 M41.1 224.6 L44.2 227.9 L47.2 231.2 L50.3 234.6 L53.3 237.9 L56.4 241.2 L59.4 244.5 L62.4 247.8 L65.4 251.1 L68.4 254.4 L71.4 257.7 L74.3 261 L77.3 264.2 L80.2 267.5 L83.1 270.8 L86 274 L88.9 277.2 L91.8 280.5 L94.7 283.7 L97.6 286.9 L100.5 290.1 M44.3 234.8 L47.3 234.7 L50.3 234.6 L53.3 234.4 L56.3 234.2 L59.3 233.9 L62.2 233.6 L65.2 233.3 L68.2 233 L71.2 232.6 L74.2 232.2 L77.1 231.8 L80.1 231.3 L83.1 230.8 L86 230.3 L89 229.8 L91.9 229.2 L94.9 228.6 L97.9 228 L100.8 227.3 L103.8 226.6 M44.1 224.5 L47.2 227.8 L50.2 231.1 L53.3 234.4 L56.3 237.7 L59.4 241 L62.4 244.2 L65.4 247.5 L68.4 250.8 L71.3 254 L74.3 257.3 L77.3 260.5 L80.2 263.8 L83.1 267 L86 270.2 L89 273.4 L91.9 276.6 L94.7 279.8 L97.6 282.9 L100.5 286.1 L103.4 289.2 M47.4 238.2 L50.3 238 L53.3 237.9 L56.3 237.7 L59.3 237.4 L62.3 237.2 L65.3 236.9 L68.2 236.5 L71.2 236.2 L74.2 235.8 L77.1 235.3 L80.1 234.9 L83.1 234.4 L86 233.8 L89 233.3 L91.9 232.7 L94.9 232.1 L97.8 231.4 L100.8 230.8 L103.8 230.1 L106.7 229.3 M47.1 224.3 L50.2 227.6 L53.2 230.9 L56.3 234.2 L59.3 237.4 L62.3 240.7 L65.3 244 L68.3 247.2 L71.3 250.4 L74.3 253.7 L77.2 256.9 L80.2 260.1 L83.1 263.3 L86 266.4 L89 269.6 L91.9 272.8 L94.8 275.9 L97.6 279 L100.5 282.1 L103.4 285.2 L106.2 288.3 M50.4 241.5 L53.4 241.4 L56.4 241.2 L59.4 241 L62.3 240.7 L65.3 240.4 L68.3 240.1 L71.2 239.7 L74.2 239.3 L77.2 238.9 L80.1 238.4 L83.1 237.9 L86 237.4 L89 236.8 L91.9 236.2 L94.9 235.6 L97.8 234.9 L100.8 234.2 L103.7 233.5 L106.7 232.8 L109.6 232 M50.1 224.1 L53.2 227.4 L56.2 230.7 L59.3 233.9 L62.3 237.2 L65.3 240.4 L68.3 243.6 L71.3 246.8 L74.3 250 L77.2 253.2 L80.2 256.4 L83.1 259.6 L86 262.7 L89 265.8 L91.9 268.9 L94.8 272 L97.7 275.1 L100.5 278.2 L103.4 281.2 L106.3 284.2 L109.1 287.2 M53.4 244.9 L56.4 244.7 L59.4 244.5 L62.4 244.2 L65.3 244 L68.3 243.6 L71.3 243.3 L74.2 242.9 L77.2 242.4 L80.1 242 L83.1 241.4 L86 240.9 L89 240.3 L91.9 239.7 L94.9 239.1 L97.8 238.4 L100.8 237.7 L103.7 237 L106.6 236.2 L109.6 235.4 L112.5 234.6 M53.1 223.9 L56.2 227.2 L59.2 230.4 L62.2 233.6 L65.3 236.9 L68.3 240.1 L71.3 243.3 L74.2 246.4 L77.2 249.6 L80.2 252.8 L83.1 255.9 L86 259 L89 262.1 L91.9 265.2 L94.8 268.2 L97.7 271.3 L100.6 274.3 L103.4 277.3 L106.3 280.3 L109.2 283.2 L112 286.2 M56.5 248.2 L59.4 248 L62.4 247.8 L65.4 247.5 L68.3 247.2 L71.3 246.8 L74.2 246.4 L77.2 246 L80.1 245.5 L83.1 245 L86 244.5 L89 243.9 L91.9 243.3 L94.9 242.6 L97.8 241.9 L100.7 241.2 L103.7 240.5 L106.6 239.7 L109.6 238.9 L112.5 238 L115.4 237.1 M56.1 223.7 L59.2 226.9 L62.2 230.1 L65.2 233.3 L68.2 236.5 L71.2 239.7 L74.2 242.9 L77.2 246 L80.2 249.1 L83.1 252.2 L86 255.3 L89 258.4 L91.9 261.5 L94.8 264.5 L97.7 267.5 L100.6 270.5 L103.5 273.4 L106.4 276.4 L109.2 279.3 L112.1 282.2 L114.9 285 M59.5 251.6 L62.4 251.4 L65.4 251.1 L68.4 250.8 L71.3 250.4 L74.3 250 L77.2 249.6 L80.2 249.1 L83.1 248.6 L86 248.1 L89 247.5 L91.9 246.9 L94.9 246.2 L97.8 245.5 L100.7 244.8 L103.7 244 L106.6 243.2 L109.5 242.4 L112.5 241.5 L115.4 240.6 L118.3 239.6 M59.1 223.4 L62.2 226.6 L65.2 229.8 L68.2 233 L71.2 236.2 L74.2 239.3 L77.2 242.4 L80.1 245.5 L83.1 248.6 L86 251.7 L89 254.7 L91.9 257.8 L94.8 260.8 L97.7 263.7 L100.6 266.7 L103.5 269.6 L106.4 272.5 L109.3 275.4 L112.1 278.2 L115 281.1 L117.8 283.8 M62.5 254.9 L65.4 254.7 L68.4 254.4 L71.3 254 L74.3 253.7 L77.2 253.2 L80.2 252.8 L83.1 252.2 L86 251.7 L89 251.1 L91.9 250.5 L94.8 249.8 L97.8 249.1 L100.7 248.3 L103.6 247.5 L106.6 246.7 L109.5 245.9 L112.4 245 L115.4 244.1 L118.3 243.1 L121.2 242.1 M62.1 223.1 L65.2 226.3 L68.2 229.5 L71.2 232.6 L74.2 235.8 L77.2 238.9 L80.1 242 L83.1 245 L86 248.1 L89 251.1 L91.9 254.1 L94.8 257.1 L97.7 260 L100.6 262.9 L103.5 265.8 L106.4 268.7 L109.3 271.5 L112.2 274.4 L115 277.1 L117.9 279.9 L120.7 282.6 M65.5 258.3 L68.4 258 L71.4 257.7 L74.3 257.3 L77.2 256.9 L80.2 256.4 L83.1 255.9 L86 255.3 L89 254.7 L91.9 254.1 L94.8 253.4 L97.8 252.7 L100.7 251.9 L103.6 251.1 L106.5 250.3 L109.5 249.4 L112.4 248.5 L115.3 247.6 L118.2 246.6 L121.2 245.6 L124.1 244.5 M65.1 222.8 L68.1 226 L71.2 229.1 L74.2 232.2 L77.1 235.3 L80.1 238.4 L83.1 241.4 L86 244.5 L89 247.5 L91.9 250.5 L94.8 253.4 L97.7 256.3 L100.7 259.2 L103.6 262.1 L106.4 264.9 L109.3 267.8 L112.2 270.5 L115.1 273.3 L117.9 276 L120.8 278.7 L123.6 281.3 M68.4 261.7 L71.4 261.3 L74.3 261 L77.3 260.5 L80.2 260.1 L83.1 259.6 L86 259 L89 258.4 L91.9 257.8 L94.8 257.1 L97.7 256.3 L100.7 255.6 L103.6 254.8 L106.5 253.9 L109.4 253 L112.4 252.1 L115.3 251.1 L118.2 250.1 L121.1 249.1 L124.1 248 L127 246.9 M68.1 222.5 L71.1 225.6 L74.1 228.7 L77.1 231.8 L80.1 234.9 L83.1 237.9 L86 240.9 L89 243.9 L91.9 246.9 L94.8 249.8 L97.8 252.7 L100.7 255.6 L103.6 258.4 L106.5 261.2 L109.3 264 L112.2 266.8 L115.1 269.5 L118 272.1 L120.8 274.8 L123.7 277.4 L126.5 279.9 M71.4 265 L74.3 264.6 L77.3 264.2 L80.2 263.8 L83.1 263.3 L86 262.7 L89 262.1 L91.9 261.5 L94.8 260.8 L97.7 260 L100.7 259.2 L103.6 258.4 L106.5 257.5 L109.4 256.6 L112.3 255.7 L115.2 254.7 L118.2 253.7 L121.1 252.6 L124 251.5 L126.9 250.3 L129.9 249.2 M71.1 222.1 L74.1 225.2 L77.1 228.3 L80.1 231.3 L83.1 234.4 L86 237.4 L89 240.3 L91.9 243.3 L94.9 246.2 L97.8 249.1 L100.7 251.9 L103.6 254.8 L106.5 257.5 L109.4 260.3 L112.3 263 L115.1 265.7 L118 268.3 L120.9 271 L123.7 273.5 L126.6 276.1 L129.4 278.5 M74.3 268.4 L77.3 268 L80.2 267.5 L83.1 267 L86 266.4 L89 265.8 L91.9 265.2 L94.8 264.5 L97.7 263.7 L100.6 262.9 L103.6 262.1 L106.5 261.2 L109.4 260.3 L112.3 259.3 L115.2 258.3 L118.1 257.3 L121 256.2 L124 255 L126.9 253.9 L129.8 252.6 L132.7 251.4 M74.1 221.7 L77.1 224.8 L80.1 227.8 L83.1 230.8 L86 233.8 L89 236.8 L91.9 239.7 L94.9 242.6 L97.8 245.5 L100.7 248.3 L103.6 251.1 L106.5 253.9 L109.4 256.6 L112.3 259.3 L115.2 262 L118 264.6 L120.9 267.2 L123.8 269.7 L126.6 272.2 L129.5 274.7 L132.3 277.1 M77.3 271.7 L80.2 271.3 L83.1 270.8 L86 270.2 L89 269.6 L91.9 268.9 L94.8 268.2 L97.7 267.5 L100.6 266.7 L103.5 265.8 L106.4 264.9 L109.3 264 L112.3 263 L115.2 262 L118.1 260.9 L121 259.8 L123.9 258.6 L126.8 257.4 L129.7 256.2 L132.7 254.9 L135.6 253.6 M77.1 221.3 L80.1 224.3 L83.1 227.3 L86 230.3 L89 233.3 L91.9 236.2 L94.9 239.1 L97.8 241.9 L100.7 244.8 L103.6 247.5 L106.5 250.3 L109.4 253 L112.3 255.7 L115.2 258.3 L118.1 260.9 L121 263.5 L123.8 266 L126.7 268.4 L129.5 270.9 L132.4 273.2 L135.2 275.6 M80.2 275 L83.1 274.6 L86 274 L89 273.4 L91.9 272.8 L94.8 272 L97.7 271.3 L100.6 270.5 L103.5 269.6 L106.4 268.7 L109.3 267.8 L112.2 266.8 L115.1 265.7 L118 264.6 L121 263.5 L123.9 262.3 L126.8 261 L129.7 259.8 L132.6 258.5 L135.5 257.1 L138.4 255.7 M80.1 220.8 L83 223.9 L86 226.8 L89 229.8 L91.9 232.7 L94.9 235.6 L97.8 238.4 L100.7 241.2 L103.7 244 L106.6 246.7 L109.5 249.4 L112.4 252.1 L115.2 254.7 L118.1 257.3 L121 259.8 L123.9 262.3 L126.7 264.7 L129.6 267.1 L132.4 269.5 L135.3 271.8 L138.1 274 M83.1 278.4 L86 277.8 L88.9 277.2 L91.9 276.6 L94.8 275.9 L97.7 275.1 L100.6 274.3 L103.5 273.4 L106.4 272.5 L109.3 271.5 L112.2 270.5 L115.1 269.5 L118 268.3 L120.9 267.2 L123.8 266 L126.7 264.7 L129.6 263.4 L132.5 262.1 L135.5 260.7 L138.4 259.3 L141.3 257.8 M83 220.4 L86 223.4 L89 226.3 L91.9 229.2 L94.9 232.1 L97.8 234.9 L100.8 237.7 L103.7 240.5 L106.6 243.2 L109.5 245.9 L112.4 248.5 L115.3 251.1 L118.2 253.7 L121 256.2 L123.9 258.6 L126.8 261 L129.6 263.4 L132.5 265.7 L135.3 268 L138.2 270.2 L141 272.4 M86 281.7 L88.9 281.1 L91.8 280.5 L94.7 279.8 L97.6 279 L100.5 278.2 L103.4 277.3 L106.4 276.4 L109.3 275.4 L112.2 274.4 L115.1 273.3 L118 272.1 L120.9 271 L123.8 269.7 L126.7 268.4 L129.6 267.1 L132.5 265.7 L135.4 264.3 L138.3 262.9 L141.2 261.4 L144.2 259.8 M86 219.9 L89 222.8 L92 225.7 L94.9 228.6 L97.8 231.4 L100.8 234.2 L103.7 237 L106.6 239.7 L109.5 242.4 L112.4 245 L115.3 247.6 L118.2 250.1 L121.1 252.6 L124 255 L126.8 257.4 L129.7 259.8 L132.5 262.1 L135.4 264.3 L138.3 266.5 L141.1 268.7 L143.9 270.7 M88.9 285.1 L91.8 284.4 L94.7 283.7 L97.6 282.9 L100.5 282.1 L103.4 281.2 L106.3 280.3 L109.2 279.3 L112.1 278.2 L115 277.1 L117.9 276 L120.8 274.8 L123.7 273.5 L126.6 272.2 L129.5 270.9 L132.4 269.5 L135.3 268 L138.3 266.5 L141.2 265 L144.1 263.4 L147 261.8 M89 219.4 L92 222.3 L94.9 225.1 L97.9 228 L100.8 230.8 L103.7 233.5 L106.6 236.2 L109.6 238.9 L112.5 241.5 L115.4 244.1 L118.2 246.6 L121.1 249.1 L124 251.5 L126.9 253.9 L129.7 256.2 L132.6 258.5 L135.5 260.7 L138.3 262.9 L141.2 265 L144 267 L146.9 269 M91.8 288.4 L94.7 287.7 L97.6 286.9 L100.5 286.1 L103.4 285.2 L106.3 284.2 L109.2 283.2 L112.1 282.2 L115 281.1 L117.9 279.9 L120.8 278.7 L123.7 277.4 L126.6 276.1 L129.5 274.7 L132.4 273.2 L135.3 271.8 L138.2 270.2 L141.1 268.7 L144 267 L146.9 265.4 L149.9 263.7 M92 218.9 L94.9 221.7 L97.9 224.5 L100.8 227.3 L103.8 230.1 L106.7 232.8 L109.6 235.4 L112.5 238 L115.4 240.6 L118.3 243.1 L121.2 245.6 L124.1 248 L126.9 250.3 L129.8 252.6 L132.7 254.9 L135.5 257.1 L138.4 259.3 L141.2 261.4 L144.1 263.4 L146.9 265.4 L149.8 267.3 M94.7 291.7 L97.6 290.9 L100.5 290.1 L103.4 289.2 L106.2 288.3 L109.1 287.2 L112 286.2 L114.9 285 L117.8 283.8 L120.7 282.6 L123.6 281.3 L126.5 279.9 L129.4 278.5 L132.3 277.1 L135.2 275.6 L138.1 274 L141 272.4 L143.9 270.7 L146.9 269 L149.8 267.3 L152.7 265.5 M95 218.3 L97.9 221.1 L100.9 223.9 L103.8 226.6 L106.7 229.3 L109.6 232 L112.5 234.6 L115.4 237.1 L118.3 239.6 L121.2 242.1 L124.1 244.5 L127 246.9 L129.9 249.2 L132.7 251.4 L135.6 253.6 L138.4 255.7 L141.3 257.8 L144.2 259.8 L147 261.8 L149.9 263.7 L152.7 265.5" fill="none" stroke="#000" stroke-opacity="0.62" stroke-width=".4"/>
<circle cx="94.9" cy="241.8" r="1.45" fill="#b00000"/>
<circle cx="152.6" cy="265.5" r="1.45" fill="#b00000"/>
<circle cx="35.7" cy="234.3" r="0.9" fill="#fff" stroke="#e06080" stroke-width=".4"/>
<circle cx="94.9" cy="296.2" r="0.9" fill="#fff" stroke="#e06080" stroke-width=".4"/>
<path d="M94.9 241.8V296" stroke="#333" stroke-width=".3" stroke-opacity=".6"/>
<g font-size="5.4" font-weight="bold" fill="#111"><text x="31.8" y="220.1" text-anchor="end">80</text><text x="32.1" y="230.1" text-anchor="end">75</text><text x="32.4" y="240" text-anchor="end">70</text><text x="32.7" y="250" text-anchor="end">65</text><text x="33" y="260" text-anchor="end">60</text><text x="33.3" y="269.9" text-anchor="end">55</text><text x="33.6" y="279.9" text-anchor="end">50</text><text x="32.4" y="298.1" text-anchor="middle">60</text><text x="48.7" y="306.2" text-anchor="middle">54</text><text x="60" y="311.7" text-anchor="middle">48</text><text x="71.5" y="317" text-anchor="middle">42</text><text x="82.9" y="321.5" text-anchor="middle">36</text><text x="90.7" y="327.2" text-anchor="middle">30</text><text x="98" y="327.4" text-anchor="middle">10</text><text x="108" y="321.7" text-anchor="middle">20</text><text x="119.3" y="317" text-anchor="middle">30</text><text x="130.4" y="311.7" text-anchor="middle">40</text><text x="142.4" y="306" text-anchor="middle">50</text><text x="153.3" y="301.2" text-anchor="middle">60</text></g>
<text x="46.2" y="326.1" font-size="5.6" font-weight="bold" fill="#111" text-anchor="middle" textLength="64" lengthAdjust="spacingAndGlyphs">B: Solvent-solid ratio <tspan font-weight="normal">(% <tspan font-style="italic">v</tspan>/<tspan font-style="italic">v</tspan>)</tspan></text>
<text x="139.8" y="326.1" font-size="5.6" font-weight="bold" fill="#111" text-anchor="middle" textLength="45.8" lengthAdjust="spacingAndGlyphs">C: Temperature (°C)</text>
<text x="17.4" y="264" font-size="5.6" font-weight="bold" fill="#111" text-anchor="middle" textLength="53" lengthAdjust="spacingAndGlyphs" transform="rotate(-90 17.4 264)">TFC <tspan font-weight="normal">(mg QE/g extract)</tspan></text>
<text x="3.3" y="183.7" font-size="10.6" stroke="#000" stroke-width=".22" fill="#000">(j)</text></g>
<g><path d="M231.7 294.9 L284.9 322.3 L337.1 295 L284.5 275.3 Z" fill="#5b5b5b"/>
<path d="M329.8 292.3 L327.5 292.9 L326.3 293.2 L324 293.9 L322.9 294.2 L320.6 294.9 L319.5 295.2 L317.3 295.9 L315.6 296.4 L314.1 297 L311.9 297.6 L310.8 298 L308.8 298.7 L306.7 299.4 L305.3 299.9 L303.7 300.5 L301.6 301.2 L299.7 302 L298.5 302.4 L296.7 303.1 L294.8 303.9 L292.8 304.6 L290.9 305.4 L289.1 306.2 L288.1 306.6 L286.3 307.4 L284.5 308.2 L282.7 309 L280.9 309.8 L279.1 310.6 L277.4 311.5 L275.7 312.3 L274 313.2 L272.3 314.1 L270.6 315 L270.6 315" fill="none" stroke="#00c3e1" stroke-width="1.1"/>
<path d="M317.5 287.7 L315.3 288.3 L314.2 288.6 L312 289.3 L310.5 289.7 L308.7 290.2 L306.6 290.9 L305.5 291.2 L303.4 291.8 L301.3 292.5 L300.3 292.8 L298.2 293.5 L296.1 294.2 L294.9 294.6 L293.1 295.2 L291 295.8 L289 296.5 L288 296.9 L286.1 297.5 L284.1 298.2 L282.1 298.9 L280.2 299.6 L279.2 300 L277.3 300.7 L275.4 301.4 L273.5 302.1 L271.7 302.9 L269.8 303.6 L268 304.3 L266.2 305.1 L265.3 305.5 L263.5 306.2 L261.7 307 L260 307.8 L258.2 308.6 L258.2 308.6" fill="none" stroke="#00c887" stroke-width="1.1"/>
<path d="M307.1 283.8 L304.9 284.4 L303.6 284.7 L301.7 285.3 L299.5 285.9 L298.4 286.2 L296.3 286.8 L294.2 287.4 L293.1 287.7 L291 288.3 L288.9 288.9 L287.9 289.2 L285.8 289.8 L283.7 290.4 L282.7 290.7 L280.7 291.3 L278.6 292 L276.8 292.5 L275.6 292.9 L273.6 293.5 L271.5 294.1 L269.9 294.6 L268.6 295.1 L266.6 295.7 L264.6 296.3 L262.7 297 L261.7 297.3 L259.7 297.9 L257.8 298.6 L255.9 299.2 L254 299.9 L252.1 300.5 L251.1 300.8 L249.3 301.5 L247.4 302.2 L246.5 302.5" fill="none" stroke="#50d228" stroke-width="1.1"/>
<path d="M297.9 280.3 L296.5 280.7 L294.7 281.2 L292.5 281.7 L291.4 282 L289.2 282.5 L287.3 283.1 L286 283.4 L283.9 283.9 L282.4 284.3 L280.7 284.8 L278.5 285.3 L277.3 285.6 L275.4 286.1 L273.3 286.7 L272 287 L270.1 287.5 L268 288 L266.6 288.4 L264.9 288.9 L262.8 289.4 L260.8 289.9 L259.7 290.2 L257.6 290.8 L255.6 291.3 L254.6 291.6 L252.5 292.1 L250.5 292.7 L248.6 293.2 L247.4 293.5 L245.4 294 L243.4 294.6 L241.9 295 L240.3 295.4 L238.3 295.9 L236.3 296.5 L235.3 296.8" fill="none" stroke="#b9d700" stroke-width="1.1"/>
<path d="M289.6 277.2 L287.4 277.7 L286 278.1 L284.1 278.5 L281.9 279 L280.8 279.2 L278.7 279.7 L277 280.1 L275.4 280.5 L273.2 281 L272.1 281.2 L270 281.7 L267.8 282.2 L266.7 282.4 L264.5 282.9 L263 283.3 L263 283.3" fill="none" stroke="#ebcd1e" stroke-width="1.1"/>
<path d="M231 276.6 L228.6 217.4 M241.7 273 L239.7 214.7 M295.2 262.1 L295.6 206.6 M252.4 269.3 L250.9 212 M305.9 265.7 L306.9 209.3 M263.1 265.7 L262 209.3 M316.6 269.4 L318.3 211.9 M273.8 262.1 L273.2 206.6 M327.3 273 L329.6 214.6 M284.5 258.4 L284.3 203.9 M338 276.7 L340.9 217.3 M228.6 217.4 L284.3 203.9 L340.9 217.3 M229 227.3 L284.3 213 L340.4 227.2 M229.4 237.1 L284.4 222.1 L339.9 237.1 M229.8 247 L284.4 231.2 L339.4 247 M230.2 256.9 L284.4 240.3 L339 256.9 M230.6 266.7 L284.4 249.4 L338.5 266.8 M231 276.6 L284.5 258.4 L338 276.7" fill="none" stroke="#505050" stroke-width=".5"/>
<path d="M231.7 294.9 L228.6 217.4" stroke="#666" stroke-width=".5"/>
<path d="M337.1 295 L338 276.7" stroke="#777" stroke-width=".4"/>
<path d="M227.7 217.4 h1.6 M228.1 227.3 h1.6 M228.5 237.1 h1.6 M228.9 247 h1.6 M229.3 256.9 h1.6 M229.7 266.7 h1.6 M230.1 276.6 h1.6" stroke="#111" stroke-width=".8"/>
<g stroke-width=".35" stroke-linejoin="round">
<path d="M281.5 211.4l2.9 3.2l2.7-1.4l-2.8-3.2z" fill="#ff6500" stroke="#ff6500"/>
<path d="M278.8 212.7l2.8 3.2l2.8-1.3l-2.9-3.2z" fill="#ff7100" stroke="#ff7100"/>
<path d="M284.4 214.6l2.8 3.1l2.7-1.3l-2.8-3.2zM270.5 216.7l2.8 3.2l2.8-1.3l-2.8-3.2z" fill="#ff9300" stroke="#ff9300"/>
<path d="M276 214l2.8 3.2l2.8-1.3l-2.8-3.2z" fill="#ff7c00" stroke="#ff7c00"/>
<path d="M281.6 215.9l2.8 3.2l2.8-1.4l-2.8-3.1zM267.7 218l2.9 3.1l2.7-1.2l-2.8-3.2zM265 219.2l2.8 3.2l2.8-1.3l-2.9-3.1z" fill="#ff9f00" stroke="#ff9f00"/>
<path d="M287.2 217.7l2.8 3.1l2.7-1.3l-2.8-3.1zM273.3 219.9l2.8 3.1l2.8-1.3l-2.8-3.1zM270.6 221.1l2.8 3.2l2.7-1.3l-2.8-3.1zM256.7 223l2.9 3.1l2.7-1.2l-2.8-3.1z" fill="#ffc100" stroke="#ffc100"/>
<path d="M273.3 215.4l2.8 3.2l2.7-1.4l-2.8-3.2z" fill="#ff8800" stroke="#ff8800"/>
<path d="M278.8 217.2l2.8 3.2l2.8-1.3l-2.8-3.2zM262.2 220.5l2.9 3.2l2.7-1.3l-2.8-3.2z" fill="#ffaa00" stroke="#ffaa00"/>
<path d="M284.4 219.1l2.8 3.1l2.8-1.4l-2.8-3.1zM267.8 222.4l2.8 3.1l2.8-1.2l-2.8-3.2zM254 224.2l2.8 3.1l2.8-1.2l-2.9-3.1zM251.2 225.4l2.9 3.1l2.7-1.2l-2.8-3.1z" fill="#ffcc00" stroke="#ffcc00"/>
<path d="M290 220.8l2.7 3.1l2.8-1.3l-2.8-3.1zM276.1 223l2.8 3.1l2.8-1.3l-2.8-3.1zM262.3 224.9l2.8 3.1l2.8-1.2l-2.8-3.1zM245.7 227.8l2.9 3.1l2.7-1.2l-2.8-3.1zM243 229l2.8 3l2.8-1.1l-2.9-3.1z" fill="#ffe300" stroke="#ffe300"/>
<path d="M276.1 218.6l2.8 3.1l2.7-1.3l-2.8-3.2zM259.5 221.8l2.8 3.1l2.8-1.2l-2.9-3.2z" fill="#ffb500" stroke="#ffb500"/>
<path d="M281.6 220.4l2.8 3.1l2.8-1.3l-2.8-3.1zM278.9 221.7l2.8 3.1l2.7-1.3l-2.8-3.1zM265.1 223.7l2.8 3.1l2.7-1.3l-2.8-3.1zM248.5 226.6l2.8 3.1l2.8-1.2l-2.9-3.1z" fill="#ffd800" stroke="#ffd800"/>
<path d="M287.2 222.2l2.8 3.1l2.7-1.4l-2.7-3.1zM273.4 224.3l2.8 3.1l2.7-1.3l-2.8-3.1zM259.6 226.1l2.8 3.1l2.7-1.2l-2.8-3.1zM256.8 227.3l2.8 3.1l2.8-1.2l-2.8-3.1zM240.2 230.1l2.9 3l2.7-1.1l-2.8-3z" fill="#ffef00" stroke="#ffef00"/>
<path d="M292.7 223.9l2.8 3.1l2.7-1.4l-2.7-3zM278.9 226.1l2.8 3.1l2.8-1.3l-2.8-3.1zM262.4 229.2l2.8 3.1l2.7-1.2l-2.8-3.1zM245.8 232l2.9 3l2.7-1.1l-2.8-3zM243.1 233.1l2.8 3l2.8-1.1l-2.9-3z" fill="#ebff00" stroke="#ebff00"/>
<path d="M284.4 223.5l2.8 3.1l2.8-1.3l-2.8-3.1zM270.6 225.5l2.8 3.1l2.8-1.2l-2.8-3.1zM254.1 228.5l2.8 3.1l2.7-1.2l-2.8-3.1zM237.5 231.2l2.8 3l2.8-1.1l-2.9-3zM234.8 232.3l2.8 3l2.7-1.1l-2.8-3z" fill="#fffa00" stroke="#fffa00"/>
<path d="M290 225.3l2.7 3l2.8-1.3l-2.8-3.1zM276.2 227.4l2.8 3.1l2.7-1.3l-2.8-3.1zM273.4 228.6l2.8 3.1l2.8-1.2l-2.8-3.1zM259.6 230.4l2.8 3.1l2.8-1.2l-2.8-3.1zM256.9 231.6l2.8 3.1l2.7-1.2l-2.8-3.1zM240.3 234.2l2.9 3l2.7-1.1l-2.8-3zM237.6 235.3l2.8 3l2.8-1.1l-2.9-3z" fill="#deff00" stroke="#deff00"/>
<path d="M295.5 227l2.7 2.9l2.8-1.3l-2.8-3zM281.7 229.2l2.8 3l2.7-1.3l-2.7-3zM279 230.5l2.7 3l2.8-1.3l-2.8-3zM265.2 232.3l2.8 3.1l2.7-1.2l-2.8-3.1zM262.4 233.5l2.8 3.1l2.8-1.2l-2.8-3.1zM245.9 236.1l2.8 3.1l2.8-1.1l-2.8-3.1zM243.2 237.2l2.8 3l2.7-1l-2.8-3.1zM240.4 238.3l2.9 3l2.7-1.1l-2.8-3z" fill="#b8ff00" stroke="#b8ff00"/>
<path d="M281.7 224.8l2.8 3.1l2.7-1.3l-2.8-3.1zM267.9 226.8l2.8 3.1l2.7-1.3l-2.8-3.1zM265.1 228l2.8 3.1l2.8-1.2l-2.8-3.1zM251.3 229.7l2.8 3.1l2.8-1.2l-2.8-3.1zM248.6 230.9l2.8 3l2.7-1.1l-2.8-3.1zM232 233.4l2.9 3l2.7-1.1l-2.8-3zM229.3 234.5l2.8 2.9l2.8-1l-2.9-3z" fill="#f7ff00" stroke="#f7ff00"/>
<path d="M287.2 226.6l2.8 3l2.7-1.3l-2.7-3zM270.7 229.9l2.8 3.1l2.7-1.3l-2.8-3.1zM254.1 232.8l2.9 3l2.7-1.1l-2.8-3.1zM251.4 233.9l2.8 3.1l2.8-1.2l-2.9-3zM234.9 236.4l2.8 3l2.7-1.1l-2.8-3zM232.1 237.4l2.9 3l2.7-1l-2.8-3z" fill="#d1ff00" stroke="#d1ff00"/>
<path d="M292.7 228.3l2.8 3l2.7-1.4l-2.7-2.9zM276.2 231.7l2.8 3.1l2.7-1.3l-2.7-3zM259.7 234.7l2.8 3l2.7-1.1l-2.8-3.1zM257 235.8l2.8 3.1l2.7-1.2l-2.8-3zM237.7 239.4l2.8 2.9l2.8-1l-2.9-3zM235 240.4l2.8 2.9l2.7-1l-2.8-2.9z" fill="#abff00" stroke="#abff00"/>
<path d="M298.2 229.9l2.8 3l2.7-1.4l-2.7-2.9zM284.5 232.2l2.8 3l2.7-1.3l-2.8-3zM268 235.4l2.8 3l2.7-1.2l-2.8-3zM265.2 236.6l2.8 3l2.8-1.2l-2.8-3zM248.7 239.2l2.9 3l2.7-1.1l-2.8-3zM246 240.2l2.8 3l2.8-1l-2.9-3zM243.3 241.3l2.8 3l2.7-1.1l-2.8-3z" fill="#92ff00" stroke="#92ff00"/>
<path d="M284.5 227.9l2.7 3l2.8-1.3l-2.8-3zM267.9 231.1l2.8 3.1l2.8-1.2l-2.8-3.1zM248.7 235l2.8 3.1l2.7-1.1l-2.8-3.1z" fill="#c5ff00" stroke="#c5ff00"/>
<path d="M290 229.6l2.7 3l2.8-1.3l-2.8-3zM287.2 230.9l2.8 3l2.7-1.3l-2.7-3zM273.5 233l2.8 3l2.7-1.2l-2.8-3.1zM270.7 234.2l2.8 3l2.8-1.2l-2.8-3zM254.2 237l2.8 3l2.8-1.1l-2.8-3.1zM251.5 238.1l2.8 3l2.7-1.1l-2.8-3z" fill="#9fff00" stroke="#9fff00"/>
<path d="M295.5 231.3l2.7 2.9l2.8-1.3l-2.8-3zM281.7 233.5l2.8 3l2.8-1.3l-2.8-3zM279 234.8l2.8 3l2.7-1.3l-2.8-3zM262.5 237.7l2.8 3.1l2.7-1.2l-2.8-3zM259.8 238.9l2.8 3l2.7-1.1l-2.8-3.1zM240.5 242.3l2.8 3l2.8-1l-2.8-3zM237.8 243.3l2.8 3l2.7-1l-2.8-3z" fill="#85ff00" stroke="#85ff00"/>
<path d="M301 232.9l2.7 2.9l2.8-1.4l-2.8-2.9zM284.5 236.5l2.8 3l2.7-1.3l-2.7-3zM268 239.6l2.8 3l2.8-1.2l-2.8-3zM265.3 240.8l2.8 3l2.7-1.2l-2.8-3zM243.3 245.3l2.9 3l2.7-1.1l-2.8-2.9zM240.6 246.3l2.8 2.9l2.8-.9l-2.9-3z" fill="#5fff00" stroke="#5fff00"/>
<path d="M292.7 232.6l2.8 3l2.7-1.4l-2.7-2.9zM276.3 236l2.7 3l2.8-1.2l-2.8-3zM257 240l2.8 3l2.8-1.1l-2.8-3zM254.3 241.1l2.8 3l2.7-1.1l-2.8-3z" fill="#79ff00" stroke="#79ff00"/>
<path d="M298.2 234.2l2.8 3l2.7-1.4l-2.7-2.9zM295.5 235.6l2.7 2.9l2.8-1.3l-2.8-3zM281.8 237.8l2.7 3l2.8-1.3l-2.8-3zM279 239l2.8 3l2.7-1.2l-2.7-3zM262.6 241.9l2.8 3l2.7-1.1l-2.8-3zM259.8 243l2.8 3l2.8-1.1l-2.8-3zM257.1 244.1l2.8 3l2.7-1.1l-2.8-3z" fill="#52ff00" stroke="#52ff00"/>
<path d="M303.7 235.8l2.7 2.8l2.8-1.4l-2.7-2.8zM290 238.2l2.7 3l2.8-1.4l-2.8-2.9zM287.3 239.5l2.7 2.9l2.7-1.2l-2.7-3zM270.8 242.6l2.8 3l2.7-1.2l-2.7-3zM268.1 243.8l2.8 3l2.7-1.2l-2.8-3zM246.2 248.3l2.8 2.9l2.7-1l-2.8-3zM243.4 249.2l2.8 3l2.8-1l-2.8-2.9z" fill="#39ff00" stroke="#39ff00"/>
<path d="M290 233.9l2.7 3l2.8-1.3l-2.8-3zM287.3 235.2l2.7 3l2.7-1.3l-2.7-3zM273.5 237.2l2.8 3l2.7-1.2l-2.7-3zM270.8 238.4l2.8 3l2.7-1.2l-2.8-3zM251.6 242.2l2.8 3l2.7-1.1l-2.8-3zM248.8 243.2l2.8 3l2.8-1l-2.8-3zM246.1 244.3l2.8 2.9l2.7-1l-2.8-3z" fill="#6cff00" stroke="#6cff00"/>
<path d="M301 237.2l2.7 2.8l2.7-1.4l-2.7-2.8zM284.5 240.8l2.8 2.9l2.7-1.3l-2.7-2.9zM265.4 244.9l2.7 3l2.8-1.1l-2.8-3zM262.6 246l2.8 3l2.7-1.1l-2.7-3zM259.9 247.1l2.8 3l2.7-1.1l-2.8-3z" fill="#2cff00" stroke="#2cff00"/>
<path d="M306.4 238.6l2.7 2.8l2.8-1.4l-2.7-2.8zM292.7 241.2l2.8 2.9l2.7-1.4l-2.7-2.9zM276.3 244.4l2.8 3l2.7-1.2l-2.7-3zM273.6 245.6l2.8 3l2.7-1.2l-2.8-3zM270.9 246.8l2.7 2.9l2.8-1.1l-2.8-3zM246.2 252.2l2.8 2.9l2.8-.9l-2.8-3z" fill="#13ff00" stroke="#13ff00"/>
<path d="M292.7 236.9l2.8 2.9l2.7-1.3l-2.7-2.9zM276.3 240.2l2.8 3l2.7-1.2l-2.8-3zM273.6 241.4l2.7 3l2.8-1.2l-2.8-3zM254.4 245.2l2.8 3l2.7-1.1l-2.8-3zM251.6 246.2l2.8 3l2.8-1l-2.8-3zM248.9 247.2l2.8 3l2.7-1l-2.8-3z" fill="#46ff00" stroke="#46ff00"/>
<path d="M298.2 238.5l2.8 2.9l2.7-1.4l-2.7-2.8zM295.5 239.8l2.7 2.9l2.8-1.3l-2.8-2.9zM281.8 242l2.7 3l2.8-1.3l-2.8-2.9zM279.1 243.2l2.7 3l2.7-1.2l-2.7-3zM257.2 248.2l2.7 2.9l2.8-1l-2.8-3zM254.4 249.2l2.8 3l2.7-1.1l-2.7-2.9zM251.7 250.2l2.8 3l2.7-1l-2.8-3zM249 251.2l2.8 3l2.7-1l-2.8-3z" fill="#20ff00" stroke="#20ff00"/>
<path d="M303.7 240l2.7 2.8l2.7-1.4l-2.7-2.8zM290 242.4l2.8 3l2.7-1.3l-2.8-2.9zM287.3 243.7l2.7 2.9l2.8-1.2l-2.8-3zM268.1 247.9l2.8 3l2.7-1.2l-2.7-2.9zM265.4 249l2.8 3l2.7-1.1l-2.8-3zM262.7 250.1l2.7 3l2.8-1.1l-2.8-3z" fill="#06ff00" stroke="#06ff00"/>
<path d="M309.1 241.4l2.8 2.8l2.7-1.5l-2.7-2.7zM295.5 244.1l2.7 2.8l2.7-1.3l-2.7-2.9zM279.1 247.4l2.7 2.9l2.8-1.2l-2.8-2.9zM276.4 248.6l2.7 2.9l2.7-1.2l-2.7-2.9zM273.6 249.7l2.8 3l2.7-1.2l-2.7-2.9z" fill="#00ff14" stroke="#00ff14"/>
<path d="M301 241.4l2.7 2.8l2.7-1.4l-2.7-2.8zM298.2 242.7l2.7 2.9l2.8-1.4l-2.7-2.8zM284.5 245l2.8 2.9l2.7-1.3l-2.7-2.9zM281.8 246.2l2.8 2.9l2.7-1.2l-2.8-2.9zM259.9 251.1l2.8 3l2.7-1l-2.7-3zM257.2 252.2l2.8 2.9l2.7-1l-2.8-3zM254.5 253.2l2.8 3l2.7-1.1l-2.8-2.9zM251.8 254.2l2.7 2.9l2.8-.9l-2.8-3zM249 255.1l2.8 3l2.7-1l-2.7-2.9z" fill="#00ff07" stroke="#00ff07"/>
<path d="M306.4 242.8l2.7 2.8l2.8-1.4l-2.8-2.8zM292.8 245.4l2.7 2.8l2.7-1.3l-2.7-2.8zM290 246.6l2.8 2.9l2.7-1.3l-2.7-2.8zM270.9 250.9l2.8 2.9l2.7-1.1l-2.8-3zM268.2 252l2.7 2.9l2.8-1.1l-2.8-2.9zM265.4 253.1l2.8 2.9l2.7-1.1l-2.7-2.9z" fill="#00ff21" stroke="#00ff21"/>
<path d="M311.9 244.2l2.6 2.7l2.8-1.5l-2.7-2.7zM298.2 246.9l2.7 2.8l2.8-1.3l-2.8-2.8zM281.8 250.3l2.8 3l2.7-1.3l-2.7-2.9zM279.1 251.5l2.8 2.9l2.7-1.1l-2.8-3zM276.4 252.7l2.7 2.9l2.8-1.2l-2.8-2.9z" fill="#00ff3b" stroke="#00ff3b"/>
<path d="M303.7 244.2l2.7 2.8l2.7-1.4l-2.7-2.8zM300.9 245.6l2.8 2.8l2.7-1.4l-2.7-2.8zM287.3 247.9l2.7 2.9l2.8-1.3l-2.8-2.9zM284.6 249.1l2.7 2.9l2.7-1.2l-2.7-2.9zM262.7 254.1l2.8 3l2.7-1.1l-2.8-2.9zM260 255.1l2.8 3l2.7-1l-2.8-3zM257.3 256.2l2.7 2.9l2.8-1l-2.8-3zM254.5 257.1l2.8 3l2.7-1l-2.7-2.9zM251.8 258.1l2.8 2.9l2.7-.9l-2.8-3z" fill="#00ff2e" stroke="#00ff2e"/>
<path d="M309.1 245.6l2.7 2.7l2.7-1.4l-2.6-2.7zM295.5 248.2l2.7 2.9l2.7-1.4l-2.7-2.8zM292.8 249.5l2.7 2.9l2.7-1.3l-2.7-2.9zM273.7 253.8l2.7 3l2.7-1.2l-2.7-2.9zM270.9 254.9l2.8 3l2.7-1.1l-2.7-3zM268.2 256l2.8 3l2.7-1.1l-2.8-3zM265.5 257.1l2.8 2.9l2.7-1l-2.8-3z" fill="#00ff48" stroke="#00ff48"/>
<path d="M314.5 246.9l2.7 2.6l2.8-1.5l-2.7-2.6zM300.9 249.7l2.7 2.8l2.8-1.4l-2.7-2.7zM284.6 253.3l2.7 2.8l2.7-1.2l-2.7-2.9zM281.9 254.4l2.7 2.9l2.7-1.2l-2.7-2.8zM279.1 255.6l2.8 2.9l2.7-1.2l-2.7-2.9z" fill="#00ff62" stroke="#00ff62"/>
<path d="M306.4 247l2.7 2.7l2.7-1.4l-2.7-2.7zM303.7 248.4l2.7 2.7l2.7-1.4l-2.7-2.7zM290 250.8l2.8 2.9l2.7-1.3l-2.7-2.9zM287.3 252l2.7 2.9l2.8-1.2l-2.8-2.9zM262.8 258.1l2.7 3l2.8-1.1l-2.8-2.9zM260 259.1l2.8 3l2.7-1l-2.7-3zM257.3 260.1l2.8 2.9l2.7-.9l-2.8-3zM254.6 261l2.8 3l2.7-1l-2.8-2.9z" fill="#00ff55" stroke="#00ff55"/>
<path d="M311.8 248.3l2.7 2.7l2.7-1.5l-2.7-2.6zM298.2 251.1l2.7 2.8l2.7-1.4l-2.7-2.8zM295.5 252.4l2.7 2.8l2.7-1.3l-2.7-2.8zM276.4 256.8l2.8 2.9l2.7-1.2l-2.8-2.9zM273.7 257.9l2.7 2.9l2.8-1.1l-2.8-2.9zM271 259l2.7 2.9l2.7-1.1l-2.7-2.9zM268.3 260l2.7 3l2.7-1.1l-2.7-2.9zM265.5 261.1l2.8 2.9l2.7-1l-2.7-3zM262.8 262.1l2.8 2.9l2.7-1l-2.8-2.9zM260.1 263l2.8 3l2.7-1l-2.8-2.9zM257.4 264l2.8 3l2.7-1l-2.8-3z" fill="#00ff6f" stroke="#00ff6f"/>
<path d="M317.2 249.5l2.7 2.6l2.7-1.5l-2.6-2.6zM303.6 252.5l2.7 2.7l2.8-1.3l-2.7-2.8zM300.9 253.9l2.7 2.7l2.7-1.4l-2.7-2.7zM284.6 257.3l2.7 2.9l2.7-1.2l-2.7-2.9zM281.9 258.5l2.7 2.9l2.7-1.2l-2.7-2.9zM279.2 259.7l2.7 2.9l2.7-1.2l-2.7-2.9z" fill="#00ff89" stroke="#00ff89"/>
<path d="M309.1 249.7l2.7 2.7l2.7-1.4l-2.7-2.7zM306.4 251.1l2.7 2.8l2.7-1.5l-2.7-2.7zM292.8 253.7l2.7 2.8l2.7-1.3l-2.7-2.8zM290 254.9l2.8 2.9l2.7-1.3l-2.7-2.8zM287.3 256.1l2.7 2.9l2.8-1.2l-2.8-2.9z" fill="#00ff7c" stroke="#00ff7c"/>
<path d="M314.5 251l2.7 2.6l2.7-1.5l-2.7-2.6zM311.8 252.4l2.7 2.7l2.7-1.5l-2.7-2.6zM298.2 255.2l2.7 2.8l2.7-1.4l-2.7-2.7zM295.5 256.5l2.7 2.8l2.7-1.3l-2.7-2.8zM276.4 260.8l2.8 2.9l2.7-1.1l-2.7-2.9zM273.7 261.9l2.8 2.9l2.7-1.1l-2.8-2.9zM271 263l2.8 2.9l2.7-1.1l-2.8-2.9zM268.3 264l2.8 2.9l2.7-1l-2.8-2.9zM265.6 265l2.7 3l2.8-1.1l-2.8-2.9zM262.9 266l2.7 2.9l2.7-.9l-2.7-3zM260.2 267l2.7 2.9l2.7-1l-2.7-2.9z" fill="#00ff96" stroke="#00ff96"/>
<path d="M319.9 252.1l2.7 2.6l2.7-1.6l-2.7-2.5zM317.2 253.6l2.7 2.6l2.7-1.5l-2.7-2.6zM306.3 255.2l2.7 2.7l2.7-1.4l-2.6-2.6zM303.6 256.6l2.7 2.7l2.7-1.4l-2.7-2.7zM287.3 260.2l2.7 2.9l2.8-1.3l-2.8-2.8zM284.6 261.4l2.7 2.9l2.7-1.2l-2.7-2.9zM281.9 262.6l2.7 2.9l2.7-1.2l-2.7-2.9zM279.2 263.7l2.7 2.9l2.7-1.1l-2.7-2.9zM276.5 264.8l2.7 2.9l2.7-1.1l-2.7-2.9z" fill="#00ffb1" stroke="#00ffb1"/>
<path d="M322.6 254.7l2.6 2.4l2.8-1.5l-2.7-2.5zM311.7 256.5l2.7 2.6l2.7-1.4l-2.6-2.6zM309 257.9l2.7 2.7l2.7-1.5l-2.7-2.6zM295.5 260.6l2.7 2.8l2.7-1.4l-2.7-2.7zM292.8 261.8l2.7 2.8l2.7-1.2l-2.7-2.8zM290 263.1l2.8 2.8l2.7-1.3l-2.7-2.8z" fill="#00ffcb" stroke="#00ffcb"/>
<path d="M309.1 253.9l2.6 2.6l2.8-1.4l-2.7-2.7zM292.8 257.8l2.7 2.8l2.7-1.3l-2.7-2.8zM290 259l2.8 2.8l2.7-1.2l-2.7-2.8z" fill="#00ffa3" stroke="#00ffa3"/>
<path d="M314.5 255.1l2.6 2.6l2.8-1.5l-2.7-2.6zM300.9 258l2.7 2.7l2.7-1.4l-2.7-2.7zM298.2 259.3l2.7 2.7l2.7-1.3l-2.7-2.7zM273.8 265.9l2.7 2.9l2.7-1.1l-2.7-2.9zM271.1 266.9l2.7 3l2.7-1.1l-2.7-2.9zM268.3 268l2.8 2.9l2.7-1l-2.7-3zM265.6 268.9l2.8 3l2.7-1l-2.8-2.9zM262.9 269.9l2.8 2.9l2.7-.9l-2.8-3z" fill="#00ffbe" stroke="#00ffbe"/>
<path d="M319.9 256.2l2.6 2.5l2.7-1.6l-2.6-2.4zM306.3 259.3l2.7 2.7l2.7-1.4l-2.7-2.7zM303.6 260.7l2.7 2.7l2.7-1.4l-2.7-2.7zM287.3 264.3l2.8 2.8l2.7-1.2l-2.8-2.8zM284.6 265.5l2.7 2.8l2.8-1.2l-2.8-2.8zM281.9 266.6l2.7 2.9l2.7-1.2l-2.7-2.8zM279.2 267.7l2.7 2.9l2.7-1.1l-2.7-2.9zM276.5 268.8l2.7 2.9l2.7-1.1l-2.7-2.9zM273.8 269.9l2.7 2.9l2.7-1.1l-2.7-2.9zM271.1 270.9l2.7 2.9l2.7-1l-2.7-2.9zM268.4 271.9l2.7 2.9l2.7-1l-2.7-2.9zM265.7 272.8l2.7 3l2.7-1l-2.7-2.9z" fill="#00ffd8" stroke="#00ffd8"/>
<path d="M325.2 257.1l2.7 2.5l2.7-1.6l-2.6-2.4zM322.5 258.7l2.7 2.5l2.7-1.6l-2.7-2.5zM311.7 260.6l2.7 2.6l2.7-1.5l-2.7-2.6zM309 262l2.7 2.7l2.7-1.5l-2.7-2.6zM295.5 264.6l2.7 2.8l2.7-1.3l-2.7-2.7zM292.8 265.9l2.7 2.8l2.7-1.3l-2.7-2.8zM290.1 267.1l2.7 2.8l2.7-1.2l-2.7-2.8zM287.3 268.3l2.8 2.8l2.7-1.2l-2.7-2.8z" fill="#00fff2" stroke="#00fff2"/>
<path d="M317.1 257.7l2.7 2.5l2.7-1.5l-2.6-2.5zM314.4 259.1l2.7 2.6l2.7-1.5l-2.7-2.5zM300.9 262l2.7 2.8l2.7-1.4l-2.7-2.7zM298.2 263.4l2.7 2.7l2.7-1.3l-2.7-2.8z" fill="#00ffe5" stroke="#00ffe5"/>
<path d="M327.9 259.6l2.7 2.4l2.7-1.7l-2.7-2.3zM317.1 261.7l2.7 2.6l2.7-1.6l-2.7-2.5zM314.4 263.2l2.7 2.6l2.7-1.5l-2.7-2.6zM300.9 266.1l2.7 2.7l2.7-1.3l-2.7-2.7zM298.2 267.4l2.7 2.8l2.7-1.4l-2.7-2.7z" fill="#00f1ff" stroke="#00f1ff"/>
<path d="M319.8 260.2l2.7 2.5l2.7-1.5l-2.7-2.5zM306.3 263.4l2.7 2.7l2.7-1.4l-2.7-2.7zM303.6 264.8l2.7 2.7l2.7-1.4l-2.7-2.7zM284.6 269.5l2.8 2.8l2.7-1.2l-2.8-2.8zM281.9 270.6l2.8 2.9l2.7-1.2l-2.8-2.8zM279.2 271.7l2.8 2.9l2.7-1.1l-2.8-2.9zM276.5 272.8l2.8 2.9l2.7-1.1l-2.8-2.9zM273.8 273.8l2.8 2.9l2.7-1l-2.8-2.9zM271.1 274.8l2.8 3l2.7-1.1l-2.8-2.9zM268.4 275.8l2.8 2.9l2.7-.9l-2.8-3z" fill="#00ffff" stroke="#00ffff"/>
<path d="M325.2 261.2l2.6 2.4l2.8-1.6l-2.7-2.4zM311.7 264.7l2.7 2.5l2.7-1.4l-2.7-2.6zM309 266.1l2.7 2.6l2.7-1.5l-2.7-2.5zM295.5 268.7l2.7 2.8l2.7-1.3l-2.7-2.8zM292.8 269.9l2.7 2.8l2.7-1.2l-2.7-2.8zM290.1 271.1l2.7 2.9l2.7-1.3l-2.7-2.8zM287.4 272.3l2.7 2.9l2.7-1.2l-2.7-2.9zM284.7 273.5l2.7 2.8l2.7-1.1l-2.7-2.9zM282 274.6l2.7 2.9l2.7-1.2l-2.7-2.8zM279.3 275.7l2.7 2.9l2.7-1.1l-2.7-2.9zM276.6 276.7l2.7 2.9l2.7-1l-2.7-2.9zM273.9 277.8l2.7 2.9l2.7-1.1l-2.7-2.9zM271.2 278.7l2.7 3l2.7-1l-2.7-2.9z" fill="#00e4ff" stroke="#00e4ff"/>
<path d="M330.6 262l2.6 2.3l2.7-1.7l-2.6-2.3zM322.5 262.7l2.6 2.5l2.7-1.6l-2.6-2.4zM319.8 264.3l2.6 2.4l2.7-1.5l-2.6-2.5zM306.3 267.5l2.7 2.6l2.7-1.4l-2.7-2.6zM303.6 268.8l2.7 2.7l2.7-1.4l-2.7-2.6z" fill="#00d6ff" stroke="#00d6ff"/>
<path d="M327.8 263.6l2.7 2.3l2.7-1.6l-2.6-2.3zM317.1 265.8l2.6 2.5l2.7-1.6l-2.6-2.4zM314.4 267.2l2.6 2.6l2.7-1.5l-2.6-2.5zM300.9 270.2l2.7 2.7l2.7-1.4l-2.7-2.7zM298.2 271.5l2.7 2.7l2.7-1.3l-2.7-2.7zM295.5 272.7l2.7 2.8l2.7-1.3l-2.7-2.7zM292.8 274l2.7 2.7l2.7-1.2l-2.7-2.8z" fill="#00c8ff" stroke="#00c8ff"/>
<path d="M333.2 264.3l2.7 2.2l2.7-1.7l-2.7-2.2zM325.1 265.2l2.7 2.4l2.7-1.7l-2.7-2.3zM322.4 266.7l2.7 2.5l2.7-1.6l-2.7-2.4zM311.7 268.7l2.6 2.6l2.7-1.5l-2.6-2.6zM309 270.1l2.6 2.6l2.7-1.4l-2.6-2.6zM290.1 275.2l2.7 2.8l2.7-1.3l-2.7-2.7zM287.4 276.3l2.7 2.9l2.7-1.2l-2.7-2.8zM284.7 277.5l2.7 2.8l2.7-1.1l-2.7-2.9zM282 278.6l2.7 2.9l2.7-1.2l-2.7-2.8zM279.3 279.6l2.7 2.9l2.7-1l-2.7-2.9zM276.6 280.7l2.7 2.9l2.7-1.1l-2.7-2.9zM273.9 281.7l2.7 2.9l2.7-1l-2.7-2.9z" fill="#00baff" stroke="#00baff"/>
<path d="M330.5 265.9l2.7 2.3l2.7-1.7l-2.7-2.2zM319.7 268.3l2.7 2.5l2.7-1.6l-2.7-2.5zM306.3 271.5l2.6 2.7l2.7-1.5l-2.6-2.6zM303.6 272.9l2.6 2.6l2.7-1.3l-2.6-2.7zM300.9 274.2l2.6 2.7l2.7-1.4l-2.6-2.6z" fill="#00adff" stroke="#00adff"/>
<path d="M327.8 267.6l2.6 2.3l2.8-1.7l-2.7-2.3zM317 269.8l2.7 2.5l2.7-1.5l-2.7-2.5zM314.3 271.3l2.7 2.5l2.7-1.5l-2.7-2.5zM298.2 275.5l2.7 2.7l2.6-1.3l-2.6-2.7zM295.5 276.7l2.7 2.8l2.7-1.3l-2.7-2.7zM292.8 278l2.7 2.8l2.7-1.3l-2.7-2.8zM290.1 279.2l2.7 2.8l2.7-1.2l-2.7-2.8zM287.4 280.3l2.7 2.9l2.7-1.2l-2.7-2.8zM284.7 281.5l2.7 2.8l2.7-1.1l-2.7-2.9zM282 282.5l2.7 2.9l2.7-1.1l-2.7-2.8zM279.3 283.6l2.8 2.9l2.6-1.1l-2.7-2.9zM276.6 284.6l2.8 2.9l2.7-1l-2.8-2.9z" fill="#009fff" stroke="#009fff"/>
<path d="M325.1 269.2l2.6 2.4l2.7-1.7l-2.6-2.3zM322.4 270.8l2.6 2.4l2.7-1.6l-2.6-2.4zM311.6 272.7l2.7 2.6l2.7-1.5l-2.7-2.5zM308.9 274.2l2.7 2.6l2.7-1.5l-2.7-2.6zM306.2 275.5l2.7 2.7l2.7-1.4l-2.7-2.6z" fill="#0091ff" stroke="#0091ff"/>
<path d="M319.7 272.3l2.6 2.5l2.7-1.6l-2.6-2.4zM317 273.8l2.7 2.5l2.6-1.5l-2.6-2.5zM303.5 276.9l2.7 2.7l2.7-1.4l-2.7-2.7zM300.9 278.2l2.6 2.7l2.7-1.3l-2.7-2.7zM298.2 279.5l2.7 2.8l2.6-1.4l-2.6-2.7zM295.5 280.8l2.7 2.7l2.7-1.2l-2.7-2.8zM279.4 287.5l2.7 3l2.7-1.1l-2.7-2.9z" fill="#0084ff" stroke="#0084ff"/>
<path d="M314.3 275.3l2.7 2.6l2.7-1.6l-2.7-2.5zM311.6 276.8l2.7 2.5l2.7-1.4l-2.7-2.6zM292.8 282l2.7 2.8l2.7-1.3l-2.7-2.7zM290.1 283.2l2.7 2.8l2.7-1.2l-2.7-2.8zM287.4 284.3l2.7 2.9l2.7-1.2l-2.7-2.8zM284.7 285.4l2.8 2.9l2.6-1.1l-2.7-2.9zM282.1 286.5l2.7 2.9l2.7-1.1l-2.8-2.9z" fill="#0076ff" stroke="#0076ff"/>
<path d="M308.9 278.2l2.7 2.6l2.7-1.5l-2.7-2.5zM306.2 279.6l2.7 2.6l2.7-1.4l-2.7-2.6zM303.5 280.9l2.7 2.7l2.7-1.4l-2.7-2.6z" fill="#0068ff" stroke="#0068ff"/>
<path d="M300.9 282.3l2.6 2.7l2.7-1.4l-2.7-2.7zM298.2 283.5l2.7 2.8l2.6-1.3l-2.6-2.7zM295.5 284.8l2.7 2.8l2.7-1.3l-2.7-2.8zM292.8 286l2.7 2.8l2.7-1.2l-2.7-2.8zM290.1 287.2l2.7 2.8l2.7-1.2l-2.7-2.8zM287.5 288.3l2.7 2.9l2.6-1.2l-2.7-2.8zM284.8 289.4l2.7 2.9l2.7-1.1l-2.7-2.9zM282.1 290.5l2.7 2.9l2.7-1.1l-2.7-2.9z" fill="#005aff" stroke="#005aff"/>
</g>
<path d="M229.3 234.5 L232 233.4 L234.8 232.3 L237.5 231.2 L240.2 230.1 L243 229 L245.7 227.8 L248.5 226.6 L251.2 225.4 L254 224.2 L256.7 223 L259.5 221.8 L262.2 220.5 L265 219.2 L267.7 218 L270.5 216.7 L273.3 215.4 L276 214 L278.8 212.7 L281.5 211.4 L284.3 210 M229.3 234.5 L232.1 237.4 L235 240.4 L237.8 243.3 L240.6 246.3 L243.4 249.2 L246.2 252.2 L249 255.1 L251.8 258.1 L254.6 261 L257.4 264 L260.2 267 L262.9 269.9 L265.7 272.8 L268.4 275.8 L271.2 278.7 L273.9 281.7 L276.6 284.6 L279.4 287.5 L282.1 290.5 L284.8 293.4 M232.1 237.4 L234.9 236.4 L237.6 235.3 L240.3 234.2 L243.1 233.1 L245.8 232 L248.6 230.9 L251.3 229.7 L254.1 228.5 L256.8 227.3 L259.6 226.1 L262.3 224.9 L265.1 223.7 L267.8 222.4 L270.6 221.1 L273.3 219.9 L276.1 218.6 L278.8 217.2 L281.6 215.9 L284.4 214.6 L287.1 213.2 M232 233.4 L234.9 236.4 L237.7 239.4 L240.5 242.3 L243.3 245.3 L246.2 248.3 L249 251.2 L251.8 254.2 L254.5 257.1 L257.3 260.1 L260.1 263 L262.9 266 L265.6 268.9 L268.4 271.9 L271.1 274.8 L273.9 277.8 L276.6 280.7 L279.3 283.6 L282.1 286.5 L284.8 289.4 L287.5 292.3 M235 240.4 L237.7 239.4 L240.4 238.3 L243.2 237.2 L245.9 236.1 L248.7 235 L251.4 233.9 L254.1 232.8 L256.9 231.6 L259.6 230.4 L262.4 229.2 L265.1 228 L267.9 226.8 L270.6 225.5 L273.4 224.3 L276.1 223 L278.9 221.7 L281.6 220.4 L284.4 219.1 L287.2 217.7 L289.9 216.4 M234.8 232.3 L237.6 235.3 L240.4 238.3 L243.3 241.3 L246.1 244.3 L248.9 247.2 L251.7 250.2 L254.5 253.2 L257.3 256.2 L260 259.1 L262.8 262.1 L265.6 265 L268.3 268 L271.1 270.9 L273.8 273.8 L276.6 276.7 L279.3 279.6 L282 282.5 L284.7 285.4 L287.5 288.3 L290.2 291.2 M237.8 243.3 L240.5 242.3 L243.3 241.3 L246 240.2 L248.7 239.2 L251.5 238.1 L254.2 237 L257 235.8 L259.7 234.7 L262.4 233.5 L265.2 232.3 L267.9 231.1 L270.7 229.9 L273.4 228.6 L276.2 227.4 L278.9 226.1 L281.7 224.8 L284.4 223.5 L287.2 222.2 L290 220.8 L292.7 219.5 M237.5 231.2 L240.3 234.2 L243.2 237.2 L246 240.2 L248.8 243.2 L251.6 246.2 L254.4 249.2 L257.2 252.2 L260 255.1 L262.8 258.1 L265.5 261.1 L268.3 264 L271.1 266.9 L273.8 269.9 L276.5 272.8 L279.3 275.7 L282 278.6 L284.7 281.5 L287.4 284.3 L290.1 287.2 L292.8 290 M240.6 246.3 L243.3 245.3 L246.1 244.3 L248.8 243.2 L251.6 242.2 L254.3 241.1 L257 240 L259.8 238.9 L262.5 237.7 L265.2 236.6 L268 235.4 L270.7 234.2 L273.5 233 L276.2 231.7 L279 230.5 L281.7 229.2 L284.5 227.9 L287.2 226.6 L290 225.3 L292.7 223.9 L295.5 222.6 M240.2 230.1 L243.1 233.1 L245.9 236.1 L248.7 239.2 L251.6 242.2 L254.4 245.2 L257.2 248.2 L259.9 251.1 L262.7 254.1 L265.5 257.1 L268.3 260 L271 263 L273.8 265.9 L276.5 268.8 L279.2 271.7 L282 274.6 L284.7 277.5 L287.4 280.3 L290.1 283.2 L292.8 286 L295.5 288.8 M243.4 249.2 L246.2 248.3 L248.9 247.2 L251.6 246.2 L254.4 245.2 L257.1 244.1 L259.8 243 L262.6 241.9 L265.3 240.8 L268 239.6 L270.8 238.4 L273.5 237.2 L276.3 236 L279 234.8 L281.7 233.5 L284.5 232.2 L287.2 230.9 L290 229.6 L292.7 228.3 L295.5 227 L298.2 225.6 M243 229 L245.8 232 L248.7 235 L251.5 238.1 L254.3 241.1 L257.1 244.1 L259.9 247.1 L262.7 250.1 L265.4 253.1 L268.2 256 L271 259 L273.7 261.9 L276.5 264.8 L279.2 267.7 L281.9 270.6 L284.7 273.5 L287.4 276.3 L290.1 279.2 L292.8 282 L295.5 284.8 L298.2 287.6 M246.2 252.2 L249 251.2 L251.7 250.2 L254.4 249.2 L257.2 248.2 L259.9 247.1 L262.6 246 L265.4 244.9 L268.1 243.8 L270.8 242.6 L273.6 241.4 L276.3 240.2 L279 239 L281.8 237.8 L284.5 236.5 L287.3 235.2 L290 233.9 L292.7 232.6 L295.5 231.3 L298.2 229.9 L301 228.6 M245.7 227.8 L248.6 230.9 L251.4 233.9 L254.2 237 L257 240 L259.8 243 L262.6 246 L265.4 249 L268.2 252 L270.9 254.9 L273.7 257.9 L276.4 260.8 L279.2 263.7 L281.9 266.6 L284.6 269.5 L287.4 272.3 L290.1 275.2 L292.8 278 L295.5 280.8 L298.2 283.5 L300.9 286.3 M249 255.1 L251.8 254.2 L254.5 253.2 L257.2 252.2 L259.9 251.1 L262.7 250.1 L265.4 249 L268.1 247.9 L270.9 246.8 L273.6 245.6 L276.3 244.4 L279.1 243.2 L281.8 242 L284.5 240.8 L287.3 239.5 L290 238.2 L292.7 236.9 L295.5 235.6 L298.2 234.2 L301 232.9 L303.7 231.5 M248.5 226.6 L251.3 229.7 L254.1 232.8 L257 235.8 L259.8 238.9 L262.6 241.9 L265.4 244.9 L268.1 247.9 L270.9 250.9 L273.7 253.8 L276.4 256.8 L279.2 259.7 L281.9 262.6 L284.6 265.5 L287.3 268.3 L290.1 271.1 L292.8 274 L295.5 276.7 L298.2 279.5 L300.9 282.3 L303.5 285 M251.8 258.1 L254.5 257.1 L257.3 256.2 L260 255.1 L262.7 254.1 L265.4 253.1 L268.2 252 L270.9 250.9 L273.6 249.7 L276.4 248.6 L279.1 247.4 L281.8 246.2 L284.5 245 L287.3 243.7 L290 242.4 L292.7 241.2 L295.5 239.8 L298.2 238.5 L301 237.2 L303.7 235.8 L306.5 234.4 M251.2 225.4 L254.1 228.5 L256.9 231.6 L259.7 234.7 L262.5 237.7 L265.3 240.8 L268.1 243.8 L270.9 246.8 L273.6 249.7 L276.4 252.7 L279.1 255.6 L281.9 258.5 L284.6 261.4 L287.3 264.3 L290.1 267.1 L292.8 269.9 L295.5 272.7 L298.2 275.5 L300.9 278.2 L303.5 280.9 L306.2 283.6 M254.6 261 L257.3 260.1 L260 259.1 L262.8 258.1 L265.5 257.1 L268.2 256 L270.9 254.9 L273.7 253.8 L276.4 252.7 L279.1 251.5 L281.8 250.3 L284.6 249.1 L287.3 247.9 L290 246.6 L292.8 245.4 L295.5 244.1 L298.2 242.7 L301 241.4 L303.7 240 L306.4 238.6 L309.2 237.2 M254 224.2 L256.8 227.3 L259.6 230.4 L262.4 233.5 L265.2 236.6 L268 239.6 L270.8 242.6 L273.6 245.6 L276.4 248.6 L279.1 251.5 L281.9 254.4 L284.6 257.3 L287.3 260.2 L290 263.1 L292.8 265.9 L295.5 268.7 L298.2 271.5 L300.9 274.2 L303.5 276.9 L306.2 279.6 L308.9 282.2 M257.4 264 L260.1 263 L262.8 262.1 L265.5 261.1 L268.3 260 L271 259 L273.7 257.9 L276.4 256.8 L279.1 255.6 L281.9 254.4 L284.6 253.3 L287.3 252 L290 250.8 L292.8 249.5 L295.5 248.2 L298.2 246.9 L300.9 245.6 L303.7 244.2 L306.4 242.8 L309.1 241.4 L311.9 240 M256.7 223 L259.6 226.1 L262.4 229.2 L265.2 232.3 L268 235.4 L270.8 238.4 L273.6 241.4 L276.3 244.4 L279.1 247.4 L281.8 250.3 L284.6 253.3 L287.3 256.1 L290 259 L292.8 261.8 L295.5 264.6 L298.2 267.4 L300.9 270.2 L303.6 272.9 L306.2 275.5 L308.9 278.2 L311.6 280.8 M260.2 267 L262.9 266 L265.6 265 L268.3 264 L271 263 L273.7 261.9 L276.4 260.8 L279.2 259.7 L281.9 258.5 L284.6 257.3 L287.3 256.1 L290 254.9 L292.8 253.7 L295.5 252.4 L298.2 251.1 L300.9 249.7 L303.7 248.4 L306.4 247 L309.1 245.6 L311.9 244.2 L314.6 242.7 M259.5 221.8 L262.3 224.9 L265.1 228 L267.9 231.1 L270.7 234.2 L273.5 237.2 L276.3 240.2 L279.1 243.2 L281.8 246.2 L284.6 249.1 L287.3 252 L290 254.9 L292.8 257.8 L295.5 260.6 L298.2 263.4 L300.9 266.1 L303.6 268.8 L306.3 271.5 L308.9 274.2 L311.6 276.8 L314.3 279.3 M262.9 269.9 L265.6 268.9 L268.3 268 L271.1 266.9 L273.8 265.9 L276.5 264.8 L279.2 263.7 L281.9 262.6 L284.6 261.4 L287.3 260.2 L290 259 L292.8 257.8 L295.5 256.5 L298.2 255.2 L300.9 253.9 L303.6 252.5 L306.4 251.1 L309.1 249.7 L311.8 248.3 L314.5 246.9 L317.3 245.4 M262.2 220.5 L265.1 223.7 L267.9 226.8 L270.7 229.9 L273.5 233 L276.3 236 L279 239 L281.8 242 L284.5 245 L287.3 247.9 L290 250.8 L292.8 253.7 L295.5 256.5 L298.2 259.3 L300.9 262 L303.6 264.8 L306.3 267.5 L309 270.1 L311.6 272.7 L314.3 275.3 L317 277.9 M265.7 272.8 L268.4 271.9 L271.1 270.9 L273.8 269.9 L276.5 268.8 L279.2 267.7 L281.9 266.6 L284.6 265.5 L287.3 264.3 L290 263.1 L292.8 261.8 L295.5 260.6 L298.2 259.3 L300.9 258 L303.6 256.6 L306.3 255.2 L309.1 253.9 L311.8 252.4 L314.5 251 L317.2 249.5 L320 248 M265 219.2 L267.8 222.4 L270.6 225.5 L273.4 228.6 L276.2 231.7 L279 234.8 L281.8 237.8 L284.5 240.8 L287.3 243.7 L290 246.6 L292.8 249.5 L295.5 252.4 L298.2 255.2 L300.9 258 L303.6 260.7 L306.3 263.4 L309 266.1 L311.7 268.7 L314.3 271.3 L317 273.8 L319.7 276.3 M268.4 275.8 L271.1 274.8 L273.8 273.8 L276.5 272.8 L279.2 271.7 L281.9 270.6 L284.6 269.5 L287.3 268.3 L290.1 267.1 L292.8 265.9 L295.5 264.6 L298.2 263.4 L300.9 262 L303.6 260.7 L306.3 259.3 L309 257.9 L311.7 256.5 L314.5 255.1 L317.2 253.6 L319.9 252.1 L322.6 250.6 M267.7 218 L270.6 221.1 L273.4 224.3 L276.2 227.4 L279 230.5 L281.7 233.5 L284.5 236.5 L287.3 239.5 L290 242.4 L292.8 245.4 L295.5 248.2 L298.2 251.1 L300.9 253.9 L303.6 256.6 L306.3 259.3 L309 262 L311.7 264.7 L314.4 267.2 L317 269.8 L319.7 272.3 L322.3 274.8 M271.2 278.7 L273.9 277.8 L276.6 276.7 L279.3 275.7 L282 274.6 L284.7 273.5 L287.4 272.3 L290.1 271.1 L292.8 269.9 L295.5 268.7 L298.2 267.4 L300.9 266.1 L303.6 264.8 L306.3 263.4 L309 262 L311.7 260.6 L314.4 259.1 L317.1 257.7 L319.9 256.2 L322.6 254.7 L325.3 253.1 M270.5 216.7 L273.3 219.9 L276.1 223 L278.9 226.1 L281.7 229.2 L284.5 232.2 L287.3 235.2 L290 238.2 L292.7 241.2 L295.5 244.1 L298.2 246.9 L300.9 249.7 L303.6 252.5 L306.3 255.2 L309 257.9 L311.7 260.6 L314.4 263.2 L317.1 265.8 L319.7 268.3 L322.4 270.8 L325 273.2 M273.9 281.7 L276.6 280.7 L279.3 279.6 L282 278.6 L284.7 277.5 L287.4 276.3 L290.1 275.2 L292.8 274 L295.5 272.7 L298.2 271.5 L300.9 270.2 L303.6 268.8 L306.3 267.5 L309 266.1 L311.7 264.7 L314.4 263.2 L317.1 261.7 L319.8 260.2 L322.5 258.7 L325.2 257.1 L328 255.6 M273.3 215.4 L276.1 218.6 L278.9 221.7 L281.7 224.8 L284.5 227.9 L287.2 230.9 L290 233.9 L292.7 236.9 L295.5 239.8 L298.2 242.7 L300.9 245.6 L303.7 248.4 L306.4 251.1 L309.1 253.9 L311.7 256.5 L314.4 259.1 L317.1 261.7 L319.8 264.3 L322.4 266.7 L325.1 269.2 L327.7 271.6 M276.6 284.6 L279.3 283.6 L282 282.5 L284.7 281.5 L287.4 280.3 L290.1 279.2 L292.8 278 L295.5 276.7 L298.2 275.5 L300.9 274.2 L303.6 272.9 L306.3 271.5 L309 270.1 L311.7 268.7 L314.4 267.2 L317.1 265.8 L319.8 264.3 L322.5 262.7 L325.2 261.2 L327.9 259.6 L330.6 258 M276 214 L278.8 217.2 L281.6 220.4 L284.4 223.5 L287.2 226.6 L290 229.6 L292.7 232.6 L295.5 235.6 L298.2 238.5 L301 241.4 L303.7 244.2 L306.4 247 L309.1 249.7 L311.8 252.4 L314.5 255.1 L317.1 257.7 L319.8 260.2 L322.5 262.7 L325.1 265.2 L327.8 267.6 L330.4 269.9 M279.4 287.5 L282.1 286.5 L284.7 285.4 L287.4 284.3 L290.1 283.2 L292.8 282 L295.5 280.8 L298.2 279.5 L300.9 278.2 L303.5 276.9 L306.2 275.5 L308.9 274.2 L311.6 272.7 L314.3 271.3 L317 269.8 L319.7 268.3 L322.4 266.7 L325.1 265.2 L327.8 263.6 L330.6 262 L333.3 260.3 M278.8 212.7 L281.6 215.9 L284.4 219.1 L287.2 222.2 L290 225.3 L292.7 228.3 L295.5 231.3 L298.2 234.2 L301 237.2 L303.7 240 L306.4 242.8 L309.1 245.6 L311.8 248.3 L314.5 251 L317.2 253.6 L319.9 256.2 L322.5 258.7 L325.2 261.2 L327.8 263.6 L330.5 265.9 L333.2 268.2 M282.1 290.5 L284.8 289.4 L287.5 288.3 L290.1 287.2 L292.8 286 L295.5 284.8 L298.2 283.5 L300.9 282.3 L303.5 280.9 L306.2 279.6 L308.9 278.2 L311.6 276.8 L314.3 275.3 L317 273.8 L319.7 272.3 L322.4 270.8 L325.1 269.2 L327.8 267.6 L330.5 265.9 L333.2 264.3 L335.9 262.6 M281.5 211.4 L284.4 214.6 L287.2 217.7 L290 220.8 L292.7 223.9 L295.5 227 L298.2 229.9 L301 232.9 L303.7 235.8 L306.4 238.6 L309.1 241.4 L311.9 244.2 L314.5 246.9 L317.2 249.5 L319.9 252.1 L322.6 254.7 L325.2 257.1 L327.9 259.6 L330.6 262 L333.2 264.3 L335.9 266.5 M284.8 293.4 L287.5 292.3 L290.2 291.2 L292.8 290 L295.5 288.8 L298.2 287.6 L300.9 286.3 L303.5 285 L306.2 283.6 L308.9 282.2 L311.6 280.8 L314.3 279.3 L317 277.9 L319.7 276.3 L322.3 274.8 L325 273.2 L327.7 271.6 L330.4 269.9 L333.2 268.2 L335.9 266.5 L338.6 264.8 M284.3 210 L287.1 213.2 L289.9 216.4 L292.7 219.5 L295.5 222.6 L298.2 225.6 L301 228.6 L303.7 231.5 L306.5 234.4 L309.2 237.2 L311.9 240 L314.6 242.7 L317.3 245.4 L320 248 L322.6 250.6 L325.3 253.1 L328 255.6 L330.6 258 L333.3 260.3 L335.9 262.6 L338.6 264.8" fill="none" stroke="#000" stroke-opacity="0.62" stroke-width=".4"/>
<circle cx="228.6" cy="225" r="1.45" fill="#b00000"/>
<circle cx="284.3" cy="205.8" r="1.45" fill="#b00000"/>
<circle cx="284.7" cy="240.7" r="1.45" fill="#b00000"/>
<circle cx="284.4" cy="290.5" r="1.45" fill="#b00000"/>
<circle cx="339.2" cy="265.7" r="0.9" fill="#fff" stroke="#e06080" stroke-width=".4"/>
<path d="M284.5 206V290" stroke="#333" stroke-width=".3" stroke-opacity=".6"/>
<g font-size="5.4" font-weight="bold" fill="#111"><text x="225.6" y="218.1" text-anchor="end">80</text><text x="225.9" y="228.2" text-anchor="end">75</text><text x="226.3" y="238.3" text-anchor="end">70</text><text x="226.6" y="248.4" text-anchor="end">65</text><text x="227" y="258.6" text-anchor="end">60</text><text x="227.3" y="268.7" text-anchor="end">55</text><text x="227.7" y="278.8" text-anchor="end">50</text><text x="225.5" y="297.7" text-anchor="middle">60</text><text x="239.2" y="305.3" text-anchor="middle">54</text><text x="250.1" y="310.8" text-anchor="middle">48</text><text x="260.8" y="315.9" text-anchor="middle">42</text><text x="271.4" y="321.3" text-anchor="middle">36</text><text x="281.5" y="326.2" text-anchor="middle">30</text><text x="288.4" y="326.2" text-anchor="middle">30</text><text x="296.4" y="321.7" text-anchor="middle">36</text><text x="306.4" y="316.2" text-anchor="middle">42</text><text x="316.7" y="310.8" text-anchor="middle">48</text><text x="327.3" y="305.3" text-anchor="middle">54</text><text x="337.6" y="299.9" text-anchor="middle">60</text></g>
<text x="239.5" y="326.1" font-size="5.6" font-weight="bold" fill="#111" text-anchor="middle" textLength="60.7" lengthAdjust="spacingAndGlyphs">B: Solvent-solid ratio <tspan font-weight="normal">(% <tspan font-style="italic">v</tspan>/<tspan font-style="italic">v</tspan>)</tspan></text>
<text x="327.3" y="326.1" font-size="5.6" font-weight="bold" fill="#111" text-anchor="middle" textLength="36.4" lengthAdjust="spacingAndGlyphs">D: Time (minute)</text>
<text x="216.1" y="264" font-size="5.6" font-weight="bold" fill="#111" text-anchor="middle" textLength="53" lengthAdjust="spacingAndGlyphs" transform="rotate(-90 216.1 264)">TFC <tspan font-weight="normal">(mg QE/g extract)</tspan></text>
<text x="200.4" y="183.4" font-size="10.6" font-weight="bold" fill="#000">(k)</text></g>
<g><path d="M428.1 295 L479.5 322.4 L528.7 295 L478.6 274.7 Z" fill="#5b5b5b"/>
<path d="M456.4 283.6 L458.4 283.5 L459.7 283.4 L461.1 283.3 L463.1 283.1 L464.8 282.8 L466 282.7 L468.4 282.3 L469.5 282 L471.7 281.6 L472.8 281.3 L474.9 280.8 L476.4 280.4 L478 280 L480 279.4 L481.9 278.8 L482.9 278.5 L484.8 277.9 L485.7 277.6" fill="none" stroke="#2d2dc8" stroke-width="1.1"/>
<path d="M436.8 291.5 L438.3 291.7 L440 291.8 L441.8 292 L443.6 292.1 L445.3 292.2 L447 292.3 L448.6 292.3 L450.2 292.3 L451.8 292.3 L453.8 292.2 L455.9 292.1 L457.3 292 L458.6 291.8 L460.8 291.6 L462.3 291.3 L463.7 291.1 L465.7 290.7 L467.2 290.3 L468.9 289.9 L470.9 289.3 L471.9 289 L473.9 288.4 L475.7 287.7 L477.6 287.1 L479.3 286.4 L481.1 285.7 L481.9 285.3 L483.6 284.6 L485.3 283.8 L486.1 283.4 L487.7 282.7 L489.3 281.9 L490.9 281.1 L492.5 280.3 L492.5 280.3" fill="none" stroke="#2837d6" stroke-width="1.1"/>
<path d="M468 316.2 L469.6 315.4 L471.2 314.5 L472.8 313.6 L474.3 312.7 L475.5 311.8 L476.4 311.2 L477.9 310.2 L479.3 309.3 L480.4 308.4 L481.3 307.8 L482.6 306.8 L484 305.7 L484.6 305.2 L485.9 304.2 L487.1 303.3 L487.8 302.7 L489.1 301.7 L489.8 301.1 L491 300.1 L492.2 299.1 L492.8 298.5 L494 297.5 L494.6 297 L495.8 295.9 L496.6 295.2 L497.5 294.4 L498.5 293.4 L499.2 292.8 L500.4 291.7 L501 291.2 L502.1 290.2 L502.6 289.7 L503.7 288.6 L504.3 288.1 L505.4 287 L506 286.5 L506.5 286" fill="none" stroke="#1e6ee1" stroke-width="1.1"/>
<path d="M492.7 315 L493.5 313.8 L493.9 313.1 L494.4 312.3 L495.2 311.2 L495.6 310.6 L496.5 309.4 L497.1 308.7 L497.7 307.9 L498.5 306.9 L499 306.3 L500 305.1 L500.5 304.5 L501.5 303.3 L502 302.8 L502.9 301.7 L503.5 301 L504.2 300.2 L505 299.3 L505.5 298.7 L506.5 297.5 L507 296.9 L508 295.8 L508.5 295.2 L509.3 294.3 L509.9 293.5 L510.5 292.9 L511.4 291.8 L511.9 291.2 L512.8 290.1 L513.3 289.5 L513.8 288.9" fill="none" stroke="#0f98e1" stroke-width="1.1"/>
<path d="M512.5 304 L513.3 302.9 L513.7 302.3 L514.5 301.2 L515.1 300.5 L515.5 299.8 L516.4 298.6 L516.8 298 L517.5 297.1 L518.2 296.2 L518.6 295.6 L519.4 294.5 L519.9 293.8 L520.3 293.2 L521.2 292 L521.2 292" fill="none" stroke="#00c3e1" stroke-width="1.1"/>
<path d="M427.2 277.3 L424.4 220.6 M437.5 273.6 L435.2 218 M488.7 262.4 L489.1 210.1 M447.7 269.9 L446 215.4 M498.9 266.1 L499.8 212.7 M458 266.1 L456.7 212.7 M509.1 269.9 L510.6 215.3 M468.3 262.4 L467.5 210.1 M519.3 273.6 L521.3 217.9 M478.5 258.7 L478.3 207.5 M529.5 277.3 L532.1 220.5 M424.4 220.6 L478.3 207.5 L532.1 220.5 M425 231.9 L478.3 217.7 L531.6 231.9 M425.5 243.3 L478.4 228 L531.1 243.2 M426.1 254.6 L478.4 238.2 L530.5 254.6 M426.7 266 L478.5 248.5 L530 265.9 M427.2 277.3 L478.5 258.7 L529.5 277.3" fill="none" stroke="#505050" stroke-width=".5"/>
<path d="M428.1 295 L424.4 220.6" stroke="#666" stroke-width=".5"/>
<path d="M528.7 295 L529.5 277.3" stroke="#777" stroke-width=".4"/>
<path d="M423.5 220.6 h1.6 M424.1 231.9 h1.6 M424.6 243.3 h1.6 M425.2 254.6 h1.6 M425.8 266 h1.6 M426.3 277.3 h1.6" stroke="#111" stroke-width=".8"/>
<g stroke-width=".35" stroke-linejoin="round">
<path d="M475.9 253.4l2.6 .1l2.6-.7l-2.6-.1z" fill="#0000df" stroke="#0000df"/>
<path d="M473.3 254l2.6 .3l2.6-.8l-2.6-.1zM470.8 254.7l2.5 .3l2.6-.7l-2.6-.3z" fill="#0000e1" stroke="#0000e1"/>
<path d="M478.5 253.5l2.6 .2l2.5-.8l-2.5-.1zM468.2 255.3l2.5 .4l2.6-.7l-2.5-.3z" fill="#0000e3" stroke="#0000e3"/>
<path d="M475.9 254.3l2.6 .2l2.6-.8l-2.6-.2zM473.3 255l2.6 .3l2.6-.8l-2.6-.2zM465.6 255.9l2.6 .5l2.5-.7l-2.5-.4zM463 256.6l2.6 .5l2.6-.7l-2.6-.5z" fill="#0000e5" stroke="#0000e5"/>
<path d="M481.1 253.7l2.5 .2l2.6-.9l-2.6-.1zM470.7 255.7l2.6 .3l2.6-.7l-2.6-.3zM468.2 256.4l2.5 .4l2.6-.8l-2.6-.3zM460.4 257.2l2.6 .5l2.6-.6l-2.6-.5z" fill="#0000e7" stroke="#0000e7"/>
<path d="M478.5 254.5l2.5 .2l2.6-.8l-2.5-.2zM475.9 255.3l2.6 .3l2.5-.9l-2.5-.2zM473.3 256l2.6 .4l2.6-.8l-2.6-.3zM465.6 257.1l2.5 .4l2.6-.7l-2.5-.4zM457.8 257.8l2.6 .6l2.6-.7l-2.6-.5zM463 257.7l2.6 .6l2.5-.8l-2.5-.4zM455.2 258.4l2.6 .7l2.6-.7l-2.6-.6z" fill="#0000e9" stroke="#0000e9"/>
<path d="M483.6 253.9l2.6 .2l2.6-1l-2.6-.1zM481 254.7l2.6 .3l2.6-.9l-2.6-.2zM478.5 255.6l2.5 .2l2.6-.8l-2.6-.3zM475.9 256.4l2.6 .3l2.5-.9l-2.5-.2zM473.3 257.2l2.6 .4l2.6-.9l-2.6-.3zM465.6 258.3l2.5 .5l2.6-.8l-2.6-.5zM463 259l2.6 .5l2.5-.7l-2.5-.5zM450 259.7l2.6 .7l2.6-.7l-2.6-.7zM455.2 259.7l2.6 .7l2.6-.7l-2.6-.6zM447.4 260.3l2.6 .7l2.6-.6l-2.6-.7z" fill="#0000ed" stroke="#0000ed"/>
<path d="M486.2 254.1l2.6 .1l2.6-1l-2.6-.1zM483.6 255l2.6 .2l2.6-1l-2.6-.1zM481 255.8l2.6 .3l2.6-.9l-2.6-.2zM478.5 256.7l2.6 .3l2.5-.9l-2.6-.3zM475.9 257.6l2.6 .4l2.6-1l-2.6-.3zM473.3 258.4l2.6 .5l2.6-.9l-2.6-.4zM470.7 259.3l2.6 .4l2.6-.8l-2.6-.5zM463 260.3l2.6 .6l2.6-.8l-2.6-.6zM455.2 261.1l2.6 .7l2.6-.8l-2.6-.6zM460.4 261l2.6 .7l2.6-.8l-2.6-.6zM442.2 261.5l2.6 .8l2.6-.6l-2.6-.8zM447.4 261.7l2.6 .7l2.6-.6l-2.6-.8zM452.6 261.8l2.6 .7l2.6-.7l-2.6-.7z" fill="#0000f0" stroke="#0000f0"/>
<path d="M488.8 254.2l2.6 .2l2.6-1l-2.6-.2zM486.2 255.2l2.6 .2l2.6-1l-2.6-.2zM483.6 256.1l2.6 .3l2.6-1l-2.6-.2zM481.1 257l2.5 .4l2.6-1l-2.6-.3zM478.5 258l2.6 .3l2.5-.9l-2.5-.4zM475.9 258.9l2.6 .4l2.6-1l-2.6-.3zM473.3 259.7l2.6 .5l2.6-.9l-2.6-.4zM470.7 260.6l2.6 .5l2.6-.9l-2.6-.5zM468.2 261.4l2.6 .6l2.5-.9l-2.6-.5zM460.4 262.4l2.6 .7l2.6-.8l-2.6-.6zM447.4 263.1l2.6 .8l2.6-.7l-2.6-.8zM452.6 263.2l2.6 .7l2.6-.7l-2.6-.7zM457.8 263.2l2.6 .7l2.6-.8l-2.6-.7zM434.4 263.2l2.6 .9l2.6-.6l-2.6-.9zM439.6 263.5l2.6 .9l2.6-.7l-2.6-.8zM444.8 263.7l2.6 .9l2.6-.7l-2.6-.8zM450 263.9l2.6 .8l2.6-.8l-2.6-.7z" fill="#0000f4" stroke="#0000f4"/>
<path d="M470.7 256.8l2.6 .4l2.6-.8l-2.6-.4zM468.1 257.5l2.6 .5l2.6-.8l-2.6-.4zM460.4 258.4l2.6 .6l2.6-.7l-2.6-.6zM452.6 259l2.6 .7l2.6-.6l-2.6-.7zM457.8 259.1l2.6 .6l2.6-.7l-2.6-.6z" fill="#0000eb" stroke="#0000eb"/>
<path d="M491.4 254.4l2.6 .1l2.5-1l-2.5-.1zM488.8 255.4l2.6 .2l2.6-1.1l-2.6-.1zM486.2 256.4l2.6 .2l2.6-1l-2.6-.2zM470.8 262l2.6 .5l2.5-.9l-2.6-.5zM468.2 262.9l2.6 .5l2.6-.9l-2.6-.5zM465.6 263.7l2.6 .6l2.6-.9l-2.6-.5zM457.8 264.7l2.6 .7l2.6-.8l-2.6-.7zM463 264.6l2.6 .6l2.6-.9l-2.6-.6zM429.2 264.3l2.6 1l2.6-.6l-2.6-.9zM434.4 264.7l2.6 .9l2.6-.6l-2.6-.9zM439.6 265l2.7 .9l2.6-.7l-2.7-.8zM444.9 265.2l2.6 .9l2.6-.7l-2.7-.8zM450.1 265.4l2.6 .8l2.6-.8l-2.7-.7zM455.3 265.4l2.6 .8l2.5-.8l-2.6-.7zM431.8 265.3l2.6 .9l2.6-.6l-2.6-.9zM437 265.6l2.7 .9l2.6-.6l-2.7-.9zM442.3 265.9l2.6 .8l2.6-.6l-2.6-.9zM447.5 266.1l2.6 .8l2.6-.7l-2.6-.8z" fill="#0000f8" stroke="#0000f8"/>
<path d="M494 254.5l2.6 .2l2.5-1.2l-2.6 0zM491.4 255.6l2.6 .2l2.6-1.1l-2.6-.2zM481.1 261.1l2.6 .4l2.6-1.1l-2.6-.4zM478.5 262.1l2.6 .4l2.6-1l-2.6-.4zM476 263l2.6 .5l2.5-1l-2.6-.4zM473.4 264l2.6 .5l2.6-1l-2.6-.5zM470.8 264.9l2.6 .6l2.6-1l-2.6-.5zM463 266.1l2.7 .6l2.5-.9l-2.6-.6zM460.5 266.9l2.6 .7l2.6-.9l-2.7-.6zM431.8 266.8l2.7 .9l2.6-.6l-2.7-.9zM437.1 267.1l2.6 .9l2.6-.6l-2.6-.9zM442.3 267.4l2.6 .9l2.6-.7l-2.6-.9zM447.5 267.6l2.6 .8l2.6-.7l-2.6-.8zM452.7 267.7l2.6 .8l2.6-.8l-2.6-.8zM457.9 267.7l2.6 .8l2.6-.9l-2.6-.7zM434.5 267.7l2.6 1l2.6-.7l-2.6-.9zM439.7 268l2.6 .9l2.6-.6l-2.6-.9zM444.9 268.3l2.6 .8l2.6-.7l-2.6-.8zM450.1 268.4l2.6 .9l2.6-.8l-2.6-.8z" fill="#0000fc" stroke="#0000fc"/>
<path d="M470.7 258l2.6 .4l2.6-.8l-2.6-.4zM468.1 258.8l2.6 .5l2.6-.9l-2.6-.4zM460.4 259.7l2.6 .6l2.6-.8l-2.6-.5zM465.6 259.5l2.6 .6l2.5-.8l-2.6-.5zM452.6 260.4l2.6 .7l2.6-.7l-2.6-.7zM457.8 260.4l2.6 .6l2.6-.7l-2.6-.6zM444.8 260.9l2.6 .8l2.6-.7l-2.6-.7zM450 261l2.6 .8l2.6-.7l-2.6-.7z" fill="#0000ef" stroke="#0000ef"/>
<path d="M496.6 254.7l2.6 .1l2.5-1.2l-2.6-.1zM494 255.8l2.6 .2l2.6-1.2l-2.6-.1zM486.3 260.4l2.6 .4l2.5-1.2l-2.6-.3zM483.7 261.5l2.6 .4l2.6-1.1l-2.6-.4zM481.1 262.5l2.6 .4l2.6-1l-2.6-.4zM478.6 263.5l2.6 .5l2.5-1.1l-2.6-.4zM476 264.5l2.6 .5l2.6-1l-2.6-.5zM473.4 265.5l2.6 .6l2.6-1.1l-2.6-.5zM470.8 266.5l2.6 .5l2.6-.9l-2.6-.6zM468.3 267.4l2.6 .6l2.5-1l-2.6-.5zM465.7 268.3l2.6 .7l2.6-1l-2.6-.6zM457.9 269.3l2.6 .7l2.6-.8l-2.6-.7zM463.1 269.2l2.6 .7l2.6-.9l-2.6-.7zM439.7 269.6l2.6 .9l2.6-.7l-2.6-.9zM444.9 269.8l2.7 .9l2.5-.7l-2.6-.9zM450.1 270l2.7 .9l2.5-.8l-2.6-.8zM455.3 270.1l2.7 .8l2.5-.9l-2.6-.7zM460.5 270l2.7 .8l2.5-.9l-2.6-.7zM442.3 270.5l2.7 .9l2.6-.7l-2.7-.9zM447.6 270.7l2.6 .9l2.6-.7l-2.7-.9zM452.8 270.9l2.6 .8l2.6-.8l-2.7-.8z" fill="#0008ff" stroke="#0008ff"/>
<path d="M483.6 257.4l2.6 .3l2.6-1.1l-2.6-.2zM481.1 258.3l2.6 .4l2.5-1l-2.6-.3zM478.5 259.3l2.6 .4l2.6-1l-2.6-.4zM475.9 260.2l2.6 .4l2.6-.9l-2.6-.4zM473.3 261.1l2.6 .5l2.6-1l-2.6-.4zM465.6 262.3l2.6 .6l2.6-.9l-2.6-.6zM463 263.1l2.6 .6l2.6-.8l-2.6-.6zM455.2 263.9l2.6 .8l2.6-.8l-2.6-.7zM460.4 263.9l2.6 .7l2.6-.9l-2.6-.6zM431.8 263.8l2.6 .9l2.6-.6l-2.6-.9zM437 264.1l2.6 .9l2.6-.6l-2.6-.9zM442.2 264.4l2.7 .8l2.5-.6l-2.6-.9zM447.4 264.6l2.7 .8l2.5-.7l-2.6-.8zM452.6 264.7l2.7 .7l2.5-.7l-2.6-.8z" fill="#0000f6" stroke="#0000f6"/>
<path d="M488.8 256.6l2.6 .3l2.6-1.1l-2.6-.2zM486.2 257.7l2.6 .3l2.6-1.1l-2.6-.3zM483.7 258.7l2.6 .3l2.5-1l-2.6-.3zM481.1 259.7l2.6 .3l2.6-1l-2.6-.3zM478.5 260.6l2.6 .5l2.6-1.1l-2.6-.3zM475.9 261.6l2.6 .5l2.6-1l-2.6-.5zM473.4 262.5l2.6 .5l2.5-.9l-2.6-.5zM470.8 263.4l2.6 .6l2.6-1l-2.6-.5zM468.2 264.3l2.6 .6l2.6-.9l-2.6-.6zM460.4 265.4l2.6 .7l2.6-.9l-2.6-.6zM465.6 265.2l2.6 .6l2.6-.9l-2.6-.6zM426.6 264.9l2.6 .9l2.6-.5l-2.6-1zM452.7 266.2l2.6 .7l2.6-.7l-2.6-.8zM457.9 266.2l2.6 .7l2.5-.8l-2.6-.7zM429.2 265.8l2.6 1l2.6-.6l-2.6-.9zM434.4 266.2l2.7 .9l2.6-.6l-2.7-.9zM439.7 266.5l2.6 .9l2.6-.7l-2.6-.8zM444.9 266.7l2.6 .9l2.6-.7l-2.6-.8zM450.1 266.9l2.6 .8l2.6-.8l-2.6-.7zM455.3 266.9l2.6 .8l2.6-.8l-2.6-.7z" fill="#0000fa" stroke="#0000fa"/>
<path d="M499.2 254.8l2.6 .2l2.5-1.3l-2.6-.1zM496.6 256l2.6 .2l2.6-1.2l-2.6-.2zM491.4 259.6l2.7 .3l2.5-1.2l-2.6-.2zM488.9 260.8l2.6 .3l2.6-1.2l-2.7-.3zM486.3 261.9l2.6 .3l2.6-1.1l-2.6-.3zM481.2 265.5l2.6 .5l2.6-1.1l-2.6-.4zM478.6 266.6l2.6 .5l2.6-1.1l-2.6-.5zM476.1 267.6l2.6 .6l2.5-1.1l-2.6-.5zM473.5 268.6l2.6 .6l2.6-1l-2.6-.6zM470.9 269.6l2.6 .7l2.6-1.1l-2.6-.6zM468.3 270.6l2.7 .7l2.5-1l-2.6-.7zM460.6 271.7l2.6 .8l2.6-1l-2.6-.7zM465.8 271.5l2.6 .8l2.6-1l-2.7-.7zM447.6 272.3l2.6 1l2.6-.8l-2.6-.9zM452.8 272.5l2.6 .9l2.6-.9l-2.6-.8zM458 272.5l2.6 .9l2.6-.9l-2.6-.8zM450.2 273.3l2.6 .9l2.6-.8l-2.6-.9zM455.4 273.4l2.6 .8l2.6-.8l-2.6-.9z" fill="#0024ff" stroke="#0024ff"/>
<path d="M491.4 256.9l2.6 .2l2.6-1.1l-2.6-.2zM488.8 258l2.6 .2l2.6-1.1l-2.6-.2zM486.3 259l2.5 .3l2.6-1.1l-2.6-.2zM483.7 260l2.6 .4l2.5-1.1l-2.5-.3zM468.2 265.8l2.6 .7l2.6-1l-2.6-.6zM465.7 266.7l2.6 .7l2.5-.9l-2.6-.7zM463.1 267.6l2.6 .7l2.6-.9l-2.6-.7zM455.3 268.5l2.6 .8l2.6-.8l-2.6-.8zM460.5 268.5l2.6 .7l2.6-.9l-2.6-.7zM437.1 268.7l2.6 .9l2.6-.7l-2.6-.9zM442.3 268.9l2.6 .9l2.6-.7l-2.6-.8zM447.5 269.1l2.6 .9l2.6-.7l-2.6-.9zM452.7 269.3l2.6 .8l2.6-.8l-2.6-.8z" fill="#0000fe" stroke="#0000fe"/>
<path d="M501.8 255l2.6 .1l2.5-1.3l-2.6-.1zM499.2 256.2l2.6 .1l2.6-1.2l-2.6-.1zM494.1 259.9l2.6 .3l2.5-1.2l-2.6-.3zM491.5 261.1l2.6 .3l2.6-1.2l-2.6-.3zM488.9 263.7l2.7 .4l2.5-1.2l-2.6-.3zM486.4 264.9l2.6 .4l2.6-1.2l-2.7-.4zM483.8 266l2.6 .5l2.6-1.2l-2.6-.4zM481.2 267.1l2.6 .5l2.6-1.1l-2.6-.5zM476.1 270.9l2.7 .6l2.5-1.1l-2.6-.6zM473.6 272l2.6 .6l2.6-1.1l-2.7-.6zM471 273l2.6 .7l2.6-1.1l-2.6-.6zM463.2 274.2l2.7 .8l2.5-1l-2.6-.8zM468.4 274l2.7 .7l2.5-1l-2.6-.7zM460.7 275.1l2.6 .9l2.6-1l-2.7-.8zM465.9 275l2.6 .8l2.6-1.1l-2.7-.7zM458.1 276l2.6 .9l2.6-.9l-2.6-.9z" fill="#003fff" stroke="#003fff"/>
<path d="M468.2 260.1l2.5 .5l2.6-.9l-2.6-.4zM465.6 260.9l2.6 .5l2.5-.8l-2.5-.5zM457.8 261.8l2.6 .6l2.6-.7l-2.6-.7zM463 261.7l2.6 .6l2.6-.9l-2.6-.5zM439.6 262l2.6 .9l2.6-.6l-2.6-.8zM444.8 262.3l2.6 .8l2.6-.7l-2.6-.7zM450 262.4l2.6 .8l2.6-.7l-2.6-.7zM455.2 262.5l2.6 .7l2.6-.8l-2.6-.6zM437 262.6l2.6 .9l2.6-.6l-2.6-.9zM442.2 262.9l2.6 .8l2.6-.6l-2.6-.8z" fill="#0000f2" stroke="#0000f2"/>
<path d="M494 257.1l2.6 .2l2.6-1.1l-2.6-.2zM491.4 258.2l2.6 .3l2.6-1.2l-2.6-.2zM488.8 259.3l2.6 .3l2.6-1.1l-2.6-.3zM483.7 262.9l2.6 .5l2.6-1.2l-2.6-.3zM481.2 264l2.6 .5l2.5-1.1l-2.6-.5zM478.6 265l2.6 .5l2.6-1l-2.6-.5zM476 266.1l2.6 .5l2.6-1.1l-2.6-.5zM473.4 267l2.7 .6l2.5-1l-2.6-.5zM470.9 268l2.6 .6l2.6-1l-2.7-.6zM468.3 269l2.6 .6l2.6-1l-2.6-.6zM465.7 269.9l2.6 .7l2.6-1l-2.6-.6zM458 270.9l2.6 .8l2.6-.9l-2.7-.8zM463.2 270.8l2.6 .7l2.5-.9l-2.6-.7zM445 271.4l2.6 .9l2.6-.7l-2.6-.9zM450.2 271.6l2.6 .9l2.6-.8l-2.6-.8zM455.4 271.7l2.6 .8l2.6-.8l-2.6-.8z" fill="#0016ff" stroke="#0016ff"/>
<path d="M504.4 255.1l2.6 .1l2.5-1.3l-2.6-.1zM501.8 256.3l2.6 .2l2.6-1.3l-2.6-.1zM499.2 259l2.6 .2l2.6-1.3l-2.6-.2zM496.7 260.2l2.6 .3l2.5-1.3l-2.6-.2zM491.6 264.1l2.6 .4l2.5-1.3l-2.6-.3zM489 265.3l2.6 .4l2.6-1.2l-2.6-.4zM486.5 268.1l2.6 .4l2.5-1.2l-2.6-.4zM483.9 269.2l2.6 .5l2.6-1.2l-2.6-.4zM481.3 270.4l2.6 .5l2.6-1.2l-2.6-.5zM478.8 271.5l2.6 .6l2.5-1.2l-2.6-.5zM476.3 274.4l2.6 .6l2.5-1.1l-2.6-.7zM473.7 275.5l2.6 .7l2.6-1.2l-2.6-.6zM471.1 276.6l2.7 .7l2.5-1.1l-2.6-.7zM468.6 277.6l2.6 .9l2.6-1.2l-2.7-.7zM466 278.7l2.6 .9l2.6-1.1l-2.6-.9z" fill="#005aff" stroke="#005aff"/>
<path d="M496.6 257.3l2.6 .2l2.6-1.2l-2.6-.1zM494 258.5l2.6 .2l2.6-1.2l-2.6-.2zM488.9 262.2l2.6 .4l2.6-1.2l-2.6-.3zM486.3 263.4l2.6 .3l2.6-1.1l-2.6-.4zM483.8 264.5l2.6 .4l2.5-1.2l-2.6-.3zM478.7 268.2l2.6 .5l2.5-1.1l-2.6-.5zM476.1 269.2l2.6 .6l2.6-1.1l-2.6-.5zM473.5 270.3l2.6 .6l2.6-1.1l-2.6-.6zM471 271.3l2.6 .7l2.5-1.1l-2.6-.6zM463.2 272.5l2.6 .7l2.6-.9l-2.6-.8zM468.4 272.3l2.6 .7l2.6-1l-2.6-.7zM460.6 273.4l2.6 .8l2.6-1l-2.6-.7zM465.8 273.2l2.6 .8l2.6-1l-2.6-.7zM452.8 274.2l2.7 .9l2.5-.9l-2.6-.8zM458 274.2l2.7 .9l2.5-.9l-2.6-.8zM455.5 275.1l2.6 .9l2.6-.9l-2.7-.9z" fill="#0031ff" stroke="#0031ff"/>
<path d="M507 255.2l2.6 .1l2.6-1.3l-2.7-.1zM504.4 256.5l2.6 .1l2.6-1.3l-2.6-.1zM501.8 259.2l2.7 .2l2.5-1.3l-2.6-.2zM499.3 260.5l2.6 .2l2.6-1.3l-2.7-.2zM496.7 263.2l2.7 .3l2.5-1.2l-2.6-.3zM494.2 264.5l2.6 .3l2.6-1.3l-2.7-.3zM491.6 267.3l2.7 .4l2.5-1.3l-2.6-.3zM489.1 268.5l2.6 .5l2.6-1.3l-2.7-.4zM486.6 271.4l2.6 .5l2.6-1.2l-2.7-.5zM484 272.7l2.6 .5l2.6-1.3l-2.6-.5zM481.4 273.9l2.7 .6l2.5-1.3l-2.6-.5zM478.9 276.9l2.7 .7l2.5-1.3l-2.6-.6zM476.4 278.1l2.6 .8l2.6-1.3l-2.7-.7zM473.8 279.3l2.7 .8l2.5-1.2l-2.6-.8zM476.5 280.1l2.6 .8l2.5-1.3l-2.6-.7zM473.9 281.3l2.6 .9l2.6-1.3l-2.6-.8z" fill="#0076ff" stroke="#0076ff"/>
<path d="M499.2 257.5l2.6 .2l2.6-1.2l-2.6-.2zM496.6 258.7l2.6 .3l2.6-1.3l-2.6-.2zM494.1 261.4l2.6 .3l2.6-1.2l-2.6-.3zM491.5 262.6l2.6 .3l2.6-1.2l-2.6-.3zM486.4 266.5l2.6 .4l2.6-1.2l-2.6-.4zM483.8 267.6l2.7 .5l2.5-1.2l-2.6-.4zM481.3 268.7l2.6 .5l2.6-1.1l-2.7-.5zM478.7 269.8l2.6 .6l2.6-1.2l-2.6-.5zM476.2 272.6l2.6 .6l2.6-1.1l-2.6-.6zM473.6 273.7l2.7 .7l2.5-1.2l-2.6-.6zM471.1 274.7l2.6 .8l2.6-1.1l-2.7-.7zM463.3 276l2.6 .8l2.6-1l-2.6-.8zM468.5 275.8l2.6 .8l2.6-1.1l-2.6-.8zM460.7 276.9l2.7 .9l2.5-1l-2.6-.8zM465.9 276.8l2.7 .8l2.5-1l-2.6-.8zM463.4 277.8l2.6 .9l2.6-1.1l-2.7-.8z" fill="#004dff" stroke="#004dff"/>
<path d="M509.6 255.3l2.6 .2l2.6-1.4l-2.6-.1zM507 256.6l2.6 .2l2.6-1.3l-2.6-.2zM504.5 259.4l2.6 .2l2.5-1.3l-2.6-.2zM499.4 263.5l2.6 .3l2.5-1.3l-2.6-.2zM496.8 266.4l2.7 .4l2.5-1.4l-2.6-.3zM494.3 267.7l2.6 .4l2.6-1.3l-2.7-.4zM491.8 270.7l2.6 .4l2.5-1.3l-2.6-.4zM489.2 271.9l2.6 .5l2.6-1.3l-2.6-.4zM486.7 275l2.6 .6l2.6-1.4l-2.6-.5zM484.1 276.3l2.7 .6l2.5-1.3l-2.6-.6zM484.2 278.3l2.6 .6l2.6-1.4l-2.6-.6zM481.6 279.6l2.7 .7l2.5-1.4l-2.6-.6z" fill="#0091ff" stroke="#0091ff"/>
<path d="M501.8 257.7l2.6 .2l2.6-1.3l-2.6-.1zM496.7 261.7l2.6 .3l2.6-1.3l-2.6-.2zM494.1 262.9l2.6 .3l2.6-1.2l-2.6-.3zM491.6 265.7l2.6 .4l2.6-1.3l-2.6-.3zM489 266.9l2.6 .4l2.6-1.2l-2.6-.4zM486.5 269.7l2.6 .5l2.6-1.2l-2.6-.5zM483.9 270.9l2.7 .5l2.5-1.2l-2.6-.5zM481.4 272.1l2.6 .6l2.6-1.3l-2.7-.5zM478.8 273.2l2.6 .7l2.6-1.2l-2.6-.6zM478.9 275l2.6 .7l2.6-1.2l-2.7-.6zM476.3 276.2l2.6 .7l2.6-1.2l-2.6-.7zM473.8 277.3l2.6 .8l2.5-1.2l-2.6-.7zM471.2 278.5l2.6 .8l2.6-1.2l-2.6-.8zM468.6 279.6l2.7 .9l2.5-1.2l-2.6-.8zM471.3 280.5l2.6 .8l2.6-1.2l-2.7-.8z" fill="#0068ff" stroke="#0068ff"/>
<path d="M512.2 255.5l2.6 .1l2.6-1.4l-2.6-.1zM509.6 258.3l2.7 .1l2.6-1.3l-2.7-.2zM507.1 261.2l2.6 .2l2.6-1.4l-2.6-.2zM502 265.4l2.7 .3l2.5-1.4l-2.6-.2zM499.5 268.4l2.6 .4l2.6-1.4l-2.6-.3zM496.9 269.8l2.7 .3l2.5-1.3l-2.6-.4zM497 271.5l2.6 .4l2.6-1.4l-2.6-.4zM494.4 272.9l2.7 .4l2.5-1.4l-2.6-.4z" fill="#00baff" stroke="#00baff"/>
<path d="M504.4 257.9l2.6 .2l2.6-1.3l-2.6-.2zM501.9 260.7l2.6 .2l2.6-1.3l-2.6-.2zM499.3 262l2.6 .3l2.6-1.4l-2.6-.2zM496.8 264.8l2.6 .3l2.6-1.3l-2.6-.3zM494.2 266.1l2.6 .3l2.6-1.3l-2.6-.3zM491.7 269l2.6 .4l2.6-1.3l-2.6-.4zM489.1 270.2l2.7 .5l2.5-1.3l-2.6-.4zM486.6 273.2l2.7 .5l2.5-1.3l-2.6-.5zM484.1 274.5l2.6 .5l2.6-1.3l-2.7-.5zM481.5 275.7l2.6 .6l2.6-1.3l-2.6-.5zM481.6 277.6l2.6 .7l2.6-1.4l-2.7-.6zM479 278.9l2.6 .7l2.6-1.3l-2.6-.7zM479.1 280.9l2.6 .8l2.6-1.4l-2.7-.7zM476.5 282.2l2.7 .9l2.5-1.4l-2.6-.8z" fill="#0084ff" stroke="#0084ff"/>
<path d="M509.6 256.8l2.6 .1l2.6-1.3l-2.6-.1zM507.1 259.6l2.6 .2l2.6-1.4l-2.7-.1zM504.5 262.5l2.7 .2l2.5-1.3l-2.6-.2zM502 263.8l2.6 .3l2.6-1.4l-2.7-.2zM499.5 266.8l2.6 .3l2.6-1.4l-2.7-.3zM496.9 268.1l2.6 .3l2.6-1.3l-2.6-.3zM494.4 271.1l2.6 .4l2.6-1.4l-2.7-.3zM491.9 274.2l2.6 .5l2.6-1.4l-2.7-.4z" fill="#00adff" stroke="#00adff"/>
<path d="M514.8 255.6l2.6 .1l2.6-1.4l-2.6-.1zM512.3 258.4l2.6 .2l2.6-1.4l-2.6-.1zM509.7 261.4l2.7 .2l2.5-1.5l-2.6-.1zM507.2 264.3l2.7 .3l2.5-1.5l-2.6-.2zM504.7 265.7l2.6 .3l2.6-1.4l-2.7-.3zM502.1 268.8l2.7 .3l2.5-1.5l-2.6-.2z" fill="#00d6ff" stroke="#00d6ff"/>
<path d="M507 258.1l2.6 .2l2.6-1.4l-2.6-.1zM504.5 260.9l2.6 .3l2.6-1.4l-2.6-.2zM501.9 262.3l2.6 .2l2.6-1.3l-2.6-.3zM499.4 265.1l2.6 .3l2.6-1.3l-2.6-.3zM494.3 269.4l2.6 .4l2.6-1.4l-2.6-.3zM491.8 272.4l2.6 .5l2.6-1.4l-2.6-.4zM489.3 273.7l2.6 .5l2.5-1.3l-2.6-.5zM489.3 275.6l2.7 .5l2.5-1.4l-2.6-.5zM486.8 276.9l2.6 .6l2.6-1.4l-2.7-.5z" fill="#009fff" stroke="#009fff"/>
<path d="M512.2 256.9l2.7 .2l2.5-1.4l-2.6-.1zM509.7 259.8l2.6 .2l2.6-1.4l-2.6-.2zM507.2 262.7l2.6 .2l2.6-1.3l-2.7-.2zM504.6 264.1l2.6 .2l2.6-1.4l-2.6-.2zM502.1 267.1l2.6 .3l2.6-1.4l-2.6-.3zM499.6 270.1l2.6 .4l2.6-1.4l-2.7-.3z" fill="#00c8ff" stroke="#00c8ff"/>
<path d="M517.4 255.7l2.7 .1l2.5-1.4l-2.6-.1zM514.9 258.6l2.6 .1l2.6-1.4l-2.6-.1zM512.4 261.6l2.6 .1l2.6-1.4l-2.7-.2zM509.9 264.6l2.6 .2l2.6-1.5l-2.7-.2z" fill="#00f1ff" stroke="#00f1ff"/>
<path d="M514.9 257.1l2.6 .1l2.6-1.4l-2.7-.1zM512.3 260l2.6 .1l2.6-1.4l-2.6-.1zM509.8 262.9l2.6 .2l2.6-1.4l-2.6-.1zM507.3 266l2.6 .2l2.6-1.4l-2.6-.2zM504.7 267.4l2.6 .2l2.6-1.4l-2.6-.2z" fill="#00e4ff" stroke="#00e4ff"/>
<path d="M520.1 255.8l2.6 .1l2.6-1.5l-2.7 0zM517.5 258.7l2.7 .2l2.5-1.5l-2.6-.1zM515 261.7l2.6 .2l2.6-1.5l-2.6-.1z" fill="#00fff2" stroke="#00fff2"/>
<path d="M517.5 257.2l2.6 .1l2.6-1.4l-2.6-.1zM514.9 260.1l2.7 .2l2.6-1.4l-2.7-.2zM512.4 263.1l2.7 .2l2.5-1.4l-2.6-.2z" fill="#00ffff" stroke="#00ffff"/>
<path d="M522.7 255.9l2.6 .1l2.6-1.5l-2.6-.1zM520.1 257.3l2.6 .1l2.6-1.4l-2.6-.1zM517.6 260.3l2.6 .1l2.6-1.4l-2.6-.1z" fill="#00ffe5" stroke="#00ffe5"/>
<path d="M525.3 256l2.7 .1l2.5-1.5l-2.6-.1zM522.7 257.4l2.7 .1l2.6-1.4l-2.7-.1z" fill="#00ffcb" stroke="#00ffcb"/>
<path d="M520.2 258.9l2.6 .1l2.6-1.5l-2.7-.1z" fill="#00ffd8" stroke="#00ffd8"/>
</g>
<path d="M426.6 264.9 L429.2 264.3 L431.8 263.8 L434.4 263.2 L437 262.6 L439.6 262 L442.2 261.5 L444.8 260.9 L447.4 260.3 L450 259.7 L452.6 259 L455.2 258.4 L457.8 257.8 L460.4 257.2 L463 256.6 L465.6 255.9 L468.2 255.3 L470.8 254.7 L473.3 254 L475.9 253.4 L478.5 252.7 M426.6 264.9 L429.2 265.8 L431.8 266.8 L434.5 267.7 L437.1 268.7 L439.7 269.6 L442.3 270.5 L445 271.4 L447.6 272.3 L450.2 273.3 L452.8 274.2 L455.5 275.1 L458.1 276 L460.7 276.9 L463.4 277.8 L466 278.7 L468.6 279.6 L471.3 280.5 L473.9 281.3 L476.5 282.2 L479.2 283.1 M429.2 265.8 L431.8 265.3 L434.4 264.7 L437 264.1 L439.6 263.5 L442.2 262.9 L444.8 262.3 L447.4 261.7 L450 261 L452.6 260.4 L455.2 259.7 L457.8 259.1 L460.4 258.4 L463 257.7 L465.6 257.1 L468.2 256.4 L470.7 255.7 L473.3 255 L475.9 254.3 L478.5 253.5 L481.1 252.8 M429.2 264.3 L431.8 265.3 L434.4 266.2 L437.1 267.1 L439.7 268 L442.3 268.9 L444.9 269.8 L447.6 270.7 L450.2 271.6 L452.8 272.5 L455.4 273.4 L458 274.2 L460.7 275.1 L463.3 276 L465.9 276.8 L468.6 277.6 L471.2 278.5 L473.8 279.3 L476.5 280.1 L479.1 280.9 L481.7 281.7 M431.8 266.8 L434.4 266.2 L437 265.6 L439.6 265 L442.2 264.4 L444.8 263.7 L447.4 263.1 L450 262.4 L452.6 261.8 L455.2 261.1 L457.8 260.4 L460.4 259.7 L463 259 L465.6 258.3 L468.1 257.5 L470.7 256.8 L473.3 256 L475.9 255.3 L478.5 254.5 L481.1 253.7 L483.6 252.9 M431.8 263.8 L434.4 264.7 L437 265.6 L439.7 266.5 L442.3 267.4 L444.9 268.3 L447.5 269.1 L450.1 270 L452.8 270.9 L455.4 271.7 L458 272.5 L460.6 273.4 L463.2 274.2 L465.9 275 L468.5 275.8 L471.1 276.6 L473.8 277.3 L476.4 278.1 L479 278.9 L481.6 279.6 L484.3 280.3 M434.5 267.7 L437.1 267.1 L439.7 266.5 L442.3 265.9 L444.9 265.2 L447.4 264.6 L450 263.9 L452.6 263.2 L455.2 262.5 L457.8 261.8 L460.4 261 L463 260.3 L465.6 259.5 L468.1 258.8 L470.7 258 L473.3 257.2 L475.9 256.4 L478.5 255.6 L481 254.7 L483.6 253.9 L486.2 253 M434.4 263.2 L437 264.1 L439.6 265 L442.3 265.9 L444.9 266.7 L447.5 267.6 L450.1 268.4 L452.7 269.3 L455.3 270.1 L458 270.9 L460.6 271.7 L463.2 272.5 L465.8 273.2 L468.4 274 L471.1 274.7 L473.7 275.5 L476.3 276.2 L478.9 276.9 L481.6 277.6 L484.2 278.3 L486.8 278.9 M437.1 268.7 L439.7 268 L442.3 267.4 L444.9 266.7 L447.5 266.1 L450.1 265.4 L452.6 264.7 L455.2 263.9 L457.8 263.2 L460.4 262.4 L463 261.7 L465.6 260.9 L468.2 260.1 L470.7 259.3 L473.3 258.4 L475.9 257.6 L478.5 256.7 L481 255.8 L483.6 255 L486.2 254.1 L488.8 253.1 M437 262.6 L439.6 263.5 L442.2 264.4 L444.9 265.2 L447.5 266.1 L450.1 266.9 L452.7 267.7 L455.3 268.5 L457.9 269.3 L460.5 270 L463.2 270.8 L465.8 271.5 L468.4 272.3 L471 273 L473.6 273.7 L476.3 274.4 L478.9 275 L481.5 275.7 L484.1 276.3 L486.8 276.9 L489.4 277.5 M439.7 269.6 L442.3 268.9 L444.9 268.3 L447.5 267.6 L450.1 266.9 L452.7 266.2 L455.3 265.4 L457.8 264.7 L460.4 263.9 L463 263.1 L465.6 262.3 L468.2 261.4 L470.7 260.6 L473.3 259.7 L475.9 258.9 L478.5 258 L481.1 257 L483.6 256.1 L486.2 255.2 L488.8 254.2 L491.4 253.2 M439.6 262 L442.2 262.9 L444.8 263.7 L447.4 264.6 L450.1 265.4 L452.7 266.2 L455.3 266.9 L457.9 267.7 L460.5 268.5 L463.1 269.2 L465.7 269.9 L468.3 270.6 L471 271.3 L473.6 272 L476.2 272.6 L478.8 273.2 L481.4 273.9 L484.1 274.5 L486.7 275 L489.3 275.6 L492 276.1 M442.3 270.5 L444.9 269.8 L447.5 269.1 L450.1 268.4 L452.7 267.7 L455.3 266.9 L457.9 266.2 L460.4 265.4 L463 264.6 L465.6 263.7 L468.2 262.9 L470.8 262 L473.3 261.1 L475.9 260.2 L478.5 259.3 L481.1 258.3 L483.6 257.4 L486.2 256.4 L488.8 255.4 L491.4 254.4 L494 253.4 M442.2 261.5 L444.8 262.3 L447.4 263.1 L450 263.9 L452.6 264.7 L455.3 265.4 L457.9 266.2 L460.5 266.9 L463.1 267.6 L465.7 268.3 L468.3 269 L470.9 269.6 L473.5 270.3 L476.1 270.9 L478.8 271.5 L481.4 272.1 L484 272.7 L486.6 273.2 L489.3 273.7 L491.9 274.2 L494.5 274.7 M445 271.4 L447.6 270.7 L450.1 270 L452.7 269.3 L455.3 268.5 L457.9 267.7 L460.5 266.9 L463 266.1 L465.6 265.2 L468.2 264.3 L470.8 263.4 L473.4 262.5 L475.9 261.6 L478.5 260.6 L481.1 259.7 L483.7 258.7 L486.2 257.7 L488.8 256.6 L491.4 255.6 L494 254.5 L496.5 253.5 M444.8 260.9 L447.4 261.7 L450 262.4 L452.6 263.2 L455.2 263.9 L457.8 264.7 L460.4 265.4 L463 266.1 L465.7 266.7 L468.3 267.4 L470.9 268 L473.5 268.6 L476.1 269.2 L478.7 269.8 L481.3 270.4 L483.9 270.9 L486.6 271.4 L489.2 271.9 L491.8 272.4 L494.4 272.9 L497.1 273.3 M447.6 272.3 L450.2 271.6 L452.8 270.9 L455.3 270.1 L457.9 269.3 L460.5 268.5 L463.1 267.6 L465.7 266.7 L468.2 265.8 L470.8 264.9 L473.4 264 L476 263 L478.5 262.1 L481.1 261.1 L483.7 260 L486.3 259 L488.8 258 L491.4 256.9 L494 255.8 L496.6 254.7 L499.1 253.5 M447.4 260.3 L450 261 L452.6 261.8 L455.2 262.5 L457.8 263.2 L460.4 263.9 L463 264.6 L465.6 265.2 L468.2 265.8 L470.8 266.5 L473.4 267 L476.1 267.6 L478.7 268.2 L481.3 268.7 L483.9 269.2 L486.5 269.7 L489.1 270.2 L491.8 270.7 L494.4 271.1 L497 271.5 L499.6 271.9 M450.2 273.3 L452.8 272.5 L455.4 271.7 L458 270.9 L460.5 270 L463.1 269.2 L465.7 268.3 L468.3 267.4 L470.8 266.5 L473.4 265.5 L476 264.5 L478.6 263.5 L481.1 262.5 L483.7 261.5 L486.3 260.4 L488.8 259.3 L491.4 258.2 L494 257.1 L496.6 256 L499.2 254.8 L501.7 253.6 M450 259.7 L452.6 260.4 L455.2 261.1 L457.8 261.8 L460.4 262.4 L463 263.1 L465.6 263.7 L468.2 264.3 L470.8 264.9 L473.4 265.5 L476 266.1 L478.6 266.6 L481.2 267.1 L483.8 267.6 L486.5 268.1 L489.1 268.5 L491.7 269 L494.3 269.4 L496.9 269.8 L499.6 270.1 L502.2 270.5 M452.8 274.2 L455.4 273.4 L458 272.5 L460.6 271.7 L463.2 270.8 L465.7 269.9 L468.3 269 L470.9 268 L473.4 267 L476 266.1 L478.6 265 L481.2 264 L483.7 262.9 L486.3 261.9 L488.9 260.8 L491.4 259.6 L494 258.5 L496.6 257.3 L499.2 256.2 L501.8 255 L504.3 253.7 M452.6 259 L455.2 259.7 L457.8 260.4 L460.4 261 L463 261.7 L465.6 262.3 L468.2 262.9 L470.8 263.4 L473.4 264 L476 264.5 L478.6 265 L481.2 265.5 L483.8 266 L486.4 266.5 L489 266.9 L491.6 267.3 L494.3 267.7 L496.9 268.1 L499.5 268.4 L502.1 268.8 L504.8 269.1 M455.5 275.1 L458 274.2 L460.6 273.4 L463.2 272.5 L465.8 271.5 L468.3 270.6 L470.9 269.6 L473.5 268.6 L476.1 267.6 L478.6 266.6 L481.2 265.5 L483.8 264.5 L486.3 263.4 L488.9 262.2 L491.5 261.1 L494.1 259.9 L496.6 258.7 L499.2 257.5 L501.8 256.3 L504.4 255.1 L506.9 253.8 M455.2 258.4 L457.8 259.1 L460.4 259.7 L463 260.3 L465.6 260.9 L468.2 261.4 L470.8 262 L473.4 262.5 L476 263 L478.6 263.5 L481.2 264 L483.8 264.5 L486.4 264.9 L489 265.3 L491.6 265.7 L494.2 266.1 L496.8 266.4 L499.5 266.8 L502.1 267.1 L504.7 267.4 L507.3 267.6 M458.1 276 L460.7 275.1 L463.2 274.2 L465.8 273.2 L468.4 272.3 L471 271.3 L473.5 270.3 L476.1 269.2 L478.7 268.2 L481.2 267.1 L483.8 266 L486.4 264.9 L488.9 263.7 L491.5 262.6 L494.1 261.4 L496.7 260.2 L499.2 259 L501.8 257.7 L504.4 256.5 L507 255.2 L509.5 253.9 M457.8 257.8 L460.4 258.4 L463 259 L465.6 259.5 L468.2 260.1 L470.7 260.6 L473.3 261.1 L475.9 261.6 L478.5 262.1 L481.1 262.5 L483.7 262.9 L486.3 263.4 L488.9 263.7 L491.6 264.1 L494.2 264.5 L496.8 264.8 L499.4 265.1 L502 265.4 L504.7 265.7 L507.3 266 L509.9 266.2 M460.7 276.9 L463.3 276 L465.9 275 L468.4 274 L471 273 L473.6 272 L476.1 270.9 L478.7 269.8 L481.3 268.7 L483.8 267.6 L486.4 266.5 L489 265.3 L491.6 264.1 L494.1 262.9 L496.7 261.7 L499.3 260.5 L501.8 259.2 L504.4 257.9 L507 256.6 L509.6 255.3 L512.2 254 M460.4 257.2 L463 257.7 L465.6 258.3 L468.1 258.8 L470.7 259.3 L473.3 259.7 L475.9 260.2 L478.5 260.6 L481.1 261.1 L483.7 261.5 L486.3 261.9 L488.9 262.2 L491.5 262.6 L494.1 262.9 L496.7 263.2 L499.4 263.5 L502 263.8 L504.6 264.1 L507.2 264.3 L509.9 264.6 L512.5 264.8 M463.4 277.8 L465.9 276.8 L468.5 275.8 L471.1 274.7 L473.6 273.7 L476.2 272.6 L478.8 271.5 L481.3 270.4 L483.9 269.2 L486.5 268.1 L489 266.9 L491.6 265.7 L494.2 264.5 L496.7 263.2 L499.3 262 L501.9 260.7 L504.5 259.4 L507 258.1 L509.6 256.8 L512.2 255.5 L514.8 254.1 M463 256.6 L465.6 257.1 L468.1 257.5 L470.7 258 L473.3 258.4 L475.9 258.9 L478.5 259.3 L481.1 259.7 L483.7 260 L486.3 260.4 L488.9 260.8 L491.5 261.1 L494.1 261.4 L496.7 261.7 L499.3 262 L501.9 262.3 L504.5 262.5 L507.2 262.7 L509.8 262.9 L512.4 263.1 L515.1 263.3 M466 278.7 L468.6 277.6 L471.1 276.6 L473.7 275.5 L476.3 274.4 L478.8 273.2 L481.4 272.1 L483.9 270.9 L486.5 269.7 L489.1 268.5 L491.6 267.3 L494.2 266.1 L496.8 264.8 L499.4 263.5 L501.9 262.3 L504.5 260.9 L507.1 259.6 L509.6 258.3 L512.2 256.9 L514.8 255.6 L517.4 254.2 M465.6 255.9 L468.2 256.4 L470.7 256.8 L473.3 257.2 L475.9 257.6 L478.5 258 L481.1 258.3 L483.7 258.7 L486.3 259 L488.8 259.3 L491.4 259.6 L494.1 259.9 L496.7 260.2 L499.3 260.5 L501.9 260.7 L504.5 260.9 L507.1 261.2 L509.7 261.4 L512.4 261.6 L515 261.7 L517.6 261.9 M468.6 279.6 L471.2 278.5 L473.8 277.3 L476.3 276.2 L478.9 275 L481.4 273.9 L484 272.7 L486.6 271.4 L489.1 270.2 L491.7 269 L494.3 267.7 L496.8 266.4 L499.4 265.1 L502 263.8 L504.5 262.5 L507.1 261.2 L509.7 259.8 L512.3 258.4 L514.9 257.1 L517.4 255.7 L520 254.3 M468.2 255.3 L470.7 255.7 L473.3 256 L475.9 256.4 L478.5 256.7 L481.1 257 L483.6 257.4 L486.2 257.7 L488.8 258 L491.4 258.2 L494 258.5 L496.6 258.7 L499.2 259 L501.8 259.2 L504.5 259.4 L507.1 259.6 L509.7 259.8 L512.3 260 L514.9 260.1 L517.6 260.3 L520.2 260.4 M471.3 280.5 L473.8 279.3 L476.4 278.1 L478.9 276.9 L481.5 275.7 L484.1 274.5 L486.6 273.2 L489.2 271.9 L491.8 270.7 L494.3 269.4 L496.9 268.1 L499.5 266.8 L502 265.4 L504.6 264.1 L507.2 262.7 L509.7 261.4 L512.3 260 L514.9 258.6 L517.5 257.2 L520.1 255.8 L522.6 254.4 M470.8 254.7 L473.3 255 L475.9 255.3 L478.5 255.6 L481 255.8 L483.6 256.1 L486.2 256.4 L488.8 256.6 L491.4 256.9 L494 257.1 L496.6 257.3 L499.2 257.5 L501.8 257.7 L504.4 257.9 L507 258.1 L509.6 258.3 L512.3 258.4 L514.9 258.6 L517.5 258.7 L520.2 258.9 L522.8 259 M473.9 281.3 L476.5 280.1 L479 278.9 L481.6 277.6 L484.1 276.3 L486.7 275 L489.3 273.7 L491.8 272.4 L494.4 271.1 L496.9 269.8 L499.5 268.4 L502.1 267.1 L504.7 265.7 L507.2 264.3 L509.8 262.9 L512.4 261.6 L514.9 260.1 L517.5 258.7 L520.1 257.3 L522.7 255.9 L525.3 254.4 M473.3 254 L475.9 254.3 L478.5 254.5 L481 254.7 L483.6 255 L486.2 255.2 L488.8 255.4 L491.4 255.6 L494 255.8 L496.6 256 L499.2 256.2 L501.8 256.3 L504.4 256.5 L507 256.6 L509.6 256.8 L512.2 256.9 L514.9 257.1 L517.5 257.2 L520.1 257.3 L522.7 257.4 L525.4 257.5 M476.5 282.2 L479.1 280.9 L481.6 279.6 L484.2 278.3 L486.8 276.9 L489.3 275.6 L491.9 274.2 L494.4 272.9 L497 271.5 L499.6 270.1 L502.1 268.8 L504.7 267.4 L507.3 266 L509.9 264.6 L512.4 263.1 L515 261.7 L517.6 260.3 L520.2 258.9 L522.7 257.4 L525.3 256 L527.9 254.5 M475.9 253.4 L478.5 253.5 L481.1 253.7 L483.6 253.9 L486.2 254.1 L488.8 254.2 L491.4 254.4 L494 254.5 L496.6 254.7 L499.2 254.8 L501.8 255 L504.4 255.1 L507 255.2 L509.6 255.3 L512.2 255.5 L514.8 255.6 L517.4 255.7 L520.1 255.8 L522.7 255.9 L525.3 256 L528 256.1 M479.2 283.1 L481.7 281.7 L484.3 280.3 L486.8 278.9 L489.4 277.5 L492 276.1 L494.5 274.7 L497.1 273.3 L499.6 271.9 L502.2 270.5 L504.8 269.1 L507.3 267.6 L509.9 266.2 L512.5 264.8 L515.1 263.3 L517.6 261.9 L520.2 260.4 L522.8 259 L525.4 257.5 L528 256.1 L530.5 254.6 M478.5 252.7 L481.1 252.8 L483.6 252.9 L486.2 253 L488.8 253.1 L491.4 253.2 L494 253.4 L496.5 253.5 L499.1 253.5 L501.7 253.6 L504.3 253.7 L506.9 253.8 L509.5 253.9 L512.2 254 L514.8 254.1 L517.4 254.2 L520 254.3 L522.6 254.4 L525.3 254.4 L527.9 254.5 L530.5 254.6" fill="none" stroke="#000" stroke-opacity="0.5" stroke-width=".4"/>
<rect x="460.5" y="219.5" width="8" height="3.6" fill="#f4f4f4" stroke="#999" stroke-width=".3"/><text x="464.5" y="222.3" font-size="3" fill="#888" text-anchor="middle">67.5</text><path d="M468.4 223.1 V258.0" stroke="#444" stroke-width=".4"/>
<g font-size="5.4" font-weight="bold" fill="#111"><text x="422" y="221" text-anchor="end">90</text><text x="422.4" y="232.8" text-anchor="end">80</text><text x="422.8" y="244.7" text-anchor="end">70</text><text x="423.3" y="256.5" text-anchor="end">60</text><text x="423.7" y="268.4" text-anchor="end">50</text><text x="424.1" y="280.2" text-anchor="end">40</text><text x="422.3" y="297.7" text-anchor="middle">60</text><text x="436.5" y="305.9" text-anchor="middle">50</text><text x="446.8" y="310.8" text-anchor="middle">40</text><text x="456.8" y="316.2" text-anchor="middle">30</text><text x="467.2" y="321.3" text-anchor="middle">20</text><text x="475.9" y="326.6" text-anchor="middle">10</text><text x="482.7" y="326.6" text-anchor="middle">30</text><text x="489.3" y="321.5" text-anchor="middle">36</text><text x="499.5" y="316.2" text-anchor="middle">42</text><text x="509.5" y="310.8" text-anchor="middle">48</text><text x="519.6" y="305.3" text-anchor="middle">54</text><text x="529.5" y="299.9" text-anchor="middle">60</text></g>
<text x="432.1" y="323.7" font-size="5.6" font-weight="bold" fill="#111" text-anchor="middle" textLength="43.9" lengthAdjust="spacingAndGlyphs">C: Temperature (°C)</text>
<text x="529.1" y="323.7" font-size="5.6" font-weight="bold" fill="#111" text-anchor="middle" textLength="36.4" lengthAdjust="spacingAndGlyphs">D: Time (minute)</text>
<text x="410.3" y="265.7" font-size="5.6" font-weight="bold" fill="#111" text-anchor="middle" textLength="52" lengthAdjust="spacingAndGlyphs" transform="rotate(-90 410.3 265.7)">TFC <tspan font-weight="normal">(mg QE/g extract)</tspan></text>
<text x="394.3" y="183.4" font-size="10.6" font-weight="bold" fill="#000">(l)</text></g>
</svg>
</body></html>
